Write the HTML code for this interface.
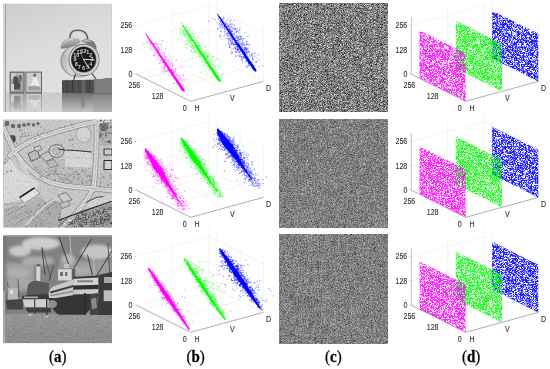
<!DOCTYPE html>
<html><head><meta charset="utf-8"><title>Figure</title>
<style>html,body{margin:0;padding:0;background:#fff;width:550px;height:369px;overflow:hidden}</style>
</head><body>
<svg width="550" height="369" viewBox="0 0 550 369" style="position:absolute;left:0;top:0"><defs><filter id="dn0" x="0" y="0" width="1" height="1" color-interpolation-filters="sRGB"><feTurbulence type="fractalNoise" baseFrequency="5.3" numOctaves="1" seed="30" result="n"/><feColorMatrix in="n" type="matrix" values="0 0 0 0 0  0 0 0 0 0  0 0 0 0 0  0 0 0 6 -2.3" result="m"/><feGaussianBlur in="m" stdDeviation=".35" result="mb"/><feComposite in="SourceGraphic" in2="mb" operator="in"/></filter><filter id="dn1" x="0" y="0" width="1" height="1" color-interpolation-filters="sRGB"><feTurbulence type="fractalNoise" baseFrequency="5.3" numOctaves="1" seed="31" result="n"/><feColorMatrix in="n" type="matrix" values="0 0 0 0 0  0 0 0 0 0  0 0 0 0 0  0 0 0 6 -2.3" result="m"/><feGaussianBlur in="m" stdDeviation=".35" result="mb"/><feComposite in="SourceGraphic" in2="mb" operator="in"/></filter><filter id="dn2" x="0" y="0" width="1" height="1" color-interpolation-filters="sRGB"><feTurbulence type="fractalNoise" baseFrequency="5.3" numOctaves="1" seed="32" result="n"/><feColorMatrix in="n" type="matrix" values="0 0 0 0 0  0 0 0 0 0  0 0 0 0 0  0 0 0 6 -2.3" result="m"/><feGaussianBlur in="m" stdDeviation=".35" result="mb"/><feComposite in="SourceGraphic" in2="mb" operator="in"/></filter><filter id="dn3" x="0" y="0" width="1" height="1" color-interpolation-filters="sRGB"><feTurbulence type="fractalNoise" baseFrequency="5.3" numOctaves="1" seed="33" result="n"/><feColorMatrix in="n" type="matrix" values="0 0 0 0 0  0 0 0 0 0  0 0 0 0 0  0 0 0 6 -2.3" result="m"/><feGaussianBlur in="m" stdDeviation=".35" result="mb"/><feComposite in="SourceGraphic" in2="mb" operator="in"/></filter><filter id="dn4" x="0" y="0" width="1" height="1" color-interpolation-filters="sRGB"><feTurbulence type="fractalNoise" baseFrequency="5.3" numOctaves="1" seed="34" result="n"/><feColorMatrix in="n" type="matrix" values="0 0 0 0 0  0 0 0 0 0  0 0 0 0 0  0 0 0 6 -2.3" result="m"/><feGaussianBlur in="m" stdDeviation=".35" result="mb"/><feComposite in="SourceGraphic" in2="mb" operator="in"/></filter><filter id="dn5" x="0" y="0" width="1" height="1" color-interpolation-filters="sRGB"><feTurbulence type="fractalNoise" baseFrequency="5.3" numOctaves="1" seed="35" result="n"/><feColorMatrix in="n" type="matrix" values="0 0 0 0 0  0 0 0 0 0  0 0 0 0 0  0 0 0 6 -2.3" result="m"/><feGaussianBlur in="m" stdDeviation=".35" result="mb"/><feComposite in="SourceGraphic" in2="mb" operator="in"/></filter><filter id="dn6" x="0" y="0" width="1" height="1" color-interpolation-filters="sRGB"><feTurbulence type="fractalNoise" baseFrequency="5.3" numOctaves="1" seed="36" result="n"/><feColorMatrix in="n" type="matrix" values="0 0 0 0 0  0 0 0 0 0  0 0 0 0 0  0 0 0 6 -2.3" result="m"/><feGaussianBlur in="m" stdDeviation=".35" result="mb"/><feComposite in="SourceGraphic" in2="mb" operator="in"/></filter><filter id="dn7" x="0" y="0" width="1" height="1" color-interpolation-filters="sRGB"><feTurbulence type="fractalNoise" baseFrequency="5.3" numOctaves="1" seed="37" result="n"/><feColorMatrix in="n" type="matrix" values="0 0 0 0 0  0 0 0 0 0  0 0 0 0 0  0 0 0 6 -2.3" result="m"/><feGaussianBlur in="m" stdDeviation=".35" result="mb"/><feComposite in="SourceGraphic" in2="mb" operator="in"/></filter><filter id="dn8" x="0" y="0" width="1" height="1" color-interpolation-filters="sRGB"><feTurbulence type="fractalNoise" baseFrequency="5.3" numOctaves="1" seed="38" result="n"/><feColorMatrix in="n" type="matrix" values="0 0 0 0 0  0 0 0 0 0  0 0 0 0 0  0 0 0 6 -2.3" result="m"/><feGaussianBlur in="m" stdDeviation=".35" result="mb"/><feComposite in="SourceGraphic" in2="mb" operator="in"/></filter><filter id="cn0" x="0" y="0" width="1" height="1" color-interpolation-filters="sRGB"><feTurbulence type="fractalNoise" baseFrequency="5.3" numOctaves="1" seed="11"/><feColorMatrix type="matrix" values="1.4 0 0 0 -.2  1.4 0 0 0 -.2  1.4 0 0 0 -.2  0 0 0 0 1"/><feGaussianBlur stdDeviation=".55"/></filter>
<filter id="cn1" x="0" y="0" width="1" height="1" color-interpolation-filters="sRGB"><feTurbulence type="fractalNoise" baseFrequency="5.3" numOctaves="1" seed="13"/><feColorMatrix type="matrix" values=".85 0 0 0 .075  .85 0 0 0 .075  .85 0 0 0 .075  0 0 0 0 1"/><feGaussianBlur stdDeviation=".4"/></filter>
<filter id="cn2" x="0" y="0" width="1" height="1" color-interpolation-filters="sRGB"><feTurbulence type="fractalNoise" baseFrequency="5.3" numOctaves="1" seed="17"/><feColorMatrix type="matrix" values=".85 0 0 0 .075  .85 0 0 0 .075  .85 0 0 0 .075  0 0 0 0 1"/><feGaussianBlur stdDeviation=".4"/></filter>
</defs><style>line{stroke-width:.6;fill:none}.g{stroke:#ededed}.a{stroke:#8a8a8a;stroke-width:.7}.a2{stroke:#9a9a9a;stroke-width:.6}.t{stroke:#b0b0b0}.pt{fill:none;stroke-width:.6;stroke-linecap:square}text{font:8.4px "Liberation Sans",Arial,sans-serif;fill:#2e2e2e;stroke:#2e2e2e;stroke-width:.1}.nm{font:bold 5.4px "Liberation Sans",sans-serif;fill:#d0d0d0;stroke:none;text-anchor:middle}.cap{font:15px "Liberation Serif",serif;fill:#000;stroke:#000;stroke-width:.25}</style><rect x="279" y="3.6" width="109" height="108.4" filter="url(#cn0)"/><rect x="279" y="119" width="109" height="108.8" filter="url(#cn1)"/><rect x="279" y="234.8" width="109" height="108.4" filter="url(#cn2)"/><line class="g" x1="227" y1="91.3" x2="172.6" y2="64.2"/><line class="g" x1="167.5" y1="89.7" x2="240.1" y2="69.8"/><line class="g" x1="144.3" y1="78.2" x2="216.9" y2="58.3"/><line class="g" x1="136.3" y1="74.2" x2="208.9" y2="54.3"/><line class="g" x1="208.9" y1="54.3" x2="263.3" y2="81.4"/><line class="g" x1="136.3" y1="49.8" x2="208.9" y2="29.9"/><line class="g" x1="136.3" y1="25.4" x2="208.9" y2="5.5"/><line class="g" x1="172.6" y1="64.2" x2="172.6" y2="7.1"/><line class="g" x1="208.9" y1="54.3" x2="208.9" y2="-2.9"/><line class="g" x1="263.3" y1="57" x2="208.9" y2="29.9"/><line class="g" x1="263.3" y1="32.6" x2="208.9" y2="5.5"/><line class="g" x1="263.3" y1="81.4" x2="263.3" y2="24.2"/><line class="g" x1="240.1" y1="69.8" x2="240.1" y2="12.6"/><line class="g" x1="216.9" y1="58.3" x2="216.9" y2="1.1"/><line class="a" x1="136.3" y1="74.2" x2="190.7" y2="101.3"/><line class="a" x1="190.7" y1="101.3" x2="263.3" y2="81.4"/><line class="t" x1="134.3" y1="74.2" x2="136" y2="74.2"/><line class="t" x1="134.3" y1="49.8" x2="136" y2="49.8"/><line class="t" x1="134.3" y1="25.4" x2="136" y2="25.4"/><path fill="#ff00ff" d="M145.1 33.1 145.9 34.6 146.7 36 147.5 37.5 148.5 38.9 149.4 40.4 150.4 41.8 151.3 43.3 152.2 44.8 153.2 46.2 154.1 47.7 155.1 49.1 156 50.6 157 52 157.9 53.5 158.8 55 159.8 56.4 160.7 57.9 161.7 59.3 162.6 60.8 163.5 62.2 164.5 63.7 165.4 65.2 166.4 66.6 167.3 68.1 168.3 69.5 169.2 71 170.1 72.5 171.1 73.9 172 75.4 173 76.8 173.9 78.3 174.9 79.7 175.8 81.2 176.7 82.7 177.7 84.1 178.6 85.6 179.6 87 180.5 88.5 181.6 89.9 183.2 91.4 184.9 91.4 184.7 89.9 183.8 88.5 182.8 87 181.8 85.6 180.8 84.1 179.8 82.7 178.8 81.2 177.8 79.7 176.8 78.3 175.8 76.8 174.8 75.4 173.8 73.9 172.8 72.5 171.8 71 170.8 69.5 169.8 68.1 168.8 66.6 167.8 65.2 166.8 63.7 165.8 62.2 164.9 60.8 163.9 59.3 162.9 57.9 161.9 56.4 160.9 55 159.9 53.5 158.9 52 157.9 50.6 156.9 49.1 155.9 47.7 154.9 46.2 153.9 44.8 152.9 43.3 151.9 41.8 150.9 40.4 149.9 38.9 148.9 37.5 147.8 36 146.6 34.6 145.5 33.1Z"/><path stroke="#ff00ff" class="pt" opacity=".75" d="M170.9 62.6h.1M175.6 68.8h.1M150.5 44.3h.1M168.5 70.6h.1M152 49.6h.1M175.4 71.9h.1M154.4 55.9h.1M156 59.8h.1M163.3 40.3h.1M164.4 59.6h.1M153.6 44.3h.1M156.8 52.1h.1M167.6 67.7h.1M172.7 72.2h.1M154 55.5h.1M172.6 72.1h.1M173.5 78.4h.1M173.4 69.2h.1M164 69.1h.1M175.8 79.9h.1M160.7 60.9h.1M177 74.9h.1M156.7 43.2h.1M154.9 50.2h.1M159.4 49h.1M173.1 72.7h.1M163.9 64h.1M169.2 66.7h.1M165.6 57.3h.1M164.1 68.3h.1M179 76h.1M184.4 81.7h.1M172.9 63.9h.1M151.9 40.8h.1M162.8 61.8h.1M168.2 61.2h.1M161.9 69h.1M154.1 48.8h.1M164.7 70.4h.1M163.6 62.5h.1M172.5 75.2h.1M152.6 46.6h.1M161.4 47.2h.1M173.5 72.4h.1M159.6 63.7h.1M153.9 48.6h.1M167.6 69.9h.1M181.6 75.4h.1M166.3 58.1h.1M163.5 62.5h.1M162.6 71.4h.1M179.4 79.1h.1M154 43.9h.1M158 48.8h.1M171.8 65h.1M164.8 64.9h.1M169 54.4h.1M163.6 67.3h.1M175.8 68.5h.1M172.6 65.5h.1M183.3 74.7h.1M170.2 63h.1M159.2 63.2h.1M148.9 41h.1M160.9 57.6h.1M162.5 65.3h.1M164.7 58.9h.1M175.2 71h.1M182.6 82h.1M164.3 56.8h.1M178.2 83.8h.1M158.9 61.3h.1M161.5 40.6h.1M161.5 45.8h.1M151.3 49.6h.1M165.4 65.8h.1M176.2 85.9h.1M180.7 78h.1M172.1 69.7h.1M166.6 62.8h.1M169.9 65.1h.1M172.3 60.1h.1M182.7 80.1h.1M160.6 60.5h.1M165.5 71.6h.1M166.3 56.8h.1M183.2 88.4h.1M161.5 60.1h.1M182.5 66.9h.1M165.6 71.4h.1M149.8 48h.1M167 61.1h.1M170.4 72.3h.1M146.6 41.2h.1M176.6 59.7h.1M186.5 87h.1M180.4 66.2h.1M162.6 62.7h.1M165.7 62.4h.1M175.9 60.9h.1M168.8 76.2h.1M168.2 70.7h.1M171.5 69.6h.1M177.9 84h.1M173 71h.1M176.6 73.9h.1M158.6 50.4h.1M167.5 71.1h.1M181.4 80.2h.1M172.7 67.4h.1M160.2 44h.1M158 55.3h.1M154.6 43.9h.1M156.9 47.3h.1M183.5 75h.1M162.3 62.1h.1M155.3 52.6h.1M165.1 58.9h.1M174 83.7h.1M164.9 72.2h.1M155 44.2h.1M173.6 71.3h.1M158.4 50.7h.1M174.1 73h.1M172.2 66.2h.1M159.4 49.2h.1M147.7 42.6h.1M165.3 48.7h.1M150 42.1h.1M171.9 75.9h.1M164.5 55.6h.1M165.2 57.1h.1M180.8 79.8h.1M164.2 52.3h.1M171.2 75.7h.1M168.3 66h.1M157.7 44.4h.1M168.6 63.1h.1M183.9 79.5h.1M162.3 50.9h.1M158.3 55.8h.1M177.9 75.7h.1M166.3 62.9h.1M158.2 58.7h.1M178.1 80h.1M163.1 67.1h.1M164.4 53.4h.1M167.2 67.9h.1M156.1 46.9h.1M166.7 60.1h.1M165.1 48.2h.1M165.6 60.7h.1M168 59.3h.1M166.6 70.6h.1M156.2 44.8h.1M175.6 70.2h.1M158.6 56.7h.1M171.3 66.4h.1M169.9 71.6h.1M176.9 74.9h.1M169.5 67.7h.1M172.8 70.5h.1M160.9 52.4h.1M143.6 43.8h.1M172.7 72.4h.1M167.7 69.7h.1M157.9 47.5h.1M157.4 53.1h.1M177 73.1h.1M164.6 60h.1M168.8 60.2h.1M168.6 66.2h.1M176.9 76.7h.1M157.6 43.5h.1M164.7 66.3h.1M186.3 79.7h.1M158.2 46.2h.1M154.1 54.6h.1M164.9 59.8h.1M170.2 64.8h.1M183.4 84.8h.1M173.6 71.5h.1M179.6 75.7h.1M151.4 43.8h.1M157.7 48.8h.1M164.2 69.1h.1M154.7 53.8h.1M164.5 66.1h.1M156.3 53h.1M162.6 52.9h.1M183.2 88.7h.1M160.9 49.4h.1M180.4 78.5h.1M166.1 65.7h.1M171.9 69.7h.1M177.8 79.7h.1M168.4 64.4h.1M174.1 83.4h.1M163.3 61.5h.1M165.4 67.2h.1M155.6 42.2h.1M171.7 69.5h.1M149.4 43.9h.1M158.7 47.3h.1M177.6 84.5h.1M153.8 43.4h.1M158.5 51.8h.1M171.7 70.3h.1M170.1 56.8h.1M171.8 63.4h.1M154 46h.1M151.8 43h.1M158.4 51.1h.1M178.5 83.5h.1M172.1 73.5h.1M151.1 44.1h.1M172.7 74.9h.1M181.8 87.2h.1M180 86.2h.1M164.9 63.5h.1M146.8 35.4h.1M157 51.3h.1M172.5 73.9h.1M150.8 42.1h.1M161.4 56.6h.1M156.7 50.2h.1M182 89.4h.1M178.7 83.6h.1M162.7 58.1h.1M157.9 52.4h.1M161.5 56.9h.1M154.2 47.3h.1M150.9 41.5h.1M171.7 74.1h.1M148.4 36.9h.1M167.7 67.5h.1M146.7 34.2h.1M151.2 43.4h.1M160.7 54.1h.1M168.8 69.8h.1M179.7 84.3h.1M150.3 41.3h.1M183.5 90.3h.1M172.9 72.8h.1M159.4 56.1h.1M165 64.8h.1M181.5 90.1h.1M174.1 73.5h.1M163.9 61.9h.1M174.4 77h.1M157.5 52h.1M148.5 37.1h.1M149.8 39.3h.1M179 84.2h.1M176 79.3h.1M172.2 75.3h.1M177 82.1h.1M173.6 73.8h.1M149.9 40.2h.1M151 43.5h.1M182.5 89.4h.1M172.4 69.5h.1M149.7 40.5h.1M183.8 91.1h.1M165.8 64.9h.1M176.1 80.1h.1M170.2 69.1h.1M172.4 73.4h.1M152.6 43.2h.1M164.2 61.6h.1"/><path fill="#00ff00" d="M181.2 23.1 182 24.6 182.8 26 183.6 27.5 184.6 29 185.5 30.4 186.4 31.9 187.4 33.4 188.3 34.8 189.3 36.3 190.2 37.8 191.1 39.2 192.1 40.7 193 42.1 194 43.6 194.9 45.1 195.8 46.5 196.8 48 197.7 49.5 198.7 50.9 199.6 52.4 200.5 53.9 201.5 55.3 202.4 56.8 203.4 58.3 204.3 59.7 205.2 61.2 206.2 62.7 207.1 64.1 208.1 65.6 209 67.1 209.9 68.5 210.9 70 211.8 71.4 212.8 72.9 213.7 74.4 214.6 75.8 215.6 77.3 216.5 78.8 217.6 80.2 219.2 81.7 220.8 81.7 220.5 80.2 219.6 78.8 218.6 77.3 217.6 75.8 216.7 74.4 215.7 72.9 214.7 71.4 213.7 70 212.7 68.5 211.7 67.1 210.7 65.6 209.7 64.1 208.7 62.7 207.7 61.2 206.8 59.7 205.8 58.3 204.8 56.8 203.8 55.3 202.8 53.9 201.8 52.4 200.8 50.9 199.8 49.5 198.8 48 197.8 46.5 196.8 45.1 195.9 43.6 194.9 42.1 193.9 40.7 192.9 39.2 191.9 37.8 190.9 36.3 189.9 34.8 188.9 33.4 187.9 31.9 186.9 30.4 186 29 185 27.5 183.9 26 182.7 24.6 181.6 23.1Z"/><path stroke="#00ff00" class="pt" opacity=".75" d="M201.5 55.6h.1M188 38.5h.1M187.2 29.1h.1M170.2 30.8h.1M200.5 51.3h.1M205.3 61.2h.1M197.1 49.3h.1M184.7 28.1h.1M192.8 45.5h.1M183.5 27.1h.1M204.5 53.3h.1M199.6 46.8h.1M222.5 77.4h.1M209.5 62.9h.1M201.1 56.5h.1M202.9 60.8h.1M197.8 44.7h.1M185.6 31.3h.1M208.8 64.8h.1M183.4 32.3h.1M185.7 47.2h.1M203.5 43.7h.1M198 49.1h.1M207.7 63.5h.1M218.6 75.7h.1M215.5 77.4h.1M199.7 59.4h.1M208.2 53h.1M205.8 61.9h.1M191 46.2h.1M198.9 53h.1M207.2 57.1h.1M198.1 50.5h.1M205.5 48h.1M202.6 51.6h.1M213.4 67.7h.1M199.9 49.9h.1M197 41.2h.1M211.9 67.7h.1M204.1 54.8h.1M198.9 45.5h.1M180 33h.1M217.4 58.8h.1M194.6 36.9h.1M188.5 36.8h.1M191.6 44h.1M206.2 57.9h.1M209.8 62.5h.1M201.4 45h.1M208.1 64.9h.1M192.9 48.7h.1M198 53.1h.1M188.6 39.3h.1M211.7 61.4h.1M208.4 65h.1M186.6 48.5h.1M190.9 41.5h.1M199.1 47.7h.1M200.5 47.8h.1M212.4 57.5h.1M180.5 31.5h.1M216.1 60.7h.1M194.7 50.9h.1M219.3 61.1h.1M198.8 48.2h.1M192.4 37.7h.1M213.1 65.2h.1M205.7 59.3h.1M213.2 64.5h.1M208.9 54.6h.1M196.8 42.4h.1M183.3 33.3h.1M209.9 66.8h.1M185.4 37.7h.1M215.1 70.3h.1M203.8 47h.1M201.2 48.4h.1M212.7 64.8h.1M179.9 28.8h.1M210.9 59.9h.1M192.7 31.1h.1M188.5 43.1h.1M198.8 52.6h.1M206.7 65h.1M194.3 51.3h.1M203.7 55h.1M192 45.8h.1M214.7 65.3h.1M208.2 76h.1M192.4 45.7h.1M203.4 58.4h.1M204.1 53.3h.1M192.4 39.3h.1M212.5 71.4h.1M209.6 70h.1M218.5 67.4h.1M202.9 55h.1M204 56.2h.1M216.8 73.6h.1M205.8 65.5h.1M186.4 32.6h.1M209 61.1h.1M204.8 55.8h.1M209.3 54.7h.1M194.7 51.1h.1M193.5 52.4h.1M189.4 35.5h.1M183.6 34.9h.1M198 46.4h.1M208.4 56.7h.1M207.9 63.1h.1M211.8 56.5h.1M189.8 46.3h.1M207.8 55.3h.1M199.1 51.6h.1M199.6 42.5h.1M202.8 56.1h.1M212.7 68h.1M187.6 36.8h.1M218.8 65.7h.1M214.8 62h.1M209.4 64.2h.1M202.1 54.5h.1M186.5 33.6h.1M193.8 40.8h.1M204.9 57.7h.1M220.8 66.8h.1M195.3 45.6h.1M200 45.6h.1M205.1 56.5h.1M208.7 60.4h.1M207.7 55.8h.1M213.5 71.5h.1M199.6 53.5h.1M199.7 53.8h.1M206.9 63h.1M204.6 51.7h.1M183.6 34h.1M200.2 56.8h.1M205.4 74.7h.1M191.1 27.7h.1M186.6 27.5h.1M202.7 52.9h.1M185.8 25.9h.1M210.9 69.8h.1M187.5 40.1h.1M208.5 62h.1M188.4 36h.1M211.8 67.5h.1M191.1 40.7h.1M187.5 36.4h.1M210.8 63.7h.1M179.4 39.7h.1M206.5 45.2h.1M197.6 46.1h.1M191.4 44.2h.1M196.8 57.3h.1M197.5 46.1h.1M221.2 75.7h.1M193.7 46.5h.1M184.1 30.4h.1M196.8 42.7h.1M203.5 54.1h.1M217.2 75.6h.1M197.7 42.4h.1M184.6 34.8h.1M200.9 50h.1M218.3 76.7h.1M187.6 29.7h.1M191.2 38.1h.1M196.7 52.4h.1M180.8 28.6h.1M196.9 51.3h.1M192.8 48.2h.1M223.7 73.5h.1M202 72.1h.1M191.8 41.3h.1M207.9 56.6h.1M184.4 44.5h.1M207.3 53.1h.1M188.3 40.2h.1M202.4 51.4h.1M198.5 49.2h.1M191.8 52.4h.1M197 52.4h.1M202.8 52.8h.1M206.1 61.4h.1M213.4 67.7h.1M186.7 43.9h.1M217 72h.1M205.7 58.6h.1M200.8 55.7h.1M198.2 46.5h.1M207.4 67.2h.1M206.9 62.6h.1M184.8 35.6h.1M221.5 73.5h.1M188.8 43.8h.1M202.8 54h.1M189.5 37.2h.1M181.6 30.5h.1M197 48.3h.1M211.2 76.3h.1M204.1 65.4h.1M200.7 72.9h.1M202.8 53.7h.1M186.6 34.8h.1M210.1 63.7h.1M206.8 63.1h.1M199.8 51h.1M183.3 30h.1M180.3 33h.1M193.7 47h.1M186.1 33.3h.1M206.7 50.6h.1M194 52.5h.1M188.2 33.4h.1M194.6 53.2h.1M205.6 63.4h.1M194.7 49.8h.1M188 42.4h.1M207.9 72.4h.1M195.9 47.1h.1M201.1 60.6h.1M199.2 54.8h.1M208.4 66h.1M194 46.3h.1M210 65.6h.1M206.2 55.5h.1M209.7 66.1h.1M186.8 40.7h.1M190.2 41.6h.1M192 57.7h.1M199.6 56.4h.1M182.7 30.1h.1M212.2 69.6h.1M198.4 54.6h.1M194.7 33.8h.1M192.4 39.6h.1M191.1 40.2h.1M210.7 62.5h.1M191.1 51.3h.1M207.2 56h.1M196.7 38.7h.1M186.6 44.4h.1M187.5 35.3h.1M191.1 38.8h.1M204.3 54.7h.1M207 57.6h.1M185.1 35.3h.1M192.1 43.6h.1M194.6 45.2h.1M189.2 40.4h.1M194.5 40.2h.1M207.7 52.7h.1M204 58.4h.1M191.6 47.9h.1M204.9 53.3h.1M189.8 38.2h.1M211.1 67.9h.1M207.8 61.5h.1M205.9 46.5h.1M190.5 30.4h.1M205.6 52.9h.1M219.1 77.7h.1M186.2 34.1h.1M197 55.8h.1M207.1 57.4h.1M186 37.7h.1M207.4 56.4h.1M213.7 60.7h.1M201.5 55.3h.1M218.2 65.8h.1M189.9 33.9h.1M197.1 51.2h.1M208.8 69h.1M212.5 74.7h.1M212.1 68.9h.1M199.6 52.4h.1M185 30.3h.1M205 58.7h.1M196.6 46.4h.1M185.6 43.3h.1M181.1 35.9h.1M206.5 56.2h.1M175.3 28.5h.1M206.3 58.1h.1M188.6 34.3h.1M215.7 71.9h.1M218.6 74h.1M190.9 36.9h.1M184.1 35.2h.1M200.7 52.8h.1M205.3 58.4h.1M198 46.8h.1M190.8 46.7h.1M214.8 73.7h.1M193.3 35.8h.1M203.9 45.1h.1M212.7 56.4h.1M185.2 34h.1M208.8 66.7h.1M195.2 43.6h.1M190.4 40h.1M209.8 70.3h.1M186.5 26.7h.1M205.7 59.3h.1M205.3 50.9h.1M193.8 48.5h.1M208.9 64.7h.1M190 37.2h.1M195.9 47.6h.1M189.3 29.7h.1M201.8 55h.1M206.6 59.8h.1M185.7 34.9h.1M204 57.9h.1M211.7 61h.1M199.2 55.9h.1M188.9 41.2h.1M186.2 40.2h.1M179.3 29.4h.1M184.4 41.6h.1M191.5 47h.1M200.2 51.4h.1M195 47.1h.1M181.6 34h.1M191.4 50h.1M193.6 37.4h.1M192.7 33.1h.1M188.7 37.6h.1M221.2 75.3h.1M183.4 32h.1M185.6 37.1h.1M198.5 37.7h.1M199.8 42.8h.1M189.9 39.6h.1M207.6 65.2h.1M206.2 62.6h.1M188.1 31.2h.1M204.7 60h.1M205.8 57h.1M193.1 47.8h.1M192.5 45.7h.1M202.9 61.8h.1M197.4 39.9h.1M214.4 74.2h.1M214.8 73.1h.1M195.6 45h.1M196.8 48.4h.1M205.1 59.7h.1M188.2 32.4h.1M209.5 57.6h.1M198.6 44.9h.1M183.6 31.7h.1M202.9 65.8h.1M203 61.1h.1M200.1 52.8h.1M188.1 31.4h.1M194.2 49.2h.1M215.7 66.3h.1M185.6 29.8h.1M204.4 61h.1M197.3 50.3h.1M181.5 33.6h.1M217.6 70.2h.1M218.2 76.4h.1M218.5 75.1h.1M187.2 33.6h.1M204.7 63.9h.1M192 50.9h.1M206.6 63.2h.1M198.8 45.3h.1M198.9 45.9h.1M214.1 70h.1M190.8 38.4h.1M189.8 35.9h.1M189.8 42.5h.1M215.3 66.9h.1M207.6 57.5h.1M219.8 81.1h.1M193.7 40.5h.1M215.6 73.9h.1M193.6 40.1h.1M213.1 71.6h.1M194.8 43.1h.1M196.5 47.5h.1M192.3 39.9h.1M200.3 52h.1M193 40.5h.1M200.5 51.1h.1M198.9 49.1h.1M210.8 69.1h.1M210.9 66.6h.1M215.4 75.2h.1M200.4 54.3h.1M214.5 73h.1M182.3 26.5h.1M188.5 33.1h.1M199.7 52.3h.1M181.6 22.9h.1M212.8 68.9h.1M210.7 65.8h.1M195.8 42.5h.1M186 30.8h.1M185 29.7h.1M200 48.3h.1M216.5 76.5h.1M198.5 49.9h.1M220 81.2h.1M213.9 72.6h.1M211.7 69.3h.1M218.5 79.4h.1M209.5 66.8h.1M201.1 54.3h.1M191.2 35.3h.1M218.3 76.9h.1M203.1 55.7h.1M215.3 72.4h.1M219.1 80.8h.1M207.9 63.7h.1M216.5 75.5h.1M188.9 34.8h.1M185.2 29.6h.1M189.2 36.6h.1M218.7 76.7h.1M204.3 58.6h.1M194.4 42.9h.1M208 61.5h.1M198.2 49.8h.1M214.6 73.7h.1M214.8 71.7h.1M215.5 73.1h.1M217 75.7h.1M196.5 46.1h.1M193.9 41.3h.1M189 34.6h.1M192.1 40.1h.1M201.6 54.6h.1M212.5 70.5h.1"/><path fill="#0000ff" d="M217 13.8 217.7 15.2 218.5 16.7 219.3 18.1 220.3 19.6 221.2 21 222.1 22.4 223.1 23.9 224 25.3 225 26.7 225.9 28.2 226.8 29.6 227.8 31.1 228.7 32.5 229.7 33.9 230.6 35.4 231.5 36.8 232.5 38.2 233.4 39.7 234.4 41.1 235.3 42.5 236.2 44 237.2 45.4 238.1 46.9 239.1 48.3 240 49.7 240.9 51.2 241.9 52.6 242.8 54 243.8 55.5 244.7 56.9 245.6 58.4 246.6 59.8 247.5 61.2 248.5 62.7 249.4 64.1 250.3 65.5 251.3 67 252.2 68.4 253.3 69.9 255 71.3 256.7 71.3 256.4 69.9 255.5 68.4 254.5 67 253.5 65.5 252.6 64.1 251.6 62.7 250.6 61.2 249.6 59.8 248.6 58.4 247.6 56.9 246.6 55.5 245.6 54 244.6 52.6 243.6 51.2 242.6 49.7 241.7 48.3 240.7 46.9 239.7 45.4 238.7 44 237.7 42.5 236.7 41.1 235.7 39.7 234.7 38.2 233.7 36.8 232.8 35.4 231.8 33.9 230.8 32.5 229.8 31.1 228.8 29.6 227.8 28.2 226.8 26.7 225.8 25.3 224.8 23.9 223.8 22.4 222.8 21 221.9 19.6 220.9 18.1 219.8 16.7 218.6 15.2 217.4 13.8Z"/><path stroke="#0000ff" class="pt" opacity=".75" d="M223.1 19h.1M221.5 24.6h.1M242.6 43.1h.1M227.4 30.5h.1M244.8 32.7h.1M226.5 20.5h.1M253.2 53.8h.1M246 59.1h.1M231.8 52.8h.1M241.3 51.3h.1M227.1 33.6h.1M235.5 44.5h.1M230.2 34.9h.1M240.8 47.2h.1M244.9 48.3h.1M229.6 28.8h.1M228.4 42.8h.1M229 32.9h.1M247.8 61.7h.1M242.5 52h.1M230.7 45.2h.1M234 20.3h.1M230.4 35.1h.1M233.8 39h.1M229.5 44.5h.1M229.3 29.3h.1M236.1 44.6h.1M245.2 52.9h.1M237.1 31.5h.1M243.4 38.7h.1M253.7 65.4h.1M246.1 48.3h.1M219.6 23.5h.1M229.6 24h.1M231.5 52h.1M245.8 58.5h.1M249.8 56.2h.1M243.6 38.9h.1M237.2 30.9h.1M246.6 60.9h.1M243.8 57.6h.1M237.4 40.5h.1M238.2 38.3h.1M230.2 24.6h.1M245.1 50.2h.1M241.6 38.9h.1M224.7 30h.1M251 64.9h.1M255.6 61.8h.1M236.6 29.2h.1M228.1 31.7h.1M237.1 46.6h.1M222.1 22.4h.1M239 30.6h.1M235.5 47.6h.1M228.1 33.3h.1M241 49.7h.1M229.1 39h.1M237.6 47.7h.1M242.8 45.5h.1M225 31.8h.1M223.6 21.3h.1M224.4 26.7h.1M237.4 49.7h.1M233 48.5h.1M241.3 48.3h.1M232.4 35.5h.1M240.5 36.6h.1M245.2 53.5h.1M240.4 54.8h.1M249 51.4h.1M249.4 53h.1M224.8 25.4h.1M248.6 62.5h.1M246.5 43.7h.1M244 49.9h.1M240.2 39.7h.1M238.2 40.7h.1M230.3 47.5h.1M238.8 42.1h.1M231.9 39.2h.1M243.6 48.2h.1M238.4 45.4h.1M234.8 39.9h.1M229.7 39.2h.1M246.9 44.9h.1M223.8 17.3h.1M212.4 18.2h.1M223.9 17.7h.1M238.8 32.9h.1M226.6 29.1h.1M229.2 26.8h.1M240.1 47.3h.1M238.5 43.3h.1M244.6 47h.1M243.9 43.3h.1M230.4 22.2h.1M228.3 26.5h.1M232.6 39.2h.1M246.6 57.2h.1M224.7 26.9h.1M240.5 39h.1M243.5 56.5h.1M238.3 52.2h.1M239.8 36.9h.1M237.1 42.9h.1M229.7 37.4h.1M244.3 51.7h.1M235.1 29.7h.1M242.9 54.8h.1M239.7 28.2h.1M242.5 50.9h.1M236.2 56.4h.1M241.2 48h.1M222.7 26.2h.1M238.2 49.3h.1M259 59.7h.1M243.2 52.5h.1M237.2 50.6h.1M240.9 48.4h.1M226.3 33.3h.1M242.4 48.9h.1M233 39.7h.1M241.6 59.5h.1M231.9 35.9h.1M262.8 65.4h.1M257 57.7h.1M230.9 20h.1M231.3 26.1h.1M235.2 42.8h.1M232.4 24.1h.1M229.2 47.4h.1M246.5 53.9h.1M220.2 31.4h.1M248.3 51.7h.1M237.4 49.1h.1M232.2 41.3h.1M227.1 24.4h.1M228.8 44.2h.1M238.1 48.8h.1M232.9 35.4h.1M242.6 51.8h.1M231.1 36.9h.1M234.3 25.3h.1M220 35.3h.1M237.1 47.6h.1M241.1 48.8h.1M238.8 38.2h.1M217.8 29.2h.1M230.8 40.6h.1M224.9 34.6h.1M247 65.8h.1M236 42.2h.1M222 19.5h.1M236.8 31.6h.1M252.2 56.2h.1M219.7 20.8h.1M241.1 57.3h.1M238.1 37h.1M249.3 44.9h.1M233.8 44.6h.1M239.6 39.7h.1M237.8 41.1h.1M232.5 31.7h.1M236.3 52.1h.1M230.2 38.2h.1M222.3 27.6h.1M222.6 19.3h.1M229.9 41h.1M233.7 36.7h.1M228.3 40.8h.1M247.8 61.1h.1M235.5 48.5h.1M228.9 25.6h.1M224.2 26.1h.1M230.6 30.6h.1M241.6 50.8h.1M241.6 38.4h.1M235.9 40.5h.1M251.3 55.7h.1M245.4 49h.1M249.7 54.7h.1M233.9 28.1h.1M243.5 52.9h.1M228.3 25.6h.1M254.5 56.4h.1M238.8 45.5h.1M231.8 42.8h.1M231 49.3h.1M256 62.2h.1M239.2 45.4h.1M243.3 51.4h.1M228.6 35.4h.1M245 57.7h.1M231.1 32.1h.1M242.7 40.1h.1M246.5 48.1h.1M238.4 43.9h.1M230 41.4h.1M229.7 31.5h.1M227.1 26.7h.1M247.4 44.1h.1M230.9 35.1h.1M224.1 25.6h.1M237.5 44.3h.1M235.9 32.1h.1M247.9 56.7h.1M247.8 41.3h.1M234 34.2h.1M239.2 43.8h.1M243.1 57.1h.1M222.1 24.2h.1M251.6 65.9h.1M223.9 27.9h.1M230.8 34.5h.1M245.2 47.9h.1M240.1 48.8h.1M241.7 43.6h.1M234.5 44.4h.1M246.6 52.8h.1M225.3 25.5h.1M248.4 63.9h.1M237.1 40.5h.1M240.9 45.1h.1M248.3 48h.1M245.7 61.3h.1M237.2 48.5h.1M235.4 29.2h.1M258.7 66.2h.1M236.4 35.5h.1M246.3 41.3h.1M231.9 42.9h.1M245.6 56.6h.1M233.2 25.9h.1M232 29.3h.1M239 51.9h.1M234 47.3h.1M253.3 65.7h.1M231.1 32.8h.1M221.8 27.8h.1M231.1 40.2h.1M234.6 48.4h.1M230.5 38.7h.1M253.7 68.5h.1M235 28.1h.1M241.9 47h.1M239.6 48.7h.1M246.1 66.9h.1M232.2 31.4h.1M240.7 46.3h.1M247.5 52.4h.1M248.7 44.4h.1M234 34.4h.1M253.5 66.3h.1M245.3 57.4h.1M227.4 26.9h.1M220.4 21.5h.1M219 24.9h.1M246.4 49.8h.1M227.1 35.3h.1M231.6 24h.1M228.2 28.3h.1M248.6 63h.1M242 53.6h.1M237 44.4h.1M242.8 44.7h.1M232.1 34.5h.1M219.5 27.9h.1M228.5 39.4h.1M229.2 29.8h.1M234.6 40.4h.1M231.5 27h.1M233.8 29.9h.1M251.1 62.9h.1M242.7 42.5h.1M219.2 17.8h.1M232.7 28.1h.1M225.8 22.7h.1M257.9 54.7h.1M247.7 49.7h.1M246.4 41.8h.1M244.2 49.1h.1M246.3 50.8h.1M239.4 56.6h.1M236.1 37.3h.1M231.3 33.3h.1M235.8 42h.1M224.6 32h.1M217.4 23h.1M239.7 30.2h.1M242.9 44.3h.1M235.6 46.5h.1M254.6 53.3h.1M232.8 33.8h.1M231.7 54.2h.1M243.1 49.6h.1M231.1 30.9h.1M239.6 55h.1M238.8 36.1h.1M242.3 49.6h.1M236.9 52.3h.1M237.9 38h.1M243.7 58h.1M236.3 32.2h.1M243.3 53.4h.1M238.3 49.3h.1M247 48.4h.1M250.5 61.9h.1M235.3 28.9h.1M242.4 47h.1M245.2 49.4h.1M224.7 28.3h.1M250.7 64h.1M224 35.9h.1M228.6 25.9h.1M243.7 54.4h.1M240.2 36.1h.1M239.7 52.5h.1M231.3 31.4h.1M208.5 21.2h.1M245.8 56.9h.1M236.2 43.1h.1M221.8 22.9h.1M237.6 28.5h.1M226.5 23.7h.1M246.7 59.7h.1M232.8 52.7h.1M229.5 46.5h.1M251.7 53.2h.1M229 28.3h.1M246.2 60.8h.1M230.5 27.5h.1M248.8 64.1h.1M240.8 43.8h.1M244.3 51.7h.1M252.3 58.5h.1M222.7 24.8h.1M249.2 65.3h.1M237.1 37.8h.1M250.9 63.8h.1M230 33.4h.1M248.3 60h.1M227.1 25.1h.1M236.1 36.5h.1M245.6 54.6h.1M227.3 38.4h.1M237.8 37.1h.1M225.9 27.4h.1M241.5 36.6h.1M220.3 35.8h.1M234.3 42.2h.1M220 26.1h.1M243.1 56.9h.1M237.7 39.4h.1M235.8 42.8h.1M219.8 37.5h.1M241.6 44.6h.1M232.4 43.4h.1M248.6 51.9h.1M220.8 29.7h.1M247.3 49h.1M224.2 26.7h.1M247.5 67.1h.1M229.2 46h.1M235.3 39.1h.1M217.5 28.2h.1M239.9 48.5h.1M221.6 39.3h.1M242 57.9h.1M242.6 51.4h.1M235.3 52.1h.1M232.5 36.6h.1M235.6 42.9h.1M229.6 32.5h.1M237.5 50.3h.1M242.2 49.7h.1M252.3 62.1h.1M227.4 34.4h.1M231.7 44.1h.1M246.9 53.7h.1M246.5 49.9h.1M247 51.8h.1M239.9 42.1h.1M226.3 29.9h.1M235.8 40.3h.1M239 39.4h.1M218.6 18.9h.1M227.7 36.5h.1M221.3 26h.1M247.6 55.7h.1M220.6 22.9h.1M228.9 32.2h.1M226.9 38.9h.1M222.6 22.3h.1M242.6 62h.1M253.3 59.6h.1M232 38h.1M249.7 62.8h.1M232.1 42.5h.1M239.2 44.7h.1M230.6 31.3h.1M236.2 37.8h.1M229.1 30.2h.1M235.7 49.3h.1M234.3 33h.1M238.1 55.4h.1M220.9 25h.1M252.3 57.3h.1M244.7 52.7h.1M248.9 65.7h.1M238.8 49.6h.1M215 19.7h.1M233.2 45.4h.1M251.5 54.9h.1M233 43.8h.1M236.1 49.7h.1M245.2 47.5h.1M252.5 59.3h.1M244.9 44.8h.1M234.3 44.4h.1M239.9 39.8h.1M227.4 33h.1M245.5 54.1h.1M240 52.1h.1M230.2 42.9h.1M242 60.3h.1M256.7 61.4h.1M241 37.7h.1M233.2 43.9h.1M241.7 50.8h.1M240.1 56.4h.1M248.6 58.4h.1M238.7 50.4h.1M230.4 30h.1M224.8 22.5h.1M230.8 36.2h.1M243.1 50h.1M224.6 25.9h.1M248.7 63.8h.1M239.9 51.8h.1M242.2 41.6h.1M240.1 47.6h.1M235.7 44.9h.1M244.5 57.3h.1M228.2 18.7h.1M248 36.5h.1M229 35h.1M218.5 17.1h.1M241.5 56.5h.1M234.4 38.3h.1M242.1 59.1h.1M244.3 50.5h.1M243.8 53.3h.1M235.4 51.6h.1M244.1 52.3h.1M235.5 55.8h.1M230.4 34.5h.1M221 31.9h.1M246 52.6h.1M231.5 37.4h.1M237.2 45.2h.1M232 35.5h.1M246.4 61.9h.1M245.8 51.8h.1M252.1 55h.1M234.3 39.5h.1M252.1 65.4h.1M231.6 33.2h.1M236.7 44.7h.1M235.6 40.3h.1M231.1 43.5h.1M225.9 44.8h.1M232.8 40h.1M244.7 45.2h.1M246.5 44.3h.1M237.4 46.5h.1M220.7 21.4h.1M230 20.1h.1M224.9 29h.1M236.6 44.2h.1M220.6 17.8h.1M219.2 16.7h.1M225.7 26.5h.1M237.1 42.9h.1M222 21.3h.1M248.2 62.8h.1M225 24.3h.1M252.5 67.6h.1M235.6 42.3h.1M253.5 68.6h.1M225.1 24.7h.1M222.8 21.4h.1M249.4 61.1h.1M238.8 45.9h.1M243.2 52.9h.1M223.8 22.8h.1M224.8 23.8h.1M236.5 42.7h.1M241.4 49.6h.1M245.6 56.6h.1M227.5 29.6h.1M222.9 23.1h.1M225.3 24.2h.1M237.1 45h.1M240.6 46.8h.1M249.8 61.8h.1M248.9 62.2h.1M248.7 60.5h.1M230 32.8h.1M238.9 45.6h.1M235 39.3h.1M235.6 40.7h.1M244.5 50.1h.1M241.9 51.4h.1M249 63.1h.1M227.2 28.5h.1M241.7 50.6h.1M233.3 38.3h.1M244.2 53.5h.1M236.7 43.4h.1M254 69.1h.1M237.3 43.9h.1M243.8 53.8h.1M255.3 70.7h.1M253 68h.1M234.4 39.4h.1M220.5 20.9h.1M223.3 23.2h.1M238.6 46.4h.1M255.5 71.4h.1M228.3 31.5h.1M232.2 34.2h.1M229.9 30.3h.1M239.3 45h.1M218.1 14.5h.1M224.6 25.2h.1M245.2 54.5h.1M244 52.5h.1M239.4 45.2h.1M245.3 57.7h.1"/><text transform="translate(132.3 77.2) scale(.84 1)" text-anchor="end">0</text><text transform="translate(132.3 52.8) scale(.84 1)" text-anchor="end">128</text><text transform="translate(132.3 28.4) scale(.84 1)" text-anchor="end">256</text><text transform="translate(186.7 110.7) scale(.84 1)" text-anchor="end">0</text><text transform="translate(163.5 99.1) scale(.84 1)" text-anchor="end">128</text><text transform="translate(140.3 87.6) scale(.84 1)" text-anchor="end">256</text><text transform="translate(194.4 110.8) scale(.84 1)">H</text><text transform="translate(229.9 100.8) scale(.84 1)">V</text><text transform="translate(266 90.9) scale(.84 1)">D</text><line class="g" x1="502" y1="91.3" x2="447.6" y2="64.2"/><line class="g" x1="442.5" y1="89.7" x2="515.1" y2="69.8"/><line class="g" x1="419.3" y1="78.2" x2="491.9" y2="58.3"/><line class="g" x1="411.3" y1="74.2" x2="483.9" y2="54.3"/><line class="g" x1="483.9" y1="54.3" x2="538.3" y2="81.4"/><line class="g" x1="411.3" y1="49.8" x2="483.9" y2="29.9"/><line class="g" x1="411.3" y1="25.4" x2="483.9" y2="5.5"/><line class="g" x1="447.6" y1="64.2" x2="447.6" y2="7.1"/><line class="g" x1="483.9" y1="54.3" x2="483.9" y2="-2.9"/><line class="g" x1="538.3" y1="57" x2="483.9" y2="29.9"/><line class="g" x1="538.3" y1="32.6" x2="483.9" y2="5.5"/><line class="g" x1="538.3" y1="81.4" x2="538.3" y2="24.2"/><line class="g" x1="515.1" y1="69.8" x2="515.1" y2="12.6"/><line class="g" x1="491.9" y1="58.3" x2="491.9" y2="1.1"/><line class="a" x1="411.3" y1="74.2" x2="465.7" y2="101.3"/><line class="a" x1="465.7" y1="101.3" x2="538.3" y2="81.4"/><line class="a2" x1="411.3" y1="74.2" x2="411.3" y2="17"/><line class="t" x1="409.3" y1="74.2" x2="411" y2="74.2"/><line class="t" x1="409.3" y1="49.8" x2="411" y2="49.8"/><line class="t" x1="409.3" y1="25.4" x2="411" y2="25.4"/><polygon points="538.3,81.4 492.1,58.4 492.1,10.7 538.3,33.7" fill="#0000ff" opacity=".88" filter="url(#dn2)"/><polygon points="502,91.3 455.8,68.3 455.8,20.7 502,43.7" fill="#00ff00" opacity=".88" filter="url(#dn1)"/><polygon points="465.7,101.3 419.5,78.3 419.5,30.6 465.7,53.6" fill="#ff00ff" opacity=".88" filter="url(#dn0)"/><text transform="translate(407.3 77.2) scale(.84 1)" text-anchor="end">0</text><text transform="translate(407.3 52.8) scale(.84 1)" text-anchor="end">128</text><text transform="translate(407.3 28.4) scale(.84 1)" text-anchor="end">256</text><text transform="translate(461.7 110.7) scale(.84 1)" text-anchor="end">0</text><text transform="translate(438.5 99.1) scale(.84 1)" text-anchor="end">128</text><text transform="translate(415.3 87.6) scale(.84 1)" text-anchor="end">256</text><text transform="translate(469.4 110.8) scale(.84 1)">H</text><text transform="translate(504.9 100.8) scale(.84 1)">V</text><text transform="translate(541 90.9) scale(.84 1)">D</text><line class="g" x1="227" y1="207.3" x2="172.6" y2="180.2"/><line class="g" x1="167.5" y1="205.7" x2="240.1" y2="185.8"/><line class="g" x1="144.3" y1="194.2" x2="216.9" y2="174.3"/><line class="g" x1="136.3" y1="190.2" x2="208.9" y2="170.3"/><line class="g" x1="208.9" y1="170.3" x2="263.3" y2="197.4"/><line class="g" x1="136.3" y1="165.8" x2="208.9" y2="145.9"/><line class="g" x1="136.3" y1="141.4" x2="208.9" y2="121.5"/><line class="g" x1="172.6" y1="180.2" x2="172.6" y2="123.1"/><line class="g" x1="208.9" y1="170.3" x2="208.9" y2="113.1"/><line class="g" x1="263.3" y1="173" x2="208.9" y2="145.9"/><line class="g" x1="263.3" y1="148.6" x2="208.9" y2="121.5"/><line class="g" x1="263.3" y1="197.4" x2="263.3" y2="140.2"/><line class="g" x1="240.1" y1="185.8" x2="240.1" y2="128.6"/><line class="g" x1="216.9" y1="174.3" x2="216.9" y2="117.1"/><line class="a" x1="136.3" y1="190.2" x2="190.7" y2="217.3"/><line class="a" x1="190.7" y1="217.3" x2="263.3" y2="197.4"/><line class="t" x1="134.3" y1="190.2" x2="136" y2="190.2"/><line class="t" x1="134.3" y1="165.8" x2="136" y2="165.8"/><line class="t" x1="134.3" y1="141.4" x2="136" y2="141.4"/><path fill="#ff00ff" d="M145.4 149.1 145.5 150.6 146 152.2 146.7 153.7 147.3 155.2 148 156.7 148.7 158.2 149.5 159.8 150.2 161.3 151 162.8 151.8 164.3 152.5 165.9 153.3 167.4 154.2 168.9 155.4 170.4 156.6 172 157.8 173.5 159 175 160.2 176.5 161.4 178.1 162.6 179.6 163.7 181.1 164.9 182.7 166.1 184.2 167.2 185.7 168.4 187.2 169.5 188.8 170.6 190.3 171.8 191.8 172.9 193.3 174 194.8 175.1 196.4 176.2 197.9 177.3 199.4 178.4 200.9 179.4 202.5 180.5 204 181.5 205.5 182.6 207 183.6 208.6 184.6 210.1 184.6 210.1 183.6 208.6 182.7 207 181.8 205.5 180.9 204 180 202.5 179.1 200.9 178.2 199.4 177.3 197.9 176.5 196.4 175.6 194.8 174.8 193.3 173.9 191.8 173.1 190.3 172.3 188.8 171.4 187.2 170.6 185.7 169.8 184.2 169 182.7 168.2 181.1 167.4 179.6 166.7 178.1 165.9 176.5 165.1 175 164.4 173.5 163.6 172 162.8 170.4 162.1 168.9 161 167.4 159.8 165.9 158.6 164.3 157.5 162.8 156.3 161.3 155 159.8 153.8 158.2 152.6 156.7 151.3 155.2 150 153.7 148.7 152.2 147.2 150.6 145.4 149.1Z"/><path stroke="#ff00ff" class="pt" opacity=".85" d="M161.1 171.1h.1M147.9 151.7h.1M155.4 162.1h.1M171.6 169.6h.1M183.3 208.6h.1M160.8 177.8h.1M154.5 162.1h.1M149.7 153h.1M155.2 163.1h.1M154.8 157.6h.1M162.7 171.3h.1M147.3 165.3h.1M155 160.8h.1M176 191.1h.1M147.9 161.8h.1M166.9 179.2h.1M177.2 205.1h.1M170.6 194.5h.1M157.3 173.1h.1M163.4 173.3h.1M165.9 169.4h.1M153 158.6h.1M150.8 156h.1M180.4 198.3h.1M167.3 176.3h.1M147.6 157.4h.1M152.3 158.5h.1M166.5 182.4h.1M146.8 153.4h.1M155.4 157.1h.1M146.3 151.8h.1M172.7 192h.1M152.3 167h.1M150.4 155.7h.1M165.7 185.1h.1M156.2 166.6h.1M148 151.7h.1M173.7 193.9h.1M164.5 180.2h.1M155.4 172.8h.1M160.2 167.3h.1M147.7 152.2h.1M151.3 160.1h.1M153.3 176.3h.1M179.1 205.5h.1M158.5 173.9h.1M167 189.6h.1M145.5 149h.1M183.6 198.5h.1M154 161.5h.1M184.8 203.4h.1M148.1 151.8h.1M164.4 167.1h.1M171 173.5h.1M173.9 191.4h.1M168.1 182.2h.1M160.7 167.6h.1M157 162.9h.1M159 167.4h.1M167.7 183.3h.1M160.8 178.1h.1M151 156h.1M157.2 164.9h.1M165 179.3h.1M148.9 154.1h.1M182.2 209.1h.1M168.4 189.5h.1M184.3 205.6h.1M181 204.9h.1M151.9 163h.1M171.5 190.8h.1M156.3 172.4h.1M161.2 162h.1M161.2 180.8h.1M151.3 173h.1M157.5 159h.1M148.3 151.8h.1M170.9 189.2h.1M173 197.9h.1M148.6 153.2h.1M167.1 188h.1M170.2 185.4h.1M160.5 175.1h.1M156.2 164.1h.1M159.2 180.1h.1M159.7 176.2h.1M153.9 165.2h.1M150.1 157.3h.1M158.7 162.3h.1M177.6 189.3h.1M145.5 149.1h.1M164.6 177.7h.1M148.2 154.5h.1M170.3 191.6h.1M149.8 156.4h.1M154.8 160h.1M163.8 181.7h.1M150.6 156.5h.1M153.5 161.5h.1M146.7 150.8h.1M149.9 155.7h.1M146 151.7h.1M153.8 160.8h.1M164.1 179.2h.1M168 179.5h.1M159.1 171.8h.1M167.4 185.6h.1M166.1 183.3h.1M145.2 151.5h.1M169.3 174.1h.1M171.6 196.3h.1M171 191.9h.1M157.4 166.3h.1M156.2 162.1h.1M153.9 167.5h.1M169.9 188.2h.1M160.7 159.2h.1M152.5 158.5h.1M149.4 154.6h.1M161.3 170.1h.1M167.4 174.3h.1M161.4 170.6h.1M173.5 192.6h.1M167.3 184.1h.1M173.7 181.4h.1M172.8 188.4h.1M151.5 154.7h.1M162.4 179.5h.1M149 154.7h.1M155.6 156h.1M145.5 149.4h.1M177.5 200.1h.1M170.3 195.2h.1M173.9 196.5h.1M161.4 179.4h.1M173.7 197.9h.1M159.7 160.5h.1M155.3 169.9h.1M172.8 187.8h.1M169.3 179.2h.1M147 151.1h.1M165.8 187.3h.1M157 170.4h.1M152.1 164.4h.1M172.7 195.2h.1M148.9 153.2h.1M179.3 201h.1M147.8 157.8h.1M156.3 160.5h.1M163.2 171.3h.1M146.8 151.3h.1M173.3 192.9h.1M159.6 168.8h.1M164.3 173.8h.1M160.9 171.3h.1M151.2 153.4h.1M171.2 177.8h.1M175.8 195h.1M161.7 178.5h.1M168.4 182.3h.1M172.4 197.2h.1M149.7 164.9h.1M172.4 193.6h.1M173.2 197.9h.1M165.4 182.1h.1M160.8 168.7h.1M181.4 203.5h.1M169.3 188.8h.1M166.5 185.8h.1M145.8 149.4h.1M147.8 151.3h.1M152 166.6h.1M160.5 178.2h.1M148.8 157.2h.1M168.4 186.2h.1M183 201.7h.1M157.9 160.7h.1M175.2 197.2h.1M175.4 190h.1M181.6 202.6h.1M146.1 149.9h.1M183.2 201.8h.1M162.2 169.1h.1M162.1 177.2h.1M145.3 149.5h.1M175.2 194.6h.1M153.6 163.5h.1M152.8 166.5h.1M151.6 154.7h.1M158.4 163.8h.1M159.4 169.8h.1M147.3 151h.1M166.1 184h.1M165.9 179h.1M151.1 165.1h.1M149.9 153.8h.1M178.3 208.3h.1M163.1 168.5h.1M161.5 183.1h.1M162.6 180.7h.1M164.1 179.2h.1M161.8 178h.1M156.3 162.9h.1M175.3 192.8h.1M151.2 162.2h.1M145.6 149h.1M164.4 175.7h.1M156.6 168.9h.1M157.2 166.4h.1M161.6 180.4h.1M172.2 196.8h.1M178.6 203.7h.1M158.8 165.4h.1M168.1 179.2h.1M178.4 201.2h.1M152 158.3h.1M153.5 167.4h.1M175.2 196.7h.1M163.8 176h.1M174 182.1h.1M148.2 152.6h.1M147.4 162.6h.1M163.3 174.8h.1M172.2 183.6h.1M153.3 165h.1M160.4 170.7h.1M173.9 189.8h.1M181.3 195.3h.1M149.1 161h.1M171.4 185.5h.1M177.4 199.6h.1M169.9 186.4h.1M166 182.3h.1M178 200.4h.1M157 172.7h.1M150.6 156.7h.1M152.5 159.3h.1M168.3 190.1h.1M146.1 150.1h.1M157.2 166.4h.1M184.4 209.4h.1M154.3 156.2h.1M150.6 160.1h.1M147.6 152.7h.1M157 177.7h.1M164.7 174.1h.1M150.5 167.7h.1M148.4 154.8h.1M165.6 184.1h.1M153.4 168.3h.1M164 177.8h.1M151.2 162h.1M177.8 206h.1M157.3 166.8h.1M161.2 170.6h.1M164.3 179.4h.1M158 180.6h.1M168.1 187.2h.1M145.7 154.8h.1M149.7 153.7h.1M157.1 165.9h.1M161.6 179.6h.1M160.6 161.6h.1M155.3 168.3h.1M164.5 172.5h.1M164.1 183h.1M164.5 175.1h.1M152.6 159.2h.1M174.3 204.9h.1M161.8 181.4h.1M163.9 178.3h.1M172.4 195h.1M174.2 194.6h.1M153.1 164.4h.1M167 182h.1M176.7 199.6h.1M158.7 168.8h.1M169.9 192.1h.1M151.2 161.6h.1M156.2 165.3h.1M163.2 174.4h.1M160.8 173.8h.1M172.9 194.2h.1M173.6 192.2h.1M180.4 202.6h.1M176 200.1h.1M170.1 188.6h.1M157.1 166.3h.1M146.2 152.1h.1M150.6 155.6h.1M159.3 168.2h.1M163.9 182.4h.1M154.8 159.1h.1M157.2 162.1h.1M172.4 195.7h.1M160.4 175.4h.1M150.4 156.5h.1M164.2 181.6h.1M170.4 175.2h.1M146.5 150.2h.1M154.3 161.5h.1M166.8 182h.1M147.9 157.4h.1M180.5 204.6h.1M149.8 158h.1M164.7 178.7h.1M155.6 159.2h.1M152.9 166.6h.1M178.2 194.3h.1M157.8 166.2h.1M158.8 172.9h.1M167.5 185.2h.1M163.8 186.4h.1M168.3 183.7h.1M159.2 171.5h.1M145.8 155.6h.1M177.9 204.1h.1M149.7 154.2h.1M155.6 158.2h.1M155 169h.1M147.5 152.5h.1M172.2 187.4h.1M164.4 185.3h.1M170.4 189h.1M150 153.5h.1M155.7 173.2h.1M174.8 190.6h.1M162.7 166.2h.1M146.3 150.9h.1M156.4 161.2h.1M168.5 191.9h.1M169.7 176.6h.1M165.5 179.5h.1M147.8 152.2h.1M151.8 161.5h.1M148.5 164.5h.1M173.9 192.6h.1M172.9 190.1h.1M178.2 200.5h.1M170.6 188.3h.1M160.9 182.7h.1M160.6 178.9h.1M172.1 190.8h.1M175 194.6h.1M164.6 176.5h.1M160.2 166.1h.1M152 155.1h.1M163.1 168.6h.1M147.1 153.5h.1M177.1 189h.1M183.5 205.7h.1M150.6 155.4h.1M155.5 174.7h.1M179.9 201.2h.1M163.9 170.3h.1M153.1 162.2h.1M148.8 159.8h.1M154.4 156.7h.1M171.3 188.5h.1M158.3 176.3h.1M148.6 154.2h.1M162.5 171.2h.1M149.9 156.4h.1M149 152.5h.1M158.7 167.6h.1M162.1 175.1h.1M166.3 185.6h.1M147.1 154.9h.1M153.6 158.2h.1M155.1 171.3h.1M153.1 156.1h.1M147.9 151.3h.1M163.3 176.8h.1M161.6 171.1h.1M155.1 170.3h.1M150.9 157.1h.1M157.6 168.5h.1M154.5 170h.1M173.7 195h.1M159.3 166.5h.1M166 187.7h.1M150.3 170.8h.1M162.8 179.6h.1M151.1 158.9h.1M158.6 167.9h.1M151.9 163.8h.1M156.8 166h.1M147.1 162.3h.1M172.6 198.7h.1M166.7 184.3h.1M169.8 187.9h.1M155.2 161.4h.1M178.2 205.1h.1M172.9 196h.1M146.3 158.5h.1M164.1 178.5h.1M167.7 193.5h.1M160.3 171.6h.1M151.2 164.4h.1M175.7 199.8h.1M182.5 206.1h.1M176.2 199.6h.1M147.2 153.1h.1M152.4 162h.1M182.1 206.9h.1M168.6 179.2h.1M172 180.1h.1M159.9 175.6h.1M164.3 177h.1M184.2 209.1h.1M148.3 155.7h.1M156.2 161.7h.1M145.9 150.7h.1M168.9 179.5h.1M163.2 181.8h.1M150.8 156.7h.1M156.7 165.4h.1M160 173.5h.1M179.2 197.2h.1M163.9 173.6h.1M152 163.6h.1M163.2 171.9h.1M145.7 149.8h.1M165.6 181h.1M150.8 158.2h.1M174.8 192.9h.1M168.6 182.8h.1M152.3 156.4h.1M161.9 170h.1M160.5 171.5h.1M169.7 193.2h.1M146.3 150.2h.1M147.9 152.6h.1M167.3 185.9h.1M163.2 176.5h.1M150.9 165.7h.1M162.9 173.7h.1M146.3 150.3h.1M165.3 175.3h.1M174.6 196.2h.1M175.3 198.4h.1M173.3 185.9h.1M145.1 160h.1M155.7 168.7h.1M171 184.5h.1M156.6 161.7h.1M168.7 177h.1M176.2 201.9h.1M147.5 154.5h.1M171.8 190.3h.1M170.4 189.8h.1M172.7 190.6h.1M180.2 197.8h.1M183.8 206.8h.1M172.3 192.1h.1M173.6 192.4h.1M170.3 175.6h.1M152.2 160.6h.1M164.1 175.9h.1M158.5 172.2h.1M145.9 151.5h.1M167.1 186.6h.1M182.9 203.1h.1M153.2 159.5h.1M170.5 184h.1M149.2 156.4h.1M167.3 179.8h.1M163.5 186.9h.1M148.3 153.7h.1M146.6 159h.1M152.7 169.1h.1M147.8 153.2h.1M155.7 168.8h.1M179.3 196.9h.1M168.1 184.7h.1M174.2 194.9h.1M178.6 203h.1M169.4 193.8h.1M156.7 171.2h.1M154.2 163.5h.1M166 185.1h.1M168.3 181.9h.1M153.6 158.2h.1M156.2 179.8h.1M181.7 203.3h.1M176.1 193.8h.1M180.4 198.5h.1M153.9 163.9h.1M147.7 154.8h.1M162.5 172.2h.1M151.6 159.3h.1M187.6 208h.1M172.2 199.2h.1M165.9 173h.1M152.4 160.4h.1M161.5 166.3h.1M157.5 180.5h.1M159.6 167.6h.1M164 175.7h.1M154.8 163.8h.1M177.3 195h.1M159.2 166.3h.1M162.7 168.7h.1M171.2 169.9h.1M176.2 193.6h.1M178.4 205.7h.1M184.5 203h.1M158.9 164.1h.1M174 195.8h.1M169.3 187.4h.1M159.8 169.4h.1M165.1 183.9h.1M181.4 200.5h.1M157.2 162.6h.1M161.8 175.1h.1M157.3 167.8h.1M164 169.6h.1M161.9 163.3h.1M161.1 167.9h.1M148.7 153.7h.1M167.4 184.8h.1M168.5 177.6h.1M148.2 152.9h.1M170.3 176.8h.1M149.4 155.9h.1M176.5 195.4h.1M161.8 164.4h.1M151 154.9h.1M161.3 166h.1M173.7 197.5h.1M145.7 149.6h.1M175.3 186.8h.1M167.4 177.5h.1M162.2 168.1h.1M169.1 186.4h.1M175.9 193.3h.1M167.1 185.5h.1M144.8 158h.1M169.6 193.3h.1M145.4 148.9h.1M145.7 150.3h.1M148.3 153.7h.1M167 185.6h.1M163.9 169.7h.1M153.5 155.8h.1M177.3 203.8h.1M163.6 181.7h.1M147 154h.1M156.8 161.1h.1M157.1 167.3h.1M156.5 160.1h.1M162.8 180.9h.1M147.3 156.1h.1M151.5 156.2h.1M149.2 153.7h.1M161.7 179.4h.1M173.8 195.6h.1M153.1 159.8h.1M146.1 152.1h.1M176.7 195.1h.1M147.4 164.2h.1M166.1 181.3h.1M167.9 192.1h.1M151.3 155.6h.1M170.1 186.3h.1M149.1 157.9h.1M159 183h.1M148.2 154.3h.1M155.4 162.3h.1M163.3 175.2h.1M180 205.6h.1M160.7 172.4h.1M182.9 209.5h.1M148.2 157.1h.1M160.8 166.5h.1M144.1 156.2h.1M155.5 163.6h.1M173.7 196.1h.1M175.8 195.8h.1M154.9 166.8h.1M173.3 186.2h.1M154.9 175.8h.1M158 166.8h.1M167 175.5h.1M160.8 178h.1M149.7 160.8h.1M148.4 153.5h.1M171.2 177h.1M180.4 208.9h.1M156.7 166.4h.1M164.8 178.2h.1M169 189.8h.1M153.8 172.3h.1M144.9 158h.1M155.8 168.3h.1M165 179.3h.1M162 175.4h.1M161.2 169.4h.1M183.3 201.4h.1M157.6 175.9h.1M155.4 163.8h.1M145.9 150.1h.1M189.4 208.5h.1M161.9 180.7h.1M149.1 157.4h.1M153.9 155.7h.1M166.5 168.4h.1M172.5 185.8h.1M163.2 171.9h.1M167.4 180.6h.1M163.4 173h.1M153.1 161h.1M162.7 179.7h.1M148.8 153.7h.1M166.7 186.5h.1M181.2 205.2h.1M173.2 192.2h.1M172.1 187.3h.1M175.5 193.1h.1M184.1 209.3h.1M174.4 193.6h.1M163.6 172.3h.1M153.1 161.2h.1M166.7 182.3h.1M175.4 185.1h.1M158.8 176.3h.1M155.3 164.9h.1M162.9 176.2h.1M150.7 157.2h.1M156.8 162.5h.1M165.6 170.3h.1M159.8 162.1h.1M186.6 205.4h.1M160.4 167.9h.1M147.6 152.7h.1M148.5 153h.1M182.7 200.5h.1M158.1 159.7h.1M155.2 176.4h.1M167.7 182.1h.1M161.4 181.3h.1M161.5 166.9h.1M167.7 184.4h.1M173.5 193.2h.1M185.3 205.2h.1M147.7 158.3h.1M155.9 165.9h.1M164.4 181.4h.1M179.2 201.2h.1M146.4 150.1h.1M176.9 188.7h.1M156.5 169.9h.1M161.4 171.8h.1M171.9 188.9h.1M147.8 155.2h.1M159.2 176.2h.1M156.9 175.2h.1M145.9 157.4h.1M155.5 166.1h.1M163.3 179.9h.1M177.1 178.3h.1M145.2 150.1h.1M152.4 170h.1M149 153.7h.1M159 167.3h.1M174.2 189.3h.1M146.8 155.9h.1M169.5 191.1h.1M172.8 198.6h.1M146.3 155.9h.1M175.2 190.3h.1M159.7 170.9h.1M158.2 166.9h.1M150.9 155.5h.1M147.7 155.5h.1M170.8 190.6h.1M174.4 175.8h.1M154.5 164.8h.1M150 155.6h.1M159.3 169.3h.1M178.3 203.4h.1M182.5 209.5h.1M170.1 182.8h.1M149.4 156.5h.1M166.1 183.9h.1M178.7 203.2h.1M160.8 167.5h.1M168.1 182.5h.1M146 151.4h.1M154.2 157.9h.1M166.9 182.1h.1M154.3 160.6h.1M185.2 208.2h.1M166.2 180.8h.1M161.1 174.3h.1M176.2 197.3h.1M175.6 194.1h.1M155.4 163.4h.1M152.9 167.9h.1M147.9 158h.1M146.5 158.3h.1M146.7 170.4h.1M149.1 163.8h.1M153.7 160.3h.1M159.1 165.9h.1M167.4 182.1h.1M172.3 188.3h.1M167.1 166.2h.1M154.1 187.2h.1M164.7 183.3h.1M167.5 190.7h.1M159.3 168.3h.1M157.2 168.6h.1M166 178.3h.1M167.4 196.8h.1M172.2 191.4h.1M166.8 183.3h.1M162.9 169.7h.1M168.5 183.7h.1M162.3 169.2h.1M172.9 170.2h.1M158.7 171h.1M169.5 181.5h.1M159.9 178.3h.1M167.6 185.7h.1M160 170.3h.1M174.7 198.9h.1M165.6 173.9h.1M148.5 162.5h.1M178.6 192.1h.1M153 158.5h.1M160.1 175.9h.1M155 166.2h.1M168.8 185.9h.1M157.1 163.3h.1M162.1 175.8h.1M177.6 198.1h.1M182.4 205.6h.1M157.5 172.4h.1M160.2 175.2h.1M182.6 195.8h.1M166.2 186.8h.1M161.1 171.6h.1M172.1 175.3h.1M171 198.4h.1M155.7 171.2h.1M152.8 176.5h.1M176.5 196.6h.1M159.5 163.7h.1M146.3 152.5h.1M167.6 171.8h.1M177.6 201.6h.1M161.2 174.2h.1M156.3 183.6h.1M159.2 169.4h.1M152.9 157.9h.1M153 174.2h.1M158.7 176.8h.1M166.9 176.9h.1M155.3 166.6h.1M169 190.8h.1M161.6 176.1h.1M159 171.2h.1M146.3 156.4h.1M157.1 174.7h.1M157.5 167.2h.1M167.4 183.7h.1M178.7 200.9h.1M176 177.8h.1M155.9 166.1h.1M169.5 164.5h.1M165.2 172.5h.1M166 171.8h.1M169.1 180.9h.1M186.2 201.4h.1M162.3 202.1h.1M160.9 169.3h.1M143.9 152.4h.1M156.2 166.7h.1M175.2 177.3h.1M153.7 175.2h.1M166.2 184.3h.1M163.2 162.3h.1M173.2 192.7h.1M158.2 163.2h.1M165.7 182.1h.1M184.5 191.3h.1M165.3 174.2h.1M187.4 205.7h.1M161.9 171.9h.1"/><path fill="#00ff00" d="M181.1 138.2 181.4 139.7 182 141.1 182.7 142.6 183.4 144.1 184.2 145.6 185 147 185.8 148.5 186.6 150 187.4 151.5 188.2 152.9 189 154.4 189.8 155.9 190.7 157.4 191.9 158.8 193.1 160.3 194.3 161.8 195.4 163.3 196.6 164.8 197.8 166.2 198.9 167.7 200.1 169.2 201.2 170.6 202.4 172.1 203.5 173.6 204.6 175.1 205.8 176.5 206.9 178 208 179.5 209.1 181 210.2 182.4 211.3 183.9 212.4 185.4 213.5 186.9 214.6 188.3 215.6 189.8 216.7 191.3 217.7 192.8 218.8 194.2 219.8 195.7 220.8 197.2 220.8 197.2 219.8 195.7 218.9 194.2 217.9 192.8 217 191.3 216.1 189.8 215.1 188.3 214.2 186.9 213.3 185.4 212.4 183.9 211.5 182.4 210.7 181 209.8 179.5 208.9 178 208 176.5 207.2 175.1 206.3 173.6 205.5 172.1 204.6 170.6 203.8 169.2 203 167.7 202.1 166.2 201.3 164.8 200.5 163.3 199.7 161.8 198.9 160.3 198.1 158.8 197.3 157.4 196.2 155.9 195 154.4 193.9 152.9 192.7 151.5 191.5 150 190.3 148.5 189.1 147 187.9 145.6 186.7 144.1 185.5 142.6 184.2 141.1 182.8 139.7 181.1 138.2Z"/><path stroke="#00ff00" class="pt" opacity=".85" d="M200.2 164.2h.1M183.1 140.7h.1M193.2 153.9h.1M181.7 139.6h.1M216.2 188.9h.1M193.2 161h.1M196.6 161.7h.1M184.9 142.7h.1M191.2 156.3h.1M191.2 166.3h.1M183.5 141.5h.1M200.8 166.2h.1M189.2 148.5h.1M213.6 190.8h.1M210.5 183.1h.1M204.7 162.7h.1M202.9 181h.1M198.3 168.1h.1M201.6 177.1h.1M199.1 160.6h.1M187.6 146.1h.1M203.8 166.7h.1M200.9 155.6h.1M212.9 184.9h.1M186.7 145h.1M222.7 196.3h.1M186.5 148.6h.1M214.6 186.6h.1M184.2 141.7h.1M195.1 152.4h.1M200 162.5h.1M194 159.5h.1M188.6 148.4h.1M187.6 146.5h.1M193.1 160.7h.1M218.4 191h.1M194.7 157.3h.1M200.5 166.4h.1M202.8 173.8h.1M203 166.2h.1M194 161h.1M209.7 182.4h.1M220.3 195.1h.1M181.8 140.3h.1M199.6 164.8h.1M203 174.2h.1M216.1 189.8h.1M201.5 166.9h.1M194.5 158.6h.1M202.8 159.5h.1M218.4 189.7h.1M217.7 195.7h.1M182 139h.1M182.6 140.3h.1M202.5 170.9h.1M189.8 149.9h.1M212.9 178.5h.1M214.8 186.6h.1M181.5 138.7h.1M220.9 194.6h.1M187.6 153.6h.1M182.7 140h.1M196.2 161.6h.1M213.7 187.2h.1M200.4 162.8h.1M190.5 149.5h.1M190.7 154.6h.1M216.8 186.8h.1M205.4 173h.1M198.2 161.2h.1M201.5 166.5h.1M189.9 160h.1M185 151.2h.1M188.6 148.7h.1M205.4 169.6h.1M203.9 167.7h.1M182.7 140.3h.1M209.7 177.8h.1M183.9 145.2h.1M181.9 139.7h.1M194.1 160.2h.1M208.4 183.9h.1M194.3 160.3h.1M205.3 171h.1M205.4 172.5h.1M191.5 153.3h.1M182.7 140.2h.1M194.6 162.4h.1M201.3 166.7h.1M185.4 146.6h.1M187.6 151.2h.1M205.2 175.5h.1M213.6 187.2h.1M202.3 171.2h.1M206.8 173.5h.1M211.8 188.4h.1M181.8 139.5h.1M209.6 182.6h.1M210 179.6h.1M196.7 163h.1M213 190.5h.1M200.7 173.2h.1M198.5 164.6h.1M182.7 141.2h.1M214.6 184.1h.1M201.1 171.5h.1M199.3 163.7h.1M193.2 149.7h.1M196.9 158.4h.1M190.9 145.4h.1M204.4 172h.1M198.1 159.2h.1M208 172.2h.1M216.4 189.3h.1M216.4 184h.1M192.1 159.5h.1M194.3 149.1h.1M185.9 150.5h.1M194.1 160.5h.1M195.7 161.6h.1M209.3 183.2h.1M199 161.8h.1M207.8 168.2h.1M196.1 155.6h.1M219.4 196.8h.1M216 189.9h.1M188.5 149.1h.1M212.8 177.9h.1M192 154.1h.1M194.3 158.8h.1M183.6 142.9h.1M182.1 139.5h.1M196.9 158.9h.1M184.3 142.1h.1M184.3 146.8h.1M191.1 158.8h.1M218.2 192h.1M191.3 150.3h.1M199.1 164.9h.1M203.8 168.8h.1M180.8 145h.1M220.2 196.4h.1M184.7 149.6h.1M199.5 163.8h.1M200.2 161.2h.1M193.5 151.8h.1M182.7 141.8h.1M203.7 171.7h.1M210.2 182.1h.1M192.9 154.6h.1M208.1 181.7h.1M205.2 169.7h.1M184.7 144.3h.1M215 188.8h.1M201.2 167.6h.1M199.1 161.7h.1M186.5 146.6h.1M199.1 162h.1M186.7 152.5h.1M192 151.7h.1M188.2 153.8h.1M199.2 158.7h.1M183.4 145.4h.1M189.1 153.6h.1M196.9 159.1h.1M199 171.3h.1M221.7 196h.1M185.4 152h.1M196 160.6h.1M196.5 159.9h.1M210.1 176.6h.1M202.1 170h.1M186.5 143.9h.1M183.2 146.4h.1M192.9 151.1h.1M194.1 163.3h.1M205.1 163.8h.1M214.7 191.9h.1M204.2 171.6h.1M192.4 151.3h.1M202.1 169.6h.1M207.3 172.9h.1M186.8 145h.1M209.4 177h.1M213.1 184.1h.1M190.9 148.4h.1M197.4 162h.1M201.5 172.8h.1M182 144.3h.1M180 151.3h.1M194.8 157h.1M205.6 175.3h.1M192.6 159.1h.1M198.2 158.6h.1M200.6 170.7h.1M194 159.6h.1M210.7 185.9h.1M209.8 182.9h.1M212.6 186.8h.1M193.6 163h.1M184.8 145.9h.1M182.5 140.2h.1M216.2 192.1h.1M209.7 177.1h.1M194.2 165h.1M186.8 157.1h.1M188.1 152.4h.1M182.4 139.3h.1M187.3 157.7h.1M187.7 150.8h.1M204.9 177.6h.1M203.9 166.5h.1M201.5 166.1h.1M184.7 141.7h.1M184.3 146.2h.1M213.2 182.4h.1M181.5 139.3h.1M196.2 164.9h.1M185.9 145h.1M181.7 140.5h.1M204.5 172.9h.1M191 154.5h.1M216.3 191.4h.1M206 173.5h.1M200.6 163.8h.1M181.9 139.1h.1M202.8 168.6h.1M204.4 175.2h.1M194 157.6h.1M221.3 192.3h.1M213.8 181.6h.1M185.2 141.7h.1M207 182.8h.1M199.6 159h.1M182.5 139.6h.1M223.3 196.3h.1M202.4 163.7h.1M194.5 153.6h.1M202.9 172.6h.1M212.7 183.5h.1M208.5 175.8h.1M193.6 162.2h.1M182.1 141.3h.1M184.1 144.3h.1M185.3 144.2h.1M203.3 173.7h.1M213.6 189.7h.1M210.4 186.5h.1M192.7 153.8h.1M209.5 178.4h.1M215.5 189.4h.1M203.4 173.3h.1M189.5 156.3h.1M204.5 180h.1M215.9 188.7h.1M220 194.2h.1M195.1 151.2h.1M203.1 175.8h.1M198.7 170.4h.1M216.3 188.7h.1M189.2 152.5h.1M214.7 193.5h.1M195.3 159.6h.1M213.9 182.8h.1M190.1 152.8h.1M196.4 159.8h.1M202.1 170.1h.1M195.4 157.7h.1M194 160.1h.1M217.6 190.1h.1M216.8 182.7h.1M185.2 145h.1M195.2 156.2h.1M182.8 142.3h.1M208.5 177.5h.1M199.1 165.1h.1M200.1 169.3h.1M206.6 174.4h.1M219 190.4h.1M206.6 177.6h.1M184.6 148.4h.1M188.9 147.7h.1M219.5 193.2h.1M196.6 162.3h.1M206.3 170.8h.1M216.7 190.8h.1M205 172.5h.1M207.7 180h.1M185.4 147.5h.1M213.1 181.6h.1M182.1 144.2h.1M200 172.6h.1M186.7 142.9h.1M181.3 139.3h.1M183.5 145.4h.1M215.7 196h.1M210.3 180.3h.1M200.4 162.2h.1M221.3 193.8h.1M203.4 170.3h.1M204.7 170.5h.1M183.2 142.3h.1M202.2 164.7h.1M205.4 176h.1M222.2 196.4h.1M190.4 154.1h.1M195 162.3h.1M209 169.4h.1M217.7 193.9h.1M185.3 141.8h.1M192.7 152.6h.1M194.9 162.4h.1M185.1 141.6h.1M213.1 181.2h.1M203.2 172.9h.1M210.2 176.7h.1M189.1 149h.1M195.7 154.7h.1M220.6 191.8h.1M195.9 166.4h.1M214.2 184.4h.1M207.4 176.8h.1M212.4 178.7h.1M184.7 144.5h.1M192.4 158.2h.1M202.7 167.6h.1M181.4 138h.1M217.8 196.9h.1M187.7 150.7h.1M189.4 157.8h.1M212.8 181.4h.1M181.7 138.6h.1M207.6 179.2h.1M211.1 183.8h.1M185.1 143.1h.1M204.9 174.9h.1M209.1 187.9h.1M196.3 161.9h.1M217 190.8h.1M209.4 182.6h.1M220 196.8h.1M205.2 168.1h.1M191.5 152.9h.1M185.3 144.8h.1M185.6 148.5h.1M204.5 173.2h.1M191.6 160.2h.1M197.3 169.1h.1M200.6 166.2h.1M201.8 173.2h.1M217.3 189.7h.1M205.6 177.4h.1M202.4 174.4h.1M193.4 162.6h.1M182.8 143.6h.1M215.1 181.5h.1M215.3 191h.1M185.9 142.1h.1M202.7 166.1h.1M191.1 147.2h.1M195.1 157.3h.1M204.7 164.2h.1M198.5 166.1h.1M215.3 188h.1M193.7 158.7h.1M186.7 143.7h.1M191.2 156.8h.1M200.5 172.9h.1M190.5 158.2h.1M204.7 177.6h.1M217.4 197.1h.1M209 184.5h.1M181.9 140.1h.1M205.6 175.1h.1M216.9 187.8h.1M193.6 162.2h.1M183 140.3h.1M214.2 182.7h.1M184.1 144.6h.1M208.7 177.3h.1M205.4 174.5h.1M198.2 164.3h.1M184.4 146.4h.1M181.8 139.5h.1M184.2 145.1h.1M210 182.5h.1M198.5 165.7h.1M199.5 166.9h.1M207.2 176h.1M198.3 162.1h.1M190.4 148.8h.1M205.9 172.7h.1M208.5 179.3h.1M192.6 149.5h.1M181.4 138.3h.1M205.9 161h.1M183.8 140.5h.1M197.8 151.8h.1M216.3 184h.1M196.9 161.9h.1M186.2 158.2h.1M181.9 146.6h.1M198.7 165.3h.1M188.5 146.7h.1M189.7 152.3h.1M220.1 195.6h.1M201 169.6h.1M182.9 140.4h.1M199.5 165.3h.1M198.2 160.4h.1M190.3 153.7h.1M191.2 158.4h.1M185.4 142.5h.1M212.1 190.6h.1M187.7 150.8h.1M196.5 162.5h.1M217.5 191.1h.1M205.7 175.1h.1M182.7 141.4h.1M207 172.9h.1M197.4 156.8h.1M199.1 156.2h.1M186.7 145.1h.1M214.5 176.4h.1M197.5 158.2h.1M187.6 147.4h.1M204 164.5h.1M215.7 189.7h.1M208.9 179h.1M219.4 195.4h.1M209.8 182.3h.1M206.9 174h.1M187.2 146.7h.1M181.5 142.3h.1M215.5 194.4h.1M202.6 168.8h.1M211.7 175.2h.1M214 188.4h.1M197.9 168.8h.1M188 149.2h.1M191 164.2h.1M208.8 173.9h.1M215.3 190.7h.1M207 174.2h.1M206.8 168.7h.1M196 162.7h.1M181.3 139h.1M193.4 154.2h.1M200.2 170h.1M191.2 153.5h.1M181.6 139.6h.1M205.2 174.9h.1M204.5 172.3h.1M203.2 176.2h.1M187.9 149.8h.1M199.2 161.8h.1M181.4 138.5h.1M209.4 183.9h.1M199 164.6h.1M214.5 185.4h.1M196.7 167.5h.1M202.2 159.9h.1M188 147.8h.1M205.8 179.5h.1M202.2 171.4h.1M190.6 154.9h.1M193.9 158.4h.1M205 173.3h.1M180.3 142.7h.1M189.4 151h.1M183.2 140h.1M194.9 155.8h.1M218 194h.1M184.7 146.3h.1M208 178.1h.1M213.1 179.6h.1M203.6 171.9h.1M205.6 172.7h.1M192.6 157.5h.1M204.4 177.6h.1M197 156.8h.1M196 164.5h.1M183 147.9h.1M190.6 152.9h.1M199.7 152.2h.1M210.5 180.1h.1M204.1 171.5h.1M214.4 184.3h.1M209.4 180.7h.1M211.4 180.9h.1M182.5 143.1h.1M185.2 143.9h.1M184.6 148.6h.1M204 176.1h.1M186.9 145.9h.1M190.1 154.1h.1M204.3 172.3h.1M190.8 149.7h.1M203.2 159h.1M185.1 143.9h.1M220.4 194.4h.1M186.8 147.8h.1M189.6 149.9h.1M191.2 161.7h.1M190.4 156.5h.1M206.6 170.6h.1M219.7 190.5h.1M182.8 141h.1M211.6 177.7h.1M213.3 186.8h.1M185.1 149.7h.1M193.8 154.9h.1M198.8 157.2h.1M212.5 183.8h.1M206.1 175.6h.1M204.8 174.6h.1M214.7 186.3h.1M196.8 165.5h.1M188.6 145.7h.1M200.3 171.8h.1M204.8 161.5h.1M185.2 143.2h.1M185.6 158h.1M216.6 186.7h.1M189.3 147.4h.1M186.6 148.1h.1M194.9 152.3h.1M213.2 181.1h.1M207.6 183.2h.1M182.1 140.8h.1M209.8 177.3h.1M201.7 171.3h.1M201.4 167.2h.1M202.7 174h.1M198.3 162.5h.1M187.7 145.6h.1M198.5 162.5h.1M202.4 159.8h.1M201 163h.1M193.3 158.3h.1M194.9 157.1h.1M184.8 144.2h.1M200.1 172.4h.1M180.9 138.7h.1M206.5 168.9h.1M201.4 168.9h.1M183.5 141.9h.1M212.1 183.7h.1M200.8 167.3h.1M186.3 157.5h.1M213.1 180.2h.1M181.6 139.2h.1M193.6 151.2h.1M212.7 186.7h.1M202.8 170.3h.1M200.6 163.9h.1M196.3 160.9h.1M192.8 156.5h.1M184.6 147h.1M192.7 155.9h.1M181.3 138.6h.1M214.9 183.4h.1M215.5 188.6h.1M181.6 150.8h.1M196.1 166.6h.1M195.9 149.3h.1M191.7 157.4h.1M195.3 165.3h.1M193.3 160.1h.1M190.8 162.3h.1M198.4 159.9h.1M212 184.1h.1M199.6 161.9h.1M202 169.6h.1M209 178h.1M204.6 163.4h.1M203.9 164.1h.1M195.7 161.7h.1M183.9 143.5h.1M214 185.5h.1M181.7 139.3h.1M206.8 173.6h.1M188.7 153.7h.1M195.7 155.3h.1M196.2 161.4h.1M207.1 171.9h.1M188.7 151.3h.1M204.5 170.2h.1M198.5 162.3h.1M199.1 157.8h.1M206.8 164.8h.1M195.7 160.6h.1M191 151.9h.1M213.2 182.3h.1M186.1 144.5h.1M206.1 176.9h.1M210.3 178.5h.1M184.3 142.2h.1M183.6 142.5h.1M185.4 145.5h.1M189 145.5h.1M197 161.1h.1M192.4 160h.1M190.5 148.6h.1M189.5 145.5h.1M185.9 145.3h.1M184.1 146.4h.1M190.6 153.5h.1M192.4 160.9h.1M213.9 192.9h.1M193.3 153.1h.1M214.2 186.4h.1M196.3 153.7h.1M189.3 150.4h.1M189.7 151.9h.1M202.7 174.5h.1M183.8 140.9h.1M191.4 158.6h.1M196.7 161.7h.1M185.5 150.7h.1M187.1 154.4h.1M213.4 182.2h.1M184.9 152.9h.1M210.5 174.4h.1M186.1 150h.1M208 175.7h.1M182 142.3h.1M194.9 167.1h.1M211.6 183.5h.1M202 164.2h.1M185.5 143.2h.1M209.1 181.4h.1M212.9 179.6h.1M201.5 162h.1M219.5 196h.1M183.1 141h.1M183.9 145.6h.1M219.7 196h.1M211.4 184.6h.1M197.5 161.1h.1M206.4 172.9h.1M212.6 178.8h.1M217.7 189.9h.1M186.3 146.9h.1M194 150.5h.1M189.1 151.6h.1M189.9 154.8h.1M197.7 162.8h.1M186.7 144.6h.1M182.2 139.4h.1M183.5 154.8h.1M201.8 164.4h.1M207.2 183.2h.1M206.4 174.4h.1M194.8 158.9h.1M207.3 182.2h.1M191.6 167.4h.1M194.5 169.2h.1M191.5 154.1h.1M212.1 184.2h.1M205 178.8h.1M209.9 178.1h.1M187.9 148.3h.1M214.3 192.9h.1M204.3 155.1h.1M219.8 192.3h.1M193.7 142h.1M200.8 169.9h.1M210.8 185.7h.1M215.3 182h.1M187.3 143.5h.1M197.7 167.5h.1M214.2 163h.1M210.3 180.5h.1M198.1 163.8h.1M189.1 156.2h.1M197.7 174.3h.1M199.4 166.8h.1M195.7 158.2h.1M206.7 175.2h.1M213.8 184.1h.1M200.3 169.5h.1M195.4 170.1h.1M188.7 149.5h.1M184.2 155.5h.1M207.6 180.4h.1M185 153h.1M196.8 162.4h.1M200.9 162.1h.1M187.9 151.3h.1M209 175.8h.1M207.5 176.2h.1M206.1 179.8h.1M204.8 170.1h.1M197 159.1h.1M204.5 165.3h.1M200 150.2h.1M219.9 186.3h.1M211.6 176.7h.1M190.5 155.3h.1M208.7 179.9h.1M196.7 163.2h.1M192.9 160.5h.1M206.3 193.6h.1M193.4 168.4h.1M186.8 150.7h.1M202.3 168.7h.1M201.3 161.6h.1M202.1 169.2h.1M208.3 180.5h.1M205.6 176.7h.1M197.5 171.8h.1M178.9 149.4h.1M198.2 168.9h.1M196.6 173.8h.1M180.1 143.7h.1M202 167.3h.1M196.3 164.2h.1M180.6 146.7h.1M204 167.7h.1M201.3 156.8h.1M196.6 168.4h.1M189.1 155.9h.1M187.6 147.6h.1M189 162.3h.1M220.2 192.9h.1M200.9 178.7h.1M203.2 174.6h.1M193.8 151.6h.1M199.3 170.8h.1"/><path fill="#0000ff" d="M217.1 129.2 217 130.6 217.4 132.1 217.9 133.5 218.5 135 219.1 136.4 219.8 137.9 220.4 139.3 221.1 140.8 221.8 142.2 222.5 143.7 223.3 145.1 224.4 146.6 225.7 148 227 149.5 228.3 150.9 229.5 152.4 230.8 153.8 232 155.3 233.2 156.8 234.5 158.2 235.7 159.6 236.9 161.1 238.1 162.5 239.3 164 240.4 165.4 241.6 166.9 242.8 168.3 243.9 169.8 245 171.2 246.2 172.7 247.3 174.1 248.4 175.6 249.5 177 250.6 178.5 251.6 179.9 252.7 181.4 253.7 182.8 254.8 184.3 255.8 185.8 256.8 187.2 256.8 187.2 255.8 185.8 254.9 184.3 253.9 182.8 253 181.4 252 179.9 251.1 178.5 250.2 177 249.3 175.6 248.5 174.1 247.6 172.7 246.7 171.2 245.9 169.8 245 168.3 244.2 166.9 243.4 165.4 242.6 164 241.8 162.5 241 161.1 240.2 159.6 239.4 158.2 238.7 156.8 237.9 155.3 237.2 153.8 236.4 152.4 235.7 150.9 235 149.5 234.3 148 233.6 146.6 232.8 145.1 231.5 143.7 230.2 142.2 229 140.8 227.7 139.3 226.4 137.9 225 136.4 223.7 135 222.3 133.5 220.8 132.1 219.2 130.6 217.1 129.2Z"/><path stroke="#0000ff" class="pt" opacity=".85" d="M258.8 184h.1M219.2 132.1h.1M227.3 136.2h.1M240 160.3h.1M242.9 169h.1M243.2 146.3h.1M250.6 175.9h.1M246 171.2h.1M217.7 129.9h.1M226.9 144h.1M258.5 181h.1M231.9 157.5h.1M227.7 142.2h.1M221.7 139.3h.1M226.8 139.5h.1M232.2 161.3h.1M219.1 130.6h.1M254.4 186.5h.1M230 148h.1M230 153.3h.1M232.5 160.2h.1M229.6 138h.1M219 132.7h.1M219.9 137.8h.1M221.4 140.3h.1M241.7 160.2h.1M218.3 130.7h.1M239.9 158.1h.1M228.8 145.7h.1M219.3 135.9h.1M237.1 153.7h.1M246.8 171.1h.1M243 162.3h.1M231.1 162.7h.1M238.8 164.3h.1M247 172.4h.1M231.7 144.9h.1M233.3 151.7h.1M230.1 150.4h.1M218.1 131.6h.1M241.7 171.1h.1M219.4 143h.1M226.9 146.8h.1M248.2 171.6h.1M217.8 134.8h.1M244.8 172.4h.1M248 167.3h.1M223.7 137h.1M241.9 166h.1M255.6 181.9h.1M228.3 152.3h.1M255.1 180h.1M229.8 145.8h.1M247.1 157.6h.1M243.6 165.1h.1M237.9 166.5h.1M218.1 130.1h.1M217.8 143.2h.1M233.5 142.7h.1M230.7 148.2h.1M231.6 150.4h.1M231.3 154.6h.1M229.8 152.9h.1M231.4 150h.1M240.4 163h.1M237 150.4h.1M218.9 134h.1M245 161.6h.1M237.6 156.7h.1M223.3 142.7h.1M240.4 154.2h.1M232.7 146h.1M241.4 157.2h.1M231.7 153.2h.1M227.2 149.2h.1M225.5 154.8h.1M219.7 130.9h.1M248.2 172.9h.1M226.4 137.9h.1M239.5 165.8h.1M246.8 166h.1M235.6 157.9h.1M233.7 154.8h.1M227.8 140.4h.1M229 147.9h.1M249.2 173.8h.1M240.9 159.5h.1M234.9 167.3h.1M222.6 132.9h.1M222.5 132.9h.1M218.9 131.8h.1M224.1 133.7h.1M234.3 163.8h.1M234 158.3h.1M239.4 150h.1M220.4 139.9h.1M220.5 135.2h.1M253.2 179h.1M219.2 134h.1M230.9 150.9h.1M244.1 165h.1M237.9 144.9h.1M242 162.4h.1M226.5 147.4h.1M236 145.5h.1M240.4 166h.1M237.9 150.4h.1M230.8 141.5h.1M242.5 168h.1M233.4 147.7h.1M219.4 130.7h.1M219.4 139.3h.1M252.9 174.4h.1M224.7 143.6h.1M221.2 137.6h.1M231.3 141.8h.1M222 137.4h.1M244 160h.1M255.1 186.2h.1M220.4 134.7h.1M225.8 148h.1M239.8 163.9h.1M231.6 155.8h.1M224 147.7h.1M222.3 149.6h.1M249.8 176.9h.1M242.6 152.8h.1M249.2 179.4h.1M229.9 147.6h.1M220.4 145.6h.1M235.3 156h.1M240.4 153h.1M259.7 183.4h.1M217.9 133.4h.1M221.9 141.1h.1M231.5 148.8h.1M221.9 131.7h.1M244.4 182.6h.1M231.3 147.9h.1M233.5 144.7h.1M246.4 168.9h.1M222.2 133.7h.1M219.2 133.3h.1M230.1 152.3h.1M224.6 136.1h.1M220.1 140.6h.1M223.9 142h.1M243.9 168.8h.1M224.7 133.3h.1M262.8 183.6h.1M223.6 143.9h.1M226.3 140h.1M241.4 164.9h.1M220.2 133.2h.1M219.9 132.4h.1M240.9 155.7h.1M217.8 130.7h.1M230 149.8h.1M220 144.2h.1M220.8 134.3h.1M248.1 167h.1M251.4 180.1h.1M225.7 146.5h.1M237.7 157.4h.1M249.7 174.6h.1M238.3 159.4h.1M237.5 164.5h.1M232.1 156.9h.1M229.3 141.1h.1M239.6 154.6h.1M230.5 145.3h.1M246.4 170.1h.1M219.5 133.2h.1M221.8 133.3h.1M222.7 136.5h.1M221.7 146.9h.1M247.1 165.8h.1M234.1 157h.1M235.9 159h.1M236.9 150.6h.1M225.8 147.9h.1M231 151.5h.1M226.2 142.8h.1M221.1 145.5h.1M241.9 171.3h.1M232.4 138.9h.1M220.6 134.2h.1M231.7 153h.1M218.2 129.6h.1M240.9 155.8h.1M240.2 150.5h.1M226.8 139.6h.1M224.6 138.6h.1M235.9 150.9h.1M219.3 131.8h.1M227 150h.1M221.3 137.6h.1M221.1 137h.1M227.1 139.8h.1M244.9 165.6h.1M242.3 160.4h.1M232.6 144.3h.1M243.7 163h.1M239.2 160h.1M222.8 139.5h.1M234 138.8h.1M247.1 171.2h.1M253.3 185.2h.1M226.4 158.5h.1M256.1 182.7h.1M234 146.1h.1M236.5 160.1h.1M227.2 140.2h.1M244.5 163.1h.1M219.4 131.6h.1M246.3 175.5h.1M239.4 173h.1M227.8 143.1h.1M218.4 135.4h.1M242.1 158.8h.1M221.4 141.4h.1M228.3 152.3h.1M243.8 165.8h.1M242.7 161.7h.1M236.3 149.3h.1M219.4 138.3h.1M241.8 164.2h.1M255 178.2h.1M225.8 141.9h.1M217.1 147h.1M237.6 154.4h.1M226.7 146.3h.1M242.5 165.1h.1M229.3 146.1h.1M223.1 136.3h.1M240.7 159.3h.1M221.1 135.3h.1M246.8 162.7h.1M218.9 143.9h.1M242.3 159.5h.1M238.4 155.7h.1M245.1 178.5h.1M229.7 140.2h.1M218.2 130h.1M248.2 174.5h.1M226.2 143.9h.1M250.1 179.3h.1M217.7 133.9h.1M233.4 153.2h.1M229.3 139.5h.1M221.6 137.9h.1M225.2 135.7h.1M221.7 137.1h.1M228.6 143.1h.1M225.3 135h.1M245.8 165.4h.1M249.6 179.8h.1M251 171.8h.1M219.4 131.4h.1M249.8 172.6h.1M216.4 133.1h.1M246.3 153.8h.1M220 133.8h.1M234.3 154.7h.1M218 130.1h.1M234.3 158.3h.1M223.2 137.7h.1M228.8 150h.1M221.2 140.6h.1M235 152.4h.1M227.7 149.5h.1M234.5 156.9h.1M218.4 131.8h.1M252 174.3h.1M233.6 141.5h.1M233.5 149.2h.1M238.6 165.4h.1M222.1 139.8h.1M238.1 161.6h.1M234 155.5h.1M250.9 172h.1M228.3 137.9h.1M217.6 129h.1M219.4 131h.1M224.1 140.4h.1M218.9 140.6h.1M226.3 140.2h.1M224.9 140.2h.1M226.6 146.3h.1M235.8 161.5h.1M222.7 141.6h.1M220.4 131.9h.1M228.9 141.9h.1M236 160.3h.1M217.9 139.3h.1M230 139.8h.1M227.1 137.2h.1M245.4 170.6h.1M220.6 132.8h.1M231 156h.1M234.5 157.1h.1M259.6 187.4h.1M231.3 150.3h.1M237.9 145.9h.1M221 140.4h.1M223.6 147.5h.1M258.1 185.3h.1M217.5 132.3h.1M224.5 149.7h.1M218.6 131.2h.1M226.4 144.5h.1M217.6 135.3h.1M226.9 144.5h.1M217.9 144.6h.1M241.3 153.5h.1M257.1 181.4h.1M236 150.8h.1M237.5 160.2h.1M244.1 173.9h.1M232.4 149.5h.1M240.2 157.1h.1M260.8 185.2h.1M218.4 134.2h.1M218.9 138.8h.1M228.9 151.8h.1M234.7 147.8h.1M218.9 132.8h.1M216.5 139.2h.1M244.3 157.2h.1M244.3 169.4h.1M233.8 153h.1M224.8 134.7h.1M250.8 180.9h.1M237.5 163.2h.1M218.1 129.8h.1M220.3 134.9h.1M218.2 138.8h.1M230.3 138.2h.1M226.8 136h.1M219.7 131.3h.1M232 154.6h.1M220.5 132.6h.1M219.4 134.4h.1M246.6 172.7h.1M244.6 167.9h.1M239.3 165.7h.1M219.1 133.6h.1M231.8 145.5h.1M234.5 155.6h.1M220.4 135.1h.1M247 167.3h.1M223.2 136h.1M219.3 132.8h.1M228.9 138h.1M259.2 185.3h.1M244.1 171.6h.1M249.2 171.3h.1M252.3 185.8h.1M221.3 144.5h.1M248.7 173.4h.1M227.5 134.8h.1M222.6 141.1h.1M249.2 179.8h.1M228.8 141.1h.1M253.7 175.1h.1M227.5 157.8h.1M234.4 144.5h.1M256.2 185.7h.1M226.8 144.8h.1M238.7 170.4h.1M255.3 174.1h.1M246.4 176.6h.1M239.3 157.7h.1M223 137.8h.1M221 131.5h.1M228.1 139.5h.1M218 143.7h.1M232.4 150.3h.1M243.2 170.9h.1M239.5 164.6h.1M222.8 146.3h.1M220.4 133.6h.1M220.2 137.8h.1M236 147.5h.1M238.6 162.9h.1M229.7 143.9h.1M244 170.5h.1M225.1 143h.1M249.3 177.1h.1M229.1 157.3h.1M236.5 156.1h.1M239.2 160.5h.1M230.1 150.2h.1M250.2 168.1h.1M225.5 137.7h.1M231 155.7h.1M218 136h.1M230.2 151.6h.1M239.8 152.9h.1M239 161.2h.1M222.1 132.6h.1M238.4 156.5h.1M240.3 154.6h.1M220.9 134.4h.1M221.9 135.8h.1M246.3 178h.1M224.7 143.7h.1M236.4 157.3h.1M250.6 177.1h.1M235.9 157.8h.1M220.8 138.3h.1M243.2 163.7h.1M217.9 131.3h.1M238.5 167.6h.1M241.9 170.7h.1M250.7 172.9h.1M228.4 141.5h.1M230.4 146.6h.1M227.3 149.5h.1M231.1 149.4h.1M223.6 136.9h.1M244.6 163.5h.1M237.5 148.4h.1M225.9 143.3h.1M251.3 176.4h.1M233.8 137.2h.1M234.2 148.1h.1M231.1 140.7h.1M239.8 164.6h.1M232.4 140.6h.1M245.9 170.8h.1M248.5 164.1h.1M237.1 150.4h.1M215.1 145h.1M227.3 147.6h.1M237.6 154.4h.1M240.9 172.7h.1M237.8 157.4h.1M231.6 145.6h.1M240.6 161.7h.1M242.3 162.7h.1M239.2 158.6h.1M220.6 133.9h.1M218.2 130.2h.1M246.9 169.4h.1M224.3 135.2h.1M218.8 131h.1M230.1 136.8h.1M239.7 162.7h.1M231.9 149.3h.1M243.5 157.1h.1M249.9 177.1h.1M254.3 180.4h.1M223.3 137.1h.1M231.2 141.9h.1M219.4 131.7h.1M219.5 132.2h.1M241.3 159.3h.1M226.3 145.1h.1M232.4 141.9h.1M229.4 151.2h.1M224.8 150h.1M232 144.9h.1M243.3 161.7h.1M228.3 142.8h.1M246.9 170.8h.1M241 163.8h.1M242.4 166.7h.1M249.7 178.1h.1M239 160.9h.1M218.4 135.8h.1M240.6 163.1h.1M237.9 158.7h.1M239.1 164.4h.1M228 138.9h.1M230.4 155.3h.1M223.4 143.9h.1M217.7 135.3h.1M229.7 151h.1M236 149.3h.1M227.4 153.7h.1M232.2 143.6h.1M218.1 129.7h.1M217.2 131h.1M224.2 140.2h.1M247.4 167.9h.1M234.4 148.4h.1M248.3 176h.1M220.8 132.2h.1M232.4 152h.1M222.9 139.7h.1M218.9 131.1h.1M248 175.3h.1M242.9 163h.1M251 172.5h.1M251.6 178.3h.1M223.7 139.3h.1M218.5 149.8h.1M239.5 156.8h.1M234.8 151.6h.1M251 178.4h.1M224.3 142.6h.1M230.2 148.4h.1M235.1 161.9h.1M221.2 136.5h.1M248.5 171.1h.1M233.7 152.1h.1M237.8 162.6h.1M223 137.4h.1M250.2 168.7h.1M219.4 140.4h.1M257.1 184h.1M233.2 143.1h.1M221.7 135.7h.1M220.3 139.9h.1M224.4 138.7h.1M246.9 163.3h.1M236 151.4h.1M233.7 150.9h.1M251.5 162.1h.1M221.2 139.1h.1M246.9 167.9h.1M219.8 135.2h.1M234.2 151.8h.1M224.8 136.9h.1M219.3 130.9h.1M233.6 160.5h.1M238.5 147.2h.1M224.8 139.9h.1M250.8 175.5h.1M255.4 183.7h.1M228.4 144.7h.1M219.7 131.2h.1M233 156.5h.1M244.7 178.2h.1M248.8 175.6h.1M257.7 183.5h.1M236.1 157.4h.1M228 146.3h.1M222.1 136.3h.1M221.3 135.1h.1M235.7 149.8h.1M235.5 155.8h.1M235.2 159.6h.1M225.7 138.1h.1M237.9 162.2h.1M238.3 155.5h.1M231.6 143.6h.1M233.2 156.5h.1M232.7 154.4h.1M246.6 176.2h.1M227.4 143.2h.1M222.9 141.8h.1M225.3 139h.1M233.9 149.8h.1M250.1 179.3h.1M220.8 133.1h.1M235.3 155.5h.1M228.3 142.3h.1M236.1 151.8h.1M219 132.3h.1M249.3 174.8h.1M237.2 151.1h.1M217.8 133.8h.1M218.5 131.6h.1M220.7 148.9h.1M224.4 149.4h.1M242.5 175.1h.1M228.9 143.1h.1M226.5 140.9h.1M249.1 179.7h.1M224.7 138.6h.1M241.5 164.1h.1M233.6 140.1h.1M243.6 171.6h.1M225.8 149h.1M232.1 151.6h.1M251.7 173h.1M228.6 136.9h.1M239.8 153.7h.1M238.5 162.7h.1M236.7 153.5h.1M249 170.5h.1M218.5 130.8h.1M252.5 170.3h.1M217.8 131.2h.1M221.8 134.8h.1M217.6 129.3h.1M236.2 152.6h.1M235.8 158.9h.1M249.9 180.3h.1M213.6 139h.1M222.1 149.3h.1M222.4 139.5h.1M227.2 146.5h.1M217.8 131.3h.1M255 178.4h.1M221.1 133.9h.1M225.7 137.9h.1M224.8 141.3h.1M252.1 178.2h.1M239.5 161.3h.1M222.5 138.9h.1M219.8 131.5h.1M217.7 131h.1M232.1 155.8h.1M240.7 158.9h.1M222.6 136.4h.1M242.9 168.9h.1M213 147.1h.1M234.3 155.9h.1M251.4 181.7h.1M240.3 159.6h.1M222.8 140.5h.1M226.9 138.6h.1M252 183h.1M229.1 157h.1M233.2 159.1h.1M239.3 156.2h.1M221 131.4h.1M254.4 179.9h.1M251.6 178h.1M237.8 156.9h.1M223.2 147.1h.1M224.3 145.7h.1M245.9 168.3h.1M258.8 179.5h.1M249.2 176.8h.1M220.3 140h.1M236.2 155.9h.1M229.6 143.2h.1M226.3 154.7h.1M220.2 131.9h.1M229.2 156.4h.1M235.7 161.8h.1M225.8 143.9h.1M241.5 167.5h.1M245 158h.1M222.9 139.2h.1M222.3 133.6h.1M220.3 131.5h.1M240.5 159.1h.1M227 146.2h.1M244.4 160.7h.1M238 164.9h.1M236.8 147h.1M247 173.6h.1M234 157.3h.1M234.1 151.6h.1M227.3 146.8h.1M218.2 129.7h.1M258.5 188h.1M252.4 183.6h.1M243.6 161.2h.1M242.8 161.2h.1M254.6 177.6h.1M219.3 133.3h.1M229.5 147.3h.1M233 152.7h.1M242.6 162.6h.1M249.8 175.4h.1M220.9 142.6h.1M232.4 156.4h.1M235.2 152.7h.1M237.7 152.3h.1M243.6 154.6h.1M252.8 182.2h.1M237.2 150.6h.1M223.5 138.6h.1M252 164.8h.1M232.1 151.1h.1M239.7 152h.1M241.1 167.1h.1M220.8 134.1h.1M249.3 185.4h.1M232.6 153.4h.1M244.4 165.8h.1M237.8 146h.1M248.2 174.9h.1M217.6 129.1h.1M222.8 144.4h.1M237.9 155.3h.1M243.4 163.6h.1M230.2 143.4h.1M219 131h.1M227.3 135.8h.1M234.6 164.8h.1M241.7 165.4h.1M226.6 140.2h.1M218.8 137.3h.1M257.2 179.6h.1M228.6 148.9h.1M245 172.2h.1M225.2 137.4h.1M235.5 152.2h.1M221.5 141.3h.1M222.8 143.3h.1M258 185.8h.1M223.7 143.9h.1M249.5 175.5h.1M243.5 165.4h.1M227.4 146.7h.1M223.6 143.8h.1M225.6 141.3h.1M232.6 157.8h.1M236.3 161.5h.1M226.8 143.1h.1M221 138.5h.1M237.4 161.1h.1M246.3 171.4h.1M233.4 164.4h.1M224.7 147.9h.1M233.2 153.3h.1M251.6 177.1h.1M218.3 133.6h.1M250.1 176h.1M233.4 155h.1M250.5 170.7h.1M244.4 174.8h.1M247.7 159.9h.1M230.5 155.9h.1M226.9 134.2h.1M242 162.4h.1M218.2 131.7h.1M218.4 130.9h.1M240 153.4h.1M234.9 142.9h.1M236.5 156.8h.1M219.5 132.2h.1M237.4 159.3h.1M221 133.3h.1M238.2 159.9h.1M241.7 167.7h.1M226.6 141.9h.1M232.6 140.9h.1M234.8 150.6h.1M239.8 156.1h.1M220.6 142.4h.1M234.5 161.3h.1M229.1 140.3h.1M232 159.6h.1M226.8 148h.1M253.2 184.1h.1M220.6 140.4h.1M252.6 178.3h.1M234.5 153.3h.1M241.2 159.8h.1M219.1 132.7h.1M225.1 137.3h.1M220 131.5h.1M224.4 134.6h.1M247.1 173.6h.1M244.5 173h.1M229.8 150.1h.1M229.9 145.3h.1M238.2 168.6h.1M218.7 130.8h.1M257 186h.1M247.6 177.3h.1M224.7 133.6h.1M236.9 161.2h.1M244.2 163.7h.1M242 161h.1M245.7 170.8h.1M229.7 143.9h.1M238.2 167.1h.1M231 147.2h.1M226.4 143.9h.1M246 169.6h.1M251.5 177.5h.1M240.2 163.2h.1M229.5 148.5h.1M232.1 152h.1M239.3 163.9h.1M227.1 151.6h.1M235.4 145.3h.1M229.7 142.7h.1M235.1 147.4h.1M225.7 138.7h.1M243.2 168.6h.1M238 156.1h.1M223 133.8h.1M248.5 169.2h.1M214.6 141.3h.1M225.6 143.7h.1M251.8 164.4h.1M245 165.8h.1M243.4 168.7h.1M242.3 164.8h.1M237.6 158.7h.1M241.1 157.5h.1M248.4 164.1h.1M238.7 153.2h.1M219.1 136.4h.1M227.8 155.1h.1M233.2 158.3h.1M219.6 132.5h.1M251.7 184.8h.1M230.1 139.9h.1M228.8 148h.1M231.1 155.7h.1M248.8 172.7h.1M232.3 144.7h.1M243.4 168.1h.1M240 167.4h.1M244.8 166.6h.1M239 163.8h.1M253.2 178.7h.1M251.7 173.6h.1M262.9 179.6h.1M247.1 171h.1M235.8 171.1h.1M228.9 155.1h.1M214.3 134.6h.1M236.8 180.7h.1M249.9 173.3h.1M227 145.3h.1M244.2 158.3h.1M245.5 179.7h.1M232.7 144.4h.1M225.5 161.2h.1M227.8 145.2h.1M223.1 134.5h.1M226.8 139.3h.1M237.8 147.1h.1M219.1 141.7h.1M224.2 161.3h.1M226 143.3h.1M244.3 162.6h.1M244.1 152.1h.1M227.3 149h.1M232.8 156h.1M220.7 133.2h.1M243.4 158.3h.1M233.5 156.5h.1M230 149.9h.1M238.6 164.6h.1M237.9 154.7h.1M248.6 181.8h.1M235.9 157.8h.1M266.4 176.8h.1M257.9 174h.1M248.4 155.2h.1M240.7 164.8h.1M221.3 140.8h.1M224.8 147.4h.1M237 161.5h.1M248.3 176.1h.1M226 146.4h.1M236.5 166h.1M237.9 168h.1M226.1 153.6h.1M250.7 178.4h.1M233.9 169.4h.1M245.8 169.8h.1M241.9 165.2h.1M233.9 162.4h.1M228.2 136.7h.1M246.7 170.6h.1M243.8 166h.1M242.2 167.7h.1M231.5 147h.1M241.8 171.9h.1M244.6 163.7h.1M223.2 139.1h.1M237 159.2h.1M254.4 169.2h.1M240 173.1h.1M234.3 153.5h.1M235.6 154.3h.1M223.7 150.7h.1M234.1 159.9h.1M226 153.9h.1M236.6 154.8h.1M238.2 159.9h.1M246.4 155.7h.1M250.5 172.3h.1M242.1 163.9h.1M237.4 162.2h.1M241.5 167.2h.1M239.8 169.3h.1M243.3 167.6h.1M236.4 163.9h.1M234.4 156.7h.1M246.5 170.7h.1M224.9 136.4h.1M244.3 163.3h.1M224.4 171h.1M240.9 154.6h.1M241.2 152.6h.1M249.7 176.1h.1M244.2 171.3h.1M256 175.6h.1M252.6 162h.1M224.9 141.6h.1M241.6 155.4h.1M235.2 156.4h.1M222.6 143h.1M236.5 169.6h.1M228.3 157.2h.1M219.6 140.1h.1M254.5 180.5h.1M240.2 163.1h.1M243.1 168.7h.1M237.5 157.7h.1M219.4 148.7h.1M240.8 159h.1M237.9 158.3h.1M236.7 167.6h.1M229.4 148.3h.1M237.2 152.8h.1M234.2 165.7h.1M248.3 165.9h.1M249 180.4h.1M249.2 175.4h.1M244.9 175.4h.1M236.7 157.3h.1M222.4 142.3h.1M224.8 143.1h.1M226.4 143.6h.1"/><text transform="translate(132.3 193.2) scale(.84 1)" text-anchor="end">0</text><text transform="translate(132.3 168.8) scale(.84 1)" text-anchor="end">128</text><text transform="translate(132.3 144.4) scale(.84 1)" text-anchor="end">256</text><text transform="translate(186.7 226.7) scale(.84 1)" text-anchor="end">0</text><text transform="translate(163.5 215.1) scale(.84 1)" text-anchor="end">128</text><text transform="translate(140.3 203.6) scale(.84 1)" text-anchor="end">256</text><text transform="translate(194.4 226.8) scale(.84 1)">H</text><text transform="translate(229.9 216.8) scale(.84 1)">V</text><text transform="translate(266 206.9) scale(.84 1)">D</text><line class="g" x1="502" y1="207.3" x2="447.6" y2="180.2"/><line class="g" x1="442.5" y1="205.7" x2="515.1" y2="185.8"/><line class="g" x1="419.3" y1="194.2" x2="491.9" y2="174.3"/><line class="g" x1="411.3" y1="190.2" x2="483.9" y2="170.3"/><line class="g" x1="483.9" y1="170.3" x2="538.3" y2="197.4"/><line class="g" x1="411.3" y1="165.8" x2="483.9" y2="145.9"/><line class="g" x1="411.3" y1="141.4" x2="483.9" y2="121.5"/><line class="g" x1="447.6" y1="180.2" x2="447.6" y2="123.1"/><line class="g" x1="483.9" y1="170.3" x2="483.9" y2="113.1"/><line class="g" x1="538.3" y1="173" x2="483.9" y2="145.9"/><line class="g" x1="538.3" y1="148.6" x2="483.9" y2="121.5"/><line class="g" x1="538.3" y1="197.4" x2="538.3" y2="140.2"/><line class="g" x1="515.1" y1="185.8" x2="515.1" y2="128.6"/><line class="g" x1="491.9" y1="174.3" x2="491.9" y2="117.1"/><line class="a" x1="411.3" y1="190.2" x2="465.7" y2="217.3"/><line class="a" x1="465.7" y1="217.3" x2="538.3" y2="197.4"/><line class="a2" x1="411.3" y1="190.2" x2="411.3" y2="133"/><line class="t" x1="409.3" y1="190.2" x2="411" y2="190.2"/><line class="t" x1="409.3" y1="165.8" x2="411" y2="165.8"/><line class="t" x1="409.3" y1="141.4" x2="411" y2="141.4"/><polygon points="538.3,197.4 492.1,174.4 492.1,126.7 538.3,149.7" fill="#0000ff" opacity=".88" filter="url(#dn5)"/><polygon points="502,207.3 455.8,184.3 455.8,136.7 502,159.7" fill="#00ff00" opacity=".88" filter="url(#dn4)"/><polygon points="465.7,217.3 419.5,194.3 419.5,146.6 465.7,169.6" fill="#ff00ff" opacity=".88" filter="url(#dn3)"/><text transform="translate(407.3 193.2) scale(.84 1)" text-anchor="end">0</text><text transform="translate(407.3 168.8) scale(.84 1)" text-anchor="end">128</text><text transform="translate(407.3 144.4) scale(.84 1)" text-anchor="end">256</text><text transform="translate(461.7 226.7) scale(.84 1)" text-anchor="end">0</text><text transform="translate(438.5 215.1) scale(.84 1)" text-anchor="end">128</text><text transform="translate(415.3 203.6) scale(.84 1)" text-anchor="end">256</text><text transform="translate(469.4 226.8) scale(.84 1)">H</text><text transform="translate(504.9 216.8) scale(.84 1)">V</text><text transform="translate(541 206.9) scale(.84 1)">D</text><line class="g" x1="227" y1="322.4" x2="172.6" y2="295.2"/><line class="g" x1="167.5" y1="320.7" x2="240.1" y2="300.8"/><line class="g" x1="144.3" y1="309.2" x2="216.9" y2="289.3"/><line class="g" x1="136.3" y1="305.2" x2="208.9" y2="285.3"/><line class="g" x1="208.9" y1="285.3" x2="263.3" y2="312.4"/><line class="g" x1="136.3" y1="280.8" x2="208.9" y2="260.9"/><line class="g" x1="136.3" y1="256.4" x2="208.9" y2="236.5"/><line class="g" x1="172.6" y1="295.2" x2="172.6" y2="238.1"/><line class="g" x1="208.9" y1="285.3" x2="208.9" y2="228.1"/><line class="g" x1="263.3" y1="288" x2="208.9" y2="260.9"/><line class="g" x1="263.3" y1="263.6" x2="208.9" y2="236.5"/><line class="g" x1="263.3" y1="312.4" x2="263.3" y2="255.2"/><line class="g" x1="240.1" y1="300.8" x2="240.1" y2="243.6"/><line class="g" x1="216.9" y1="289.3" x2="216.9" y2="232.1"/><line class="a" x1="136.3" y1="305.2" x2="190.7" y2="332.3"/><line class="a" x1="190.7" y1="332.3" x2="263.3" y2="312.4"/><line class="t" x1="134.3" y1="305.2" x2="136" y2="305.2"/><line class="t" x1="134.3" y1="280.8" x2="136" y2="280.8"/><line class="t" x1="134.3" y1="256.4" x2="136" y2="256.4"/><path fill="#ff00ff" d="M147.9 268.2 148.6 269.7 149.4 271.3 150.3 272.8 151.2 274.3 152.1 275.9 153 277.4 153.9 278.9 154.9 280.5 155.8 282 156.7 283.5 157.7 285.1 158.6 286.6 159.6 288.1 160.6 289.7 161.5 291.2 162.5 292.7 163.4 294.3 164.4 295.8 165.5 297.3 166.6 298.9 167.7 300.4 168.7 301.9 169.8 303.4 170.9 305 172 306.5 173.1 308 174.2 309.6 175.3 311.1 176.4 312.6 177.5 314.2 178.6 315.7 179.7 317.2 180.8 318.8 182 320.3 183.1 321.8 184.2 323.4 185.4 324.9 186.5 326.4 187.7 328 188.8 329.5 189.3 329.5 188.4 328 187.6 326.4 186.7 324.9 185.8 323.4 184.9 321.8 184 320.3 183 318.8 182.1 317.2 181.2 315.7 180.2 314.2 179.3 312.6 178.4 311.1 177.4 309.6 176.5 308 175.5 306.5 174.6 305 173.6 303.4 172.6 301.9 171.7 300.4 170.7 298.9 169.8 297.3 168.8 295.8 167.7 294.3 166.6 292.7 165.6 291.2 164.5 289.7 163.4 288.1 162.3 286.6 161.2 285.1 160.1 283.5 159 282 157.9 280.5 156.8 278.9 155.7 277.4 154.5 275.9 153.4 274.3 152.2 272.8 151.1 271.3 149.8 269.7 148.4 268.2Z"/><path stroke="#ff00ff" class="pt" opacity=".85" d="M166.2 291.2h.1M165.8 291.8h.1M164.2 290.3h.1M152 276.3h.1M152.4 271.3h.1M160 286.7h.1M170.2 300.9h.1M170.5 301.2h.1M184.1 322.5h.1M152.7 275.3h.1M178.8 309.7h.1M154.6 276.8h.1M155.1 280.5h.1M173 302.9h.1M185.3 325h.1M162 291h.1M173.1 309.6h.1M162 291.7h.1M163.1 288.2h.1M166.1 292.2h.1M165.3 297.3h.1M182.1 316.6h.1M151.7 271.7h.1M180.1 317.7h.1M179.7 314h.1M162.3 290.3h.1M162.8 288.1h.1M172.2 306.2h.1M154.3 282.7h.1M187.8 327.2h.1M165.3 291.4h.1M165.1 290.2h.1M160.8 290.2h.1M176.8 308.9h.1M152.4 274.4h.1M156.7 279.3h.1M163.2 287.5h.1M163.5 292h.1M169.3 297.8h.1M167.5 290.7h.1M168.1 296h.1M161.4 284.2h.1M162.8 293.8h.1M166.6 297.2h.1M171.4 304.4h.1M166.6 290.4h.1M177.9 314.4h.1M177 312.3h.1M158.8 281.9h.1M162.1 293.1h.1M163.8 297.1h.1M150.2 270h.1M175.9 308.9h.1M166 293.4h.1M149.5 268.6h.1M168.1 295.9h.1M160.4 285.5h.1M188.8 329.1h.1M177.1 309.6h.1M169.9 301.9h.1M182.7 319.8h.1M152.5 277.8h.1M175 309.2h.1M173.8 311.3h.1M171.6 303.5h.1M150.5 270.7h.1M174.7 306.6h.1M183.5 319.4h.1M179.1 314.7h.1M177.6 302.7h.1M176.4 306.3h.1M156 276.1h.1M173.9 306.4h.1M173.9 307.3h.1M187.3 326.7h.1M161.1 290.5h.1M156.8 280.2h.1M187.7 326.9h.1M176.8 311.4h.1M156 279.2h.1M155.9 283.1h.1M182.8 317.2h.1M176.7 309.5h.1M150.5 270.3h.1M156.8 281.4h.1M159.3 280h.1M164.3 298.7h.1M163 294.4h.1M170.5 295.8h.1M147.6 271.9h.1M174.4 303.2h.1M174.9 305.2h.1M170.7 298.5h.1M169 302.3h.1M156.5 281.3h.1M172.5 297.9h.1M167.9 298.6h.1M185.3 322.7h.1M171.3 304.6h.1M189.2 327.8h.1M171 300.4h.1M161.7 285.6h.1M179.7 316.4h.1M172 305h.1M168.2 303.4h.1M162.7 283.1h.1M181 316.4h.1M159.9 285.8h.1M177.3 310.6h.1M154.5 278.9h.1M165.2 297.6h.1M156.7 281.6h.1M173.1 309h.1M184 317.9h.1M163.7 295.3h.1M186 326.3h.1M174.2 302.9h.1M188.2 328.2h.1M182.1 318.6h.1M169.4 295.8h.1M173.4 303.7h.1M156.6 285h.1M182.3 319.9h.1M167.8 298.4h.1M180.2 315h.1M155.9 280.2h.1M153.2 272.5h.1M160.2 285.3h.1M158.8 288.8h.1M159.3 286.8h.1M151.9 275.3h.1M151.7 276h.1M167.8 302.4h.1M152.8 274.3h.1M154.1 274.7h.1M184 317.7h.1M162.9 298.2h.1M161.2 281.3h.1M168.2 295.9h.1M162.1 293.9h.1M160 286.4h.1M178.5 314.3h.1M177.3 308.8h.1M164.1 288.5h.1M160.7 290.6h.1M172.5 307.9h.1M168.7 294.9h.1M154.2 280h.1M168 294.5h.1M175.3 312h.1M189.1 328.9h.1M167.6 292.4h.1M149.9 270.7h.1M174.4 310.7h.1M156.4 280.7h.1M154.9 282.8h.1M168.9 297.9h.1M183.3 315.1h.1M160 284.3h.1M150 269.7h.1M177.4 314.6h.1M162.3 290.2h.1M160.5 289.5h.1M187.1 325.6h.1M160.4 287.5h.1M158.3 285.2h.1M184 322.5h.1M157.5 281.8h.1M179.5 312.5h.1M179.4 316.4h.1M166.4 292.8h.1M165.9 294.3h.1M151.8 271.8h.1M178.2 310.4h.1M183 320.8h.1M166.8 294.5h.1M166.5 303.2h.1M184.7 321.7h.1M150.4 272.1h.1M184.2 319.8h.1M157.2 282.5h.1M177.5 311.6h.1M180.9 320.1h.1M158 284.9h.1M162.2 291.9h.1M148.5 269h.1M177 315.1h.1M184.8 318.3h.1M152.2 270.9h.1M148.3 269.9h.1M166.9 299h.1M152.8 273.7h.1M180.9 317.3h.1M152.6 272.4h.1M166.9 294.3h.1M161.7 285h.1M174.5 308.3h.1M168 296.4h.1M170.5 295.8h.1M167.3 291.9h.1M159.9 282.3h.1M182.6 320h.1M154.9 279.4h.1M160 288.2h.1M185.3 321.4h.1M158.5 282.4h.1M176 308.2h.1M157.1 280.1h.1M157.5 278.8h.1M180.3 313.9h.1M167 295h.1M157.5 275.9h.1M161.4 287.1h.1M155.1 279.7h.1M158.2 283h.1M160.1 289.1h.1M172.9 298.3h.1M182.6 320.6h.1M167.4 299.9h.1M166.5 298.1h.1M170 305.2h.1M178.3 311h.1M177 306.1h.1M170.3 303.9h.1M169.5 297.6h.1M156.7 281.1h.1M155.3 281.2h.1M149.8 274.8h.1M179.3 310h.1M168.2 294h.1M161.1 291.2h.1M182.9 315.5h.1M180.9 316h.1M187 324.3h.1M188.5 328.4h.1M180.7 314.1h.1M173.9 306.3h.1M185.4 325h.1M167.2 296h.1M154.1 280.5h.1M156.6 277.6h.1M174.1 301.6h.1M166.2 297.8h.1M157 279.7h.1M167.3 299.9h.1M184.2 321.3h.1M169.9 297.1h.1M171.6 300.5h.1M167.8 298.7h.1M173.9 302.5h.1M172.2 308.8h.1M150.3 270.5h.1M170 300.5h.1M166.4 288.7h.1M182.2 318.6h.1M155.9 276.3h.1M167.5 296.4h.1M180 316.4h.1M155 279.4h.1M160.8 285.9h.1M156.7 283.3h.1M184.6 324h.1M166.8 299.3h.1M182.6 321.3h.1M183.9 316.7h.1M181.2 319.1h.1M163.3 292.4h.1M169.4 300.9h.1M158.9 285.5h.1M157.1 283.6h.1M161.1 297.3h.1M156.4 278.8h.1M153.9 276.1h.1M177.2 311h.1M153.7 277.1h.1M173.5 299.3h.1M172.2 304.3h.1M176.7 309.8h.1M157.6 282.1h.1M171.4 299.6h.1M189.4 329.1h.1M165.7 287h.1M154.6 274h.1M177.2 304.1h.1M179.1 313.1h.1M172.8 302.1h.1M180.3 308.6h.1M168.3 299.8h.1M166.7 299.8h.1M159.2 290.5h.1M175.2 309.8h.1M161 284.1h.1M165.1 294.8h.1M173.5 305.1h.1M154.1 276.4h.1M168.4 299.8h.1M174.6 311.4h.1M151.6 273.4h.1M167.6 299.5h.1M172.2 304.6h.1M162.2 286.2h.1M173.1 306.6h.1M168.2 299.3h.1M163.1 299.5h.1M174.9 306h.1M166.6 294.6h.1M163 289h.1M157.1 281.2h.1M167 295.9h.1M179 309.7h.1M157.7 285.6h.1M165.6 295.4h.1M153.2 274.1h.1M160.6 284.6h.1M167.3 297.4h.1M163 288.3h.1M167.3 298h.1M156.5 285h.1M159.6 286h.1M185 322h.1M187.2 326.5h.1M158.8 281.1h.1M174.3 310.3h.1M183 318.7h.1M170.9 304h.1M170.3 298.7h.1M175.7 309.2h.1M158.5 292.1h.1M185.6 322.3h.1M179.3 309.7h.1M176.5 310.5h.1M188 327.8h.1M174.5 308.2h.1M186.6 326.2h.1M170.8 304.4h.1M170.7 306h.1M176 311h.1M160.9 289.1h.1M153.6 275.2h.1M154.9 278.9h.1M174.7 310.8h.1M171.9 302.3h.1M163.5 292.2h.1M166.1 294.2h.1M181.4 319.2h.1M170.3 296.6h.1M181.7 317.7h.1M150.6 269h.1M161.3 289.5h.1M177.1 309.2h.1M184.9 320.3h.1M162 286.3h.1M163.4 292.1h.1M169.1 297h.1M182.8 319.1h.1M182.8 321.5h.1M157.1 280h.1M162 297.8h.1M167 293.8h.1M170.8 292.9h.1M168.3 297h.1M188.5 328.6h.1M171.7 299.7h.1M160.8 283.3h.1M171.2 301.3h.1M162 299.1h.1M188.7 329h.1M165.8 296.8h.1M169.2 301.5h.1M182.4 316.6h.1M172 302.2h.1M182.5 320.3h.1M155 279.5h.1M158.1 281h.1M168.8 300.8h.1M175.9 308.6h.1M174.9 309.1h.1M183.5 324.1h.1M167.3 299.7h.1M166.6 291.2h.1M166.4 293.6h.1M164.9 291.7h.1M178.4 312.5h.1M155.9 279.6h.1M158.5 285.2h.1M157.9 281.9h.1M165 297.8h.1M158.6 284.5h.1M183.8 320.4h.1M156.5 280.1h.1M147.9 268.7h.1M166.4 295.2h.1M174.5 304.1h.1M170.8 299.3h.1M162.2 286.4h.1M182.4 319h.1M186.1 326h.1M186.8 323.6h.1M159.5 283.3h.1M186.6 324.6h.1M166 293.1h.1M171.5 303.5h.1M173.3 306.7h.1M158.6 282.5h.1M181.6 320.2h.1M169.4 300.8h.1M180.1 314.3h.1M172.6 304.2h.1M150.1 271.4h.1M167.3 302.1h.1M158.5 281.2h.1M182.5 319.8h.1M166.3 297.2h.1M158.7 286.2h.1M181.3 316.4h.1M163.5 286.5h.1M149.4 270.5h.1M165.2 291.5h.1M155.2 275.1h.1M185.9 323.7h.1M154.4 276h.1M175.9 309.3h.1M187.9 328.3h.1M180 316.9h.1M150.4 270.5h.1M148.4 268.2h.1M159.9 285.3h.1M188.4 325.5h.1M157.7 277.9h.1M167.1 295.8h.1M150.5 269.8h.1M155.2 276.5h.1M161.2 283.3h.1M163.7 292.3h.1M185.9 321.8h.1M154.2 275.1h.1M156.5 279h.1M155 277.2h.1M173.4 310.1h.1M183.6 322.5h.1M149.2 269.7h.1M175.2 310.2h.1M173.8 308.9h.1M154.3 276.2h.1M166 300.5h.1M181.7 318.2h.1M176.9 306.4h.1M151 276.7h.1M170.4 301.5h.1M154.6 285h.1M167.8 296.8h.1M168.9 291.9h.1M163.1 297.4h.1M180.6 316.9h.1M168.2 298.8h.1M160 284.8h.1M172.4 302.7h.1M162.2 289.5h.1M175 308.6h.1M161 291.3h.1M156.9 279.9h.1M187.9 328.1h.1M188.1 326.6h.1M177.8 314h.1M185.4 322.5h.1M175.3 305h.1M176.6 312.8h.1M162.2 291.3h.1M175.6 310.3h.1M161 289.4h.1M166 292.6h.1M162.9 288.8h.1M173.5 301.7h.1M169.7 298.3h.1M172.3 305.5h.1M188.5 328.2h.1M181.4 319.5h.1M173.8 301.4h.1M149.7 271.3h.1M165.8 294.9h.1M181.7 319.2h.1M177.7 311.8h.1M174 304.2h.1M160.5 287.3h.1M181 314.9h.1M175.9 312.3h.1M180.3 315.8h.1M177 312.6h.1M170.7 301.3h.1M177.9 313.8h.1M175.3 311h.1M163.6 290h.1M160.9 288.3h.1M176.5 308.5h.1M167.8 300.6h.1M175.7 308.3h.1M162.1 289.8h.1M178.3 312.5h.1M170.6 300.2h.1M156.1 278.4h.1M187.3 326.5h.1M155.7 281.4h.1M184 318.2h.1M173 301.5h.1M160.2 290.5h.1M178.7 309.3h.1M168.3 299.2h.1M164.2 298.6h.1M171.7 300h.1M155 280h.1M149.2 273.6h.1M151.7 273h.1M167.1 295.4h.1M151.9 273.2h.1M164.5 290.7h.1M157 278.6h.1M156 281.3h.1M168.3 295.7h.1M167.5 297.8h.1M163.6 293.7h.1M149.6 285.7h.1M151.6 273.7h.1M161.6 305.2h.1M152.2 278.5h.1M164.3 286.3h.1M170.8 297.8h.1M189.6 322.9h.1M166.1 304.8h.1M183 316.6h.1M166 300.4h.1M171.7 305.6h.1M161 287.9h.1M156.9 284.2h.1M181.6 309.3h.1M159.9 291.8h.1M180.4 315.1h.1M158.3 280.6h.1M156.3 282.1h.1M171.2 304.1h.1M157.8 285.1h.1M184.6 297.9h.1M168 294.7h.1M182.4 296.3h.1M181 311h.1M164.4 289.9h.1M182.3 318.2h.1M177.9 303.1h.1M187.6 311.7h.1M152.4 273h.1M177.5 310.6h.1M167.1 294.8h.1M171.3 294.1h.1M179.1 312.6h.1M183.9 323.5h.1M165 298.7h.1M177.2 303.9h.1M152.1 273.5h.1M192.7 321.6h.1M170.2 301h.1M155 285h.1M184.9 289.8h.1M170.5 299.4h.1M182.7 319h.1M163.6 289.3h.1M176.3 306.3h.1"/><path fill="#00ff00" d="M183.4 258.4 184.3 259.9 185.2 261.5 186.1 263 187.1 264.5 188 266.1 189 267.6 190 269.1 190.9 270.7 191.9 272.2 192.9 273.8 193.9 275.3 194.8 276.8 195.8 278.4 196.8 279.9 197.8 281.4 198.8 283 199.8 284.5 200.8 286 201.8 287.6 202.8 289.1 203.8 290.6 204.9 292.2 206 293.7 207 295.2 208.1 296.8 209.2 298.3 210.3 299.8 211.3 301.4 212.4 302.9 213.5 304.4 214.6 306 215.7 307.5 216.8 309.1 217.9 310.6 219 312.1 220.1 313.7 221.2 315.2 222.3 316.7 223.5 318.3 224.6 319.8 225.1 319.8 224.1 318.3 223.2 316.7 222.2 315.2 221.3 313.7 220.4 312.1 219.4 310.6 218.4 309.1 217.5 307.5 216.5 306 215.5 304.4 214.6 302.9 213.6 301.4 212.6 299.8 211.6 298.3 210.7 296.8 209.7 295.2 208.7 293.7 207.7 292.2 206.7 290.6 205.8 289.1 204.7 287.6 203.6 286 202.6 284.5 201.5 283 200.4 281.4 199.4 279.9 198.3 278.4 197.2 276.8 196.1 275.3 195.1 273.8 194 272.2 192.9 270.7 191.8 269.1 190.7 267.6 189.6 266.1 188.5 264.5 187.4 263 186.3 261.5 185.1 259.9 183.9 258.4Z"/><path stroke="#00ff00" class="pt" opacity=".85" d="M218.1 309.3h.1M190.2 271.1h.1M203 284.6h.1M220.6 311.6h.1M224.4 318.9h.1M205.4 284.9h.1M223.6 315.9h.1M203.1 285.1h.1M222.7 316.5h.1M192 273.5h.1M201 290.6h.1M217.1 305.4h.1M215 305.3h.1M221.8 313.7h.1M183.9 261.6h.1M212.7 300.6h.1M208.3 295.3h.1M209.3 296.2h.1M194.7 273.1h.1M211.4 297.5h.1M203.7 289h.1M213.2 306.5h.1M221.7 311.3h.1M215.3 298.9h.1M202.9 283.2h.1M214.1 300.2h.1M217.8 308.7h.1M188 270.1h.1M223.6 317h.1M196.4 273.7h.1M210.3 295.9h.1M215.3 301.9h.1M189.2 271.8h.1M201.8 280.9h.1M199.7 279.5h.1M214.1 304.2h.1M190.8 269.8h.1M199.7 279h.1M222.7 316.6h.1M194 271.8h.1M218.3 310.4h.1M187.5 263.3h.1M192.6 270.6h.1M217.3 309.8h.1M188.8 266.8h.1M213.2 296.7h.1M195.3 279.3h.1M223.1 314.9h.1M225.4 317.7h.1M221.3 313.3h.1M214.3 304.5h.1M204 288.8h.1M210.6 299.1h.1M192.9 272.7h.1M221.6 312h.1M213.4 295.5h.1M197.4 278h.1M203.1 286.3h.1M205.3 284.3h.1M193.2 274.6h.1M207.7 291.9h.1M202.4 284.1h.1M223.8 315.5h.1M200.3 286.5h.1M188.9 265.1h.1M216.3 304.7h.1M218.3 311.7h.1M203.7 284.3h.1M199.4 279.3h.1M207.3 292.7h.1M186.6 261.4h.1M206.8 289h.1M216.9 304.5h.1M211.3 301.7h.1M219.9 313.5h.1M221.3 311h.1M205.4 283.9h.1M213.5 298.3h.1M207.7 299.1h.1M191 268.4h.1M212.1 304.8h.1M215.4 305.9h.1M201.7 291.9h.1M207.9 288.4h.1M213.5 301.1h.1M212 300h.1M212 304h.1M224.5 316.5h.1M199.8 282.3h.1M200.1 280.1h.1M202.5 283.9h.1M198.5 272.9h.1M213.6 305.6h.1M187.8 263.2h.1M223 311.5h.1M201.9 282h.1M202.3 288.8h.1M197.7 280.7h.1M199.6 286.9h.1M196.7 277.4h.1M196.7 275.6h.1M203.1 286.9h.1M210.2 300.5h.1M199.4 281.6h.1M215.4 299.6h.1M217.7 308.8h.1M197.9 280.9h.1M195.6 273.1h.1M186.8 263.7h.1M204.9 286.6h.1M220.7 314h.1M208.2 296.2h.1M210.3 298.7h.1M204.3 288.1h.1M198.8 278.5h.1M224.4 318.9h.1M198.3 281.1h.1M206.9 293.3h.1M220.2 310.6h.1M212.3 296.2h.1M188.4 264.7h.1M193.9 271.3h.1M209.4 294.2h.1M216.8 308.3h.1M212.8 300.9h.1M210.2 296.4h.1M205 280.2h.1M206.8 290.3h.1M192.7 270.3h.1M218.6 311.8h.1M212.3 296.5h.1M195 277h.1M200 281.8h.1M218.4 310.3h.1M201.4 280.6h.1M220.1 313.8h.1M220.8 313.8h.1M212.7 297.3h.1M207.8 288.2h.1M189.2 268.7h.1M222.2 316.6h.1M210.7 296.1h.1M191 267.5h.1M199.8 280.5h.1M218.4 311h.1M191.7 272.1h.1M205.1 292.3h.1M187.7 262.1h.1M212.3 303.5h.1M216.8 303.2h.1M218.8 308.5h.1M202.3 286.5h.1M209.3 292.7h.1M204.3 286.9h.1M223.5 317.1h.1M189.8 265.1h.1M184.4 260.9h.1M223.3 315.6h.1M210.7 302h.1M218.6 312.9h.1M200.7 283h.1M199.8 283.6h.1M189.6 267.7h.1M225.9 319.3h.1M203 292h.1M222.1 317.2h.1M217.7 309.8h.1M200 277.9h.1M224.6 318.1h.1M214.2 301.4h.1M185.9 264.1h.1M207.8 292.5h.1M209.5 298.4h.1M207.2 292.6h.1M201.3 284.2h.1M211.5 299.5h.1M193.1 268.5h.1M205.2 294.5h.1M222.4 314.3h.1M207 293.7h.1M202.2 284h.1M193.5 271.1h.1M189.3 268.6h.1M199.9 279.3h.1M196.1 281.2h.1M185.8 259.6h.1M202.4 282.6h.1M214.5 301.4h.1M189.4 264.3h.1M193.6 270.3h.1M217.5 303.4h.1M194.3 272.6h.1M214.7 296.4h.1M202.9 283.4h.1M203.3 284.4h.1M201.3 282.4h.1M211.6 304h.1M205.5 290.8h.1M192.6 271.3h.1M216.2 305.2h.1M209 288.9h.1M212.2 296.2h.1M193.6 268.2h.1M215.5 304.2h.1M194.5 269h.1M209.4 297h.1M185.1 259.1h.1M221 312.7h.1M190.1 269h.1M217.8 305.5h.1M188.3 263.3h.1M210.7 298.6h.1M214.4 305.1h.1M211.1 302.2h.1M202.9 290.2h.1M209.4 296.4h.1M189.1 263.2h.1M209.9 299.1h.1M201.4 288.2h.1M212.7 305h.1M205 281.8h.1M185.5 260h.1M201.2 282.3h.1M205.2 288.6h.1M195 269.3h.1M202.9 288.1h.1M210.5 301.6h.1M222.8 316h.1M193 275.2h.1M207 292.6h.1M209.8 295.2h.1M206.7 288.4h.1M210.2 299h.1M200.6 284.7h.1M190.5 271.2h.1M218.6 306.1h.1M195.1 282.7h.1M206.1 294.6h.1M196.5 279h.1M203.1 282.1h.1M187.8 261h.1M204.9 289.4h.1M218 304.1h.1M194.2 274.5h.1M210.7 287.7h.1M199.8 291.1h.1M212.1 301.3h.1M200.7 284.3h.1M185.5 259.9h.1M197.2 271.9h.1M217.1 310.6h.1M196.8 279.9h.1M190 267.2h.1M199.2 285.8h.1M203.9 290.6h.1M202.6 286.8h.1M203.4 286h.1M192.6 273.7h.1M215.5 306.5h.1M216.4 304.7h.1M216.1 308h.1M214.4 299h.1M188.9 268.3h.1M187.1 264.6h.1M192.1 276.3h.1M212.9 295.8h.1M215.2 299.7h.1M190.8 269.4h.1M208.7 295.4h.1M188.3 264.7h.1M184.8 258.8h.1M215.9 302.7h.1M199.9 283.2h.1M219.5 312.7h.1M219.8 313.1h.1M202.5 282.1h.1M207.8 288.5h.1M220.9 314.7h.1M197.1 276.8h.1M193.1 272.1h.1M206.7 290.5h.1M197.8 281.2h.1M213.2 301.7h.1M217.8 307.9h.1M189.3 266.2h.1M190.7 273.9h.1M188.8 270h.1M209.3 299.1h.1M216.7 301.4h.1M196 282h.1M212.1 301.1h.1M209.9 296.9h.1M191.4 270.4h.1M199.3 285.1h.1M207.3 292.5h.1M191.6 268.2h.1M198.8 279.7h.1M217.2 308.1h.1M221.5 313.6h.1M209.6 295.5h.1M206.5 289.3h.1M194.8 271.3h.1M195.7 279.7h.1M206.2 293.8h.1M197.2 282h.1M187.3 265.6h.1M189.5 267.1h.1M208.4 295.7h.1M203.8 283h.1M203 285.7h.1M205.1 280.9h.1M197.6 272.3h.1M201.2 289.8h.1M196.6 279.3h.1M201.8 290.7h.1M214.1 298.3h.1M212.4 304.8h.1M223 310.4h.1M198.2 285.7h.1M204.4 289.4h.1M198.1 283.2h.1M193.8 272.8h.1M204.7 287.1h.1M211.3 301.6h.1M198.7 278.9h.1M196.9 279.2h.1M209 296.6h.1M214 302.5h.1M208.4 291.3h.1M223.2 315.6h.1M213.1 302h.1M194.4 271.4h.1M210.4 298.5h.1M187.4 261.9h.1M204.2 290.2h.1M219.1 308.9h.1M208.5 296h.1M192.9 269.4h.1M207.1 292.7h.1M195.9 273.4h.1M198.9 280.5h.1M216.8 305h.1M206 290.8h.1M203.1 286.7h.1M199.2 278.4h.1M194.3 269.6h.1M198.1 280.7h.1M212.7 294h.1M189.4 269.8h.1M206.6 295.4h.1M218.2 309.8h.1M207.5 291.9h.1M214.9 303.9h.1M192.4 274.6h.1M215 296.9h.1M201.6 278.9h.1M218.1 307.9h.1M211.1 303.9h.1M191.7 269.4h.1M224.8 318.1h.1M188.3 263.4h.1M185.8 259.1h.1M207.2 290.3h.1M197 272.9h.1M210.3 302.3h.1M184.5 263.1h.1M223.3 314.9h.1M226 317.9h.1M204 288.7h.1M222.1 313.1h.1M192.7 273.2h.1M216.4 310h.1M191.5 269.1h.1M213.5 306.7h.1M199.5 285.8h.1M196.3 271.5h.1M196.1 279.6h.1M184.3 259.3h.1M214.1 304h.1M195.4 276.9h.1M199 278.5h.1M211.6 296.7h.1M191.5 269.2h.1M196.9 271.5h.1M207.5 293.4h.1M217.5 301.2h.1M204.9 286.6h.1M196.2 276.5h.1M213 304.3h.1M208.3 296.2h.1M217.3 308.5h.1M187.3 261h.1M221.3 310.1h.1M211.6 295.5h.1M199 281.7h.1M203.5 286.8h.1M207.5 298.6h.1M201.3 282.7h.1M215.2 304.4h.1M216.4 308.4h.1M222.7 318.1h.1M211.8 303h.1M219.6 310.1h.1M210.6 303.1h.1M220.7 314.1h.1M189.6 268.2h.1M201.7 287.4h.1M209.7 298.4h.1M210.6 293.5h.1M187.6 265.5h.1M224.7 319.3h.1M193.5 274.6h.1M208.2 296.3h.1M192 272.6h.1M203.8 285.2h.1M218 307h.1M188.1 263.2h.1M202.4 290.6h.1M185.2 267.2h.1M221.1 312.1h.1M194.8 277h.1M212.3 300.9h.1M205.4 289h.1M215.1 302.4h.1M203.1 288.5h.1M199.4 278.4h.1M210.5 304h.1M217.7 305.1h.1M201.1 283.9h.1M219.4 311.7h.1M219 310.5h.1M197.9 286.2h.1M215.3 302.8h.1M187.1 260.3h.1M197.5 279.7h.1M187.9 261.4h.1M196.7 276.6h.1M216.5 308.4h.1M210.8 303.2h.1M191.6 268.7h.1M201.9 285.9h.1M212.9 286.1h.1M189.1 264.7h.1M199.7 280.1h.1M200.8 281.9h.1M201.8 285.7h.1M193.7 274.6h.1M194.4 273.4h.1M193.1 272.4h.1M186.7 264.4h.1M208.9 282.5h.1M225.9 304.9h.1M205.7 289.7h.1M224.9 287.4h.1M189.2 265.1h.1M197.2 276.6h.1M218.9 306.9h.1M191.7 261.5h.1M214.8 293.2h.1M216.9 306.2h.1M190.1 264.5h.1M240.1 311.2h.1M201.6 273.5h.1M214.1 294.8h.1M210.7 294.3h.1M202.8 261.6h.1M208 294h.1M197 268.9h.1M191.9 264h.1M209.8 282.1h.1M212.4 297.2h.1M195.7 275.4h.1M199.2 280.6h.1M200.7 281.8h.1M223.3 313.9h.1M202.1 269.4h.1M222 283.4h.1M197.3 273.7h.1M225.3 309h.1M224.7 313.2h.1M194.7 269.1h.1M211.2 277.6h.1M204.2 284.8h.1M222.2 313h.1M211 282.8h.1M215.7 294.6h.1M198.3 267.8h.1M197.9 267.2h.1M206.9 288.3h.1M213 291.4h.1M220.3 284.3h.1M223.5 312.7h.1M219.7 309.5h.1M203.9 284.2h.1M200.9 269.8h.1M210 292h.1M203.4 268.8h.1M205.5 285.7h.1M218.8 286.5h.1M195.5 274.1h.1M212.6 282.6h.1M203.8 281.1h.1M224.1 309.5h.1M203 273.7h.1M225.2 290.5h.1M211.7 298.6h.1M196.3 272.8h.1M200.4 279.4h.1M188.3 263.7h.1M193.1 263.6h.1M208.3 292.4h.1M204.1 281.2h.1M213.6 284.5h.1M199.6 266.4h.1M196.6 266.4h.1M215.9 299.5h.1M192.7 268.1h.1M248.4 282.6h.1M219.7 307.7h.1M199.7 269.8h.1M200.9 278.7h.1M221.2 311.8h.1M192.7 270h.1M222.4 305.2h.1M238.4 299.1h.1M190.3 266.3h.1M221 291.6h.1M204 286.9h.1M207.7 292.2h.1M193.9 271.4h.1M187.1 261.4h.1M213.7 294.4h.1M194.6 264.4h.1M231.5 310.9h.1M222.4 313.4h.1M206.7 286.7h.1M197.6 276.4h.1M194.6 271.7h.1M206.6 280.5h.1M205.4 278.3h.1M190.5 265.9h.1M220.7 298h.1M217.2 289.6h.1M218.1 286.7h.1M221.2 303.2h.1M203.1 271.8h.1M203.6 280.3h.1M200 279.7h.1M204.4 278h.1M204.9 283.5h.1M190.7 267.3h.1M203.3 281h.1M188.3 263.5h.1M206.7 285.1h.1M201.1 283h.1M209.9 291.8h.1M207.2 292.8h.1M211.7 273.6h.1M196.2 268.7h.1M198.7 278.1h.1M207.1 281.8h.1M213.7 283.8h.1M199.5 274.9h.1M213.4 264.9h.1M198.2 270.8h.1M219.4 310.9h.1M201 280.8h.1M189.3 262.4h.1M213 300.9h.1M203 284.8h.1M227.5 305.6h.1M210.3 293.8h.1M224 292.3h.1M194.7 265.7h.1M200.4 278.5h.1M218.7 291.4h.1M192.6 270.4h.1M209.7 286.6h.1M204 284.8h.1M202.5 271.1h.1M194.3 272.2h.1M193.8 273h.1M207.8 293.6h.1M188.4 263h.1M202.2 270h.1M196.6 269.1h.1M216.6 296.2h.1M198.6 261.5h.1M198.9 277.6h.1M229.7 310.8h.1M200.2 281.4h.1M212.7 288.7h.1M207.4 285.5h.1M215.9 299.8h.1M213.5 288.9h.1M217.9 307.5h.1M197.4 278.1h.1M209.4 272.1h.1M204.5 282.1h.1M212.1 284.3h.1"/><path fill="#0000ff" d="M219.2 248.7 219.7 250.2 220.4 251.7 221.3 253.3 222.1 254.8 223 256.3 223.9 257.8 224.7 259.3 225.7 260.8 226.6 262.4 227.5 263.9 228.4 265.4 229.4 266.9 230.3 268.4 231.2 269.9 232.2 271.5 233.1 273 234.1 274.5 235 276 236.2 277.5 237.3 279 238.4 280.6 239.5 282.1 240.6 283.6 241.7 285.1 242.9 286.6 244 288.2 245.1 289.7 246.3 291.2 247.4 292.7 248.5 294.2 249.7 295.7 250.8 297.3 252 298.8 253.1 300.3 254.3 301.8 255.5 303.3 256.7 304.8 257.9 306.4 259.2 307.9 260.4 309.4 260.9 309.4 260.1 307.9 259.4 306.4 258.5 304.8 257.7 303.3 256.8 301.8 255.9 300.3 255 298.8 254.1 297.3 253.2 295.7 252.3 294.2 251.3 292.7 250.4 291.2 249.5 289.7 248.6 288.2 247.6 286.6 246.7 285.1 245.8 283.6 244.8 282.1 243.9 280.6 242.9 279 242 277.5 241 276 239.9 274.5 238.8 273 237.7 271.5 236.6 269.9 235.5 268.4 234.4 266.9 233.2 265.4 232.1 263.9 231 262.4 229.8 260.8 228.7 259.3 227.5 257.8 226.3 256.3 225.1 254.8 223.9 253.3 222.7 251.7 221.3 250.2 219.8 248.7Z"/><path stroke="#0000ff" class="pt" opacity=".85" d="M219.7 249.3h.1M243.1 279.5h.1M233 265.2h.1M259.7 308.1h.1M232.2 264.7h.1M234.9 273.8h.1M226 261.1h.1M222.9 265.3h.1M239.9 286.3h.1M231 261.3h.1M221.9 255.8h.1M224.5 258.9h.1M222.4 255.3h.1M237.5 277.8h.1M252.8 296.1h.1M244.6 277.8h.1M228.2 263.8h.1M231.4 280.2h.1M225.3 258.8h.1M253.1 290.9h.1M259.2 300.6h.1M236.6 275.9h.1M238.7 273.1h.1M228.1 259.6h.1M221.3 265.7h.1M252.8 294.2h.1M221.2 251.2h.1M232.8 260.3h.1M226 260.8h.1M239.8 280.4h.1M219.9 253.1h.1M228.7 256.7h.1M231.8 261.3h.1M251.3 292.9h.1M241.9 283.4h.1M257.7 305.7h.1M249.5 291h.1M255.2 301.2h.1M244.2 278.5h.1M220 251.1h.1M241 283.3h.1M249.1 292.5h.1M224.3 267.9h.1M235.8 275.6h.1M258.1 304.5h.1M239 277.1h.1M223.9 252.9h.1M231.6 272.8h.1M238 272.8h.1M257.2 293.8h.1M223.6 252.4h.1M244.5 284.9h.1M246 285.9h.1M248.3 282.5h.1M255.5 303.7h.1M230.8 261.2h.1M250.3 287.5h.1M222.9 255.7h.1M229.5 256.7h.1M229.5 264.7h.1M241.5 279.9h.1M258.2 287.4h.1M244.5 277.3h.1M252.8 289.3h.1M233.2 271.6h.1M228.5 266.2h.1M256.3 304.3h.1M236.6 272.2h.1M237.7 278.1h.1M242.9 282.3h.1M255.7 301.9h.1M241.3 279h.1M246.9 288.5h.1M234.3 260.6h.1M259.3 306.5h.1M257.1 299.6h.1M241.1 278.2h.1M246.9 278.2h.1M249.4 287.2h.1M237.5 273.3h.1M242.5 280.3h.1M238.9 274.4h.1M240.2 269.9h.1M258.1 306.6h.1M258.4 305h.1M240.2 284.4h.1M255.3 295.6h.1M246.6 288.8h.1M228.3 259.9h.1M232.8 266.8h.1M223 254.5h.1M256.2 298.2h.1M245.8 283.6h.1M236.8 279.9h.1M258.8 302h.1M240.8 267.1h.1M227.5 266.6h.1M239.4 279.6h.1M245.9 279.9h.1M259 305.1h.1M245.5 283h.1M240.2 272.3h.1M220.5 248.8h.1M254.6 298.2h.1M246.2 285.2h.1M247 291.8h.1M235.9 275.4h.1M243.1 287.8h.1M232.6 265.8h.1M231.4 272.4h.1M252.1 294.4h.1M249.4 291.4h.1M242.5 285.5h.1M247.9 292.6h.1M258.3 302.4h.1M239.3 281h.1M242.1 279.2h.1M234.5 268.9h.1M253.5 292.7h.1M234.6 275.9h.1M233.2 273.1h.1M240.8 283.5h.1M227.3 260.3h.1M223.7 252.9h.1M230.2 268.3h.1M241.9 274.8h.1M231.8 265.3h.1M237.7 283.4h.1M242.9 275.9h.1M227.8 262.3h.1M234.6 280.7h.1M231.4 257.1h.1M231.2 263.2h.1M226.7 260.5h.1M256.2 299.2h.1M233.2 272.9h.1M251.5 301.6h.1M224.6 255h.1M229.1 261.1h.1M222.6 252h.1M242.6 274.9h.1M227.4 265.3h.1M244.6 285.5h.1M258.3 304.2h.1M239.9 281.1h.1M240.3 276.3h.1M223.5 253.3h.1M229.7 267.5h.1M234.8 273.1h.1M246.2 280.3h.1M225.5 261h.1M234.2 274.9h.1M230.9 259.6h.1M233.4 273.3h.1M236.5 273.3h.1M220.7 250.6h.1M228.6 258.6h.1M240.8 270.8h.1M229.6 270.3h.1M248.9 296.3h.1M240.3 274h.1M255.7 300.4h.1M240.1 286.1h.1M224.2 257.4h.1M222.4 257.6h.1M254.3 300.1h.1M241.2 281.9h.1M237.4 265.4h.1M232.1 272h.1M262.1 309.8h.1M236 276.8h.1M224.4 255.5h.1M234.3 269.8h.1M230.3 266.3h.1M247.2 281.8h.1M251.9 294.3h.1M257.4 302.9h.1M235.1 278.7h.1M243.9 274.7h.1M253 298.3h.1M255.4 297.8h.1M234.2 269.2h.1M225.8 255.3h.1M234.1 268.2h.1M231 264.9h.1M223.8 255.5h.1M242.2 284.1h.1M242.9 280.4h.1M255.4 300.9h.1M241.4 272.4h.1M243.1 270.7h.1M247.3 284.2h.1M251.9 285.6h.1M256.2 301h.1M233.3 263.4h.1M239.2 278.1h.1M233.8 280.7h.1M239.6 276.9h.1M254.5 298.2h.1M238 266.5h.1M233.6 264.8h.1M240.6 284.8h.1M222.5 254.7h.1M242.9 287.7h.1M254.4 296.2h.1M223 257.2h.1M247.2 293.2h.1M253.2 301.9h.1M247.3 289.1h.1M238.4 270.6h.1M223.8 252.7h.1M247.4 295.8h.1M258.9 302.5h.1M236.3 275.6h.1M236.2 266.1h.1M249.8 294h.1M250.6 291.8h.1M219 249.2h.1M228.4 257.8h.1M239.9 272.1h.1M243.5 285.9h.1M230.8 269.6h.1M245.6 285.4h.1M247.6 286.6h.1M244 287h.1M246.1 287.5h.1M239.8 279.9h.1M239.1 281.2h.1M222.2 249.8h.1M257.9 300.1h.1M229.7 275.6h.1M245.9 287.4h.1M242.7 269.9h.1M251 292.6h.1M244.8 287.8h.1M224.6 251.5h.1M261.5 306.8h.1M227.3 251.7h.1M237.1 265.6h.1M237.6 277.9h.1M258.1 296h.1M250.6 292.1h.1M229 265h.1M250.2 288.6h.1M239.7 279.7h.1M238.4 266.8h.1M240.4 284.6h.1M237.3 271.3h.1M252.7 295.9h.1M237.8 265h.1M234.8 267.7h.1M235 276.6h.1M231.5 268.3h.1M249.4 291h.1M235.9 261.3h.1M255.3 299.8h.1M242.4 281.2h.1M243.9 279.8h.1M229.2 276.7h.1M235 271h.1M246.2 282.2h.1M234.7 279.2h.1M234.3 274.9h.1M239.9 284.6h.1M244.3 282.1h.1M253.8 298.5h.1M224.7 252.8h.1M233.7 266.7h.1M247.5 275.5h.1M241.9 281.6h.1M243.7 276.4h.1M229.1 268.6h.1M251.2 299.4h.1M252.5 293.6h.1M222.2 252.1h.1M237.2 273.7h.1M239.5 285.5h.1M258 301.3h.1M231.2 271.8h.1M222.1 250.2h.1M235.5 266.3h.1M247.5 279.8h.1M247.3 287.9h.1M222.7 254.4h.1M252.2 289.2h.1M227.2 268.8h.1M240.3 285.1h.1M252.3 290h.1M247.5 290.2h.1M226.8 265.2h.1M233 263.1h.1M241.7 281.9h.1M240.5 280.2h.1M241.2 274.4h.1M257.1 302.3h.1M242.2 281.3h.1M250.3 290.4h.1M234.1 271.8h.1M229.1 270.4h.1M244.2 282.2h.1M250.3 283h.1M249.5 292.7h.1M235.3 275.8h.1M255.9 300.7h.1M220 256.5h.1M231.9 262.8h.1M256.7 299h.1M254.7 292.2h.1M237.4 274.7h.1M237.1 283.4h.1M247.4 289.7h.1M240.8 280.9h.1M239.2 277.2h.1M236.5 275.6h.1M257.2 306.9h.1M249.8 291.9h.1M249.2 290.6h.1M236.5 265.6h.1M247.8 291h.1M238 280.4h.1M245.1 278.8h.1M243.5 287.2h.1M229.5 271.8h.1M228.2 254.2h.1M237.6 267h.1M261 309.3h.1M233.7 273.8h.1M259.6 307.7h.1M247.8 292.1h.1M232.1 280.5h.1M243.9 288.3h.1M251.1 291.7h.1M250.4 296.4h.1M238 268.7h.1M230.1 269.4h.1M235.6 270.1h.1M227.2 264.8h.1M239.2 269.9h.1M238.1 272.7h.1M226.4 259.3h.1M241.2 275h.1M256.6 304.1h.1M224.6 255.8h.1M222.3 256.4h.1M244.9 283.3h.1M240.4 291.4h.1M231.5 268.7h.1M262 304.7h.1M249.2 287.3h.1M232.2 268.1h.1M231.7 263.9h.1M228.2 264.8h.1M250.1 287.8h.1M230.1 262h.1M242 275.6h.1M227.2 256.7h.1M236.4 272.8h.1M220.3 249.2h.1M225.1 261.5h.1M226.1 255.3h.1M252.1 290h.1M220.8 253.3h.1M245.2 276.5h.1M255.3 302.2h.1M220.9 254.1h.1M255.5 298.1h.1M242.2 281h.1M261 307.7h.1M256.7 300.1h.1M237.2 267.7h.1M228.9 264.3h.1M247.2 283.8h.1M230.9 269.5h.1M257.6 305.8h.1M226.2 261.1h.1M230.8 257.5h.1M234.8 282.4h.1M226.7 256.6h.1M227.7 264.3h.1M237.5 270.1h.1M236.8 267.1h.1M247.1 285.4h.1M229.5 263.4h.1M236.7 265.2h.1M225 250.5h.1M235.1 266h.1M249.9 299.4h.1M257.6 301h.1M253.4 300.4h.1M232.7 264.1h.1M259.8 306.5h.1M238.9 272.7h.1M248.9 289.5h.1M256.7 298.2h.1M243.3 289.1h.1M228 260.6h.1M237.4 268.4h.1M258.8 303.5h.1M240 277.6h.1M240.6 278.7h.1M241.2 283.9h.1M235 276.6h.1M243.3 286.6h.1M220.4 250h.1M230.6 259.6h.1M224.7 257.9h.1M228.9 265.9h.1M242 276.2h.1M244.7 280h.1M259.1 307.5h.1M232.6 260.2h.1M238.5 281.5h.1M232.2 267.4h.1M253.1 293.9h.1M235.3 271.4h.1M233.8 269.6h.1M258.7 307.5h.1M222 250.6h.1M233.5 273.8h.1M237.2 270.7h.1M253.1 292h.1M233 259.8h.1M233.7 273.4h.1M232.5 270.1h.1M238.6 281h.1M245.1 292h.1M225.8 262.2h.1M235.4 269.5h.1M229.2 270.7h.1M238.6 271.7h.1M243.1 278h.1M243.1 281.3h.1M221.2 260.8h.1M237.7 263.7h.1M242.4 280.3h.1M251.9 299.1h.1M250.6 295.7h.1M230.6 261.6h.1M225.5 255.7h.1M236.1 283.8h.1M250.6 282.2h.1M248 281.4h.1M228.9 265h.1M235.6 275.2h.1M231.7 261.7h.1M249.7 293.2h.1M224.7 259.4h.1M243 279.6h.1M251 289.8h.1M225.4 262h.1M251 291.2h.1M222.3 261.8h.1M225.4 256.4h.1M238.4 277.3h.1M232.4 270.7h.1M225.7 261.5h.1M231 262.8h.1M224.1 256.9h.1M250.3 296.1h.1M224.5 257.8h.1M243.7 278.9h.1M252.7 297.2h.1M243.1 280.8h.1M230.8 263.7h.1M253.2 297.4h.1M223.7 254.6h.1M250.3 290.4h.1M220.4 253.8h.1M237.9 266.3h.1M259.5 306.6h.1M235.5 271.2h.1M230.5 266.4h.1M250.5 291.6h.1M229.5 259.7h.1M222.7 249.7h.1M234.8 269.5h.1M235.2 268.7h.1M233.9 273.6h.1M247.5 284.7h.1M241.2 274.1h.1M247.9 295.5h.1M242.7 284.9h.1M234 274.6h.1M230.3 267.5h.1M246.6 288h.1M233.4 273.3h.1M236 266.4h.1M227.1 256.4h.1M256.1 302.4h.1M253.6 290.5h.1M253.3 295.4h.1M259.4 306.5h.1M232.7 266.8h.1M243.7 283h.1M235.6 266.3h.1M250.1 293.5h.1M219.4 251.8h.1M228.3 258.4h.1M238.5 275.6h.1M253.9 301.1h.1M257.2 303.2h.1M252.8 300.2h.1M237.8 280.3h.1M232.6 268.6h.1M237 268.1h.1M234.7 280.4h.1M245.6 283.7h.1M254.4 299.7h.1M257.6 303.2h.1M250.5 286.7h.1M246.4 290h.1M229.7 268.3h.1M240.1 285.9h.1M228.8 275.7h.1M239.4 268.7h.1M234.2 262.9h.1M247.4 296h.1M247.5 283.8h.1M229.7 267.3h.1M222.6 251.1h.1M231.6 264.2h.1M236.4 270h.1M260.6 305.7h.1M248.8 294.5h.1M236.5 280.5h.1M250.1 292.4h.1M230 271.7h.1M249.1 289h.1M233.8 276h.1M241.7 276h.1M255.2 293h.1M232.3 266.9h.1M234.1 266.7h.1M256.6 299.4h.1M228.5 265.4h.1M225.4 260.6h.1M257 299.2h.1M252.5 297h.1M221.5 254.1h.1M244.5 286.3h.1M244.5 287.2h.1M245 290.2h.1M224.8 257.9h.1M220.5 252.8h.1M248.3 289.9h.1M237.9 273.4h.1M248.6 289.2h.1M259.8 307h.1M261.7 309.3h.1M245.8 290.7h.1M243.6 275.7h.1M230.3 271.9h.1M246.8 284.1h.1M241.3 281.1h.1M246.1 284.7h.1M232.2 264.4h.1M221.7 250.4h.1M249.3 293.2h.1M241.3 274.8h.1M239.2 285.4h.1M259.7 302.9h.1M256.1 303.1h.1M228.5 263.7h.1M249.9 301h.1M228.4 255.2h.1M222.2 252.5h.1M234.7 271.3h.1M230.2 263.1h.1M227 259.5h.1M244.2 284.3h.1M227.8 264.3h.1M237.6 269.1h.1M228.4 265.1h.1M234.2 263.6h.1M259.4 302.5h.1M249.3 296.2h.1M221.8 255.3h.1M224.6 261.8h.1M255.6 301.8h.1M220.7 251.1h.1M244 276.6h.1M228.4 263.4h.1M235.9 275.3h.1M227.7 260.1h.1M242.6 284.3h.1M236.1 268.4h.1M245.6 293.7h.1M226.5 261.4h.1M229.5 261.7h.1M226 257.1h.1M228.1 260.1h.1M244.8 287.6h.1M243.5 283.7h.1M258 305.8h.1M236.1 282.8h.1M227.3 268.1h.1M253.8 302.1h.1M237.9 277.4h.1M231.5 262.9h.1M234.6 271.8h.1M225.3 263.1h.1M242.3 287.7h.1M224.2 252.1h.1M229 268.7h.1M242 286.5h.1M237.6 279.4h.1M236.8 269.2h.1M219.8 253.4h.1M232.1 261.5h.1M238.1 268.9h.1M221 250.3h.1M228.7 265.9h.1M243.7 272.4h.1M251.3 292.2h.1M261.3 308.6h.1M249.6 291.1h.1M251.5 287.4h.1M234.6 272.2h.1M249.8 290.6h.1M223.1 254.2h.1M225.8 252.9h.1M249.4 291.7h.1M238.4 270h.1M239 284.7h.1M235.8 279.9h.1M226 260.3h.1M238.3 279.8h.1M252 297.1h.1M244.2 287.2h.1M258.9 304.6h.1M222.3 254h.1M257.2 302.8h.1M222.9 261.1h.1M257.2 304.3h.1M246 283.3h.1M228.4 263.1h.1M236.1 273.9h.1M237.6 277.5h.1M235.9 272.4h.1M245.8 283.7h.1M223.5 252.5h.1M220.8 256.9h.1M252.9 297.4h.1M261.2 306.8h.1M224.2 265h.1M238.8 277.4h.1M244.5 278.1h.1M251.1 292.2h.1M242.4 286.2h.1M236 271.8h.1M239 295.8h.1M266.7 299.8h.1M225.7 285.8h.1M249.9 278.2h.1M255.5 288.1h.1M262.8 300.6h.1M237.6 266h.1M232.4 280.6h.1M250.1 287.2h.1M228.1 279.3h.1M227.2 262h.1M252.4 290.3h.1M241 272.1h.1M257 300.2h.1M241 265.7h.1M225 262.6h.1M246.2 288.2h.1M245.5 286.8h.1M243.3 280.4h.1M246.6 292.7h.1M240.3 276.5h.1M229.7 261.3h.1M259.8 280.5h.1M226.6 268.5h.1M240.6 280.1h.1M230.9 268.6h.1M246.4 272.9h.1M258.5 302.4h.1M255.4 299.4h.1M249.7 295.7h.1M254.3 290.9h.1M254.4 283.2h.1M258.3 284.7h.1M213.5 275.6h.1M243 282.2h.1M229.5 262.1h.1M235.6 276.3h.1M268.9 288.4h.1M249.3 282h.1M229.8 261.1h.1M225 284.3h.1M235.2 279h.1M231.5 278.7h.1M229.6 259.4h.1M232.1 267.9h.1M232.4 261.4h.1M249.6 287.2h.1M238.1 274.1h.1M229.5 261.7h.1M233.6 278.3h.1M236.5 277.4h.1M245.8 260.4h.1M231.1 266.8h.1M248 279.6h.1M245.1 282.4h.1M235.8 272.6h.1M241.4 265.9h.1M251.3 300.1h.1M247.9 264.4h.1M239.3 282.3h.1M243.1 292.3h.1M241.9 265.5h.1M237.2 268.7h.1M252.4 295.4h.1M245.3 280h.1M223.4 255.1h.1M235.3 269.2h.1M241.7 278h.1M237 273.3h.1M245 281.4h.1M248.7 290.3h.1M236.1 270.6h.1M230.1 270.7h.1M270.5 290.9h.1M219.2 266.1h.1M261.1 297.9h.1M238.5 278.3h.1M252.1 293h.1M232.7 269.6h.1M242.6 281.3h.1M241.4 273.7h.1M245.9 285.2h.1M239.5 284.7h.1M222 266.3h.1M253.4 296.5h.1M247.9 287.2h.1M233.9 277.5h.1M248.9 290.7h.1M247.5 286.3h.1M236.6 279.1h.1M231.6 268.6h.1M252 291.9h.1M225.9 266h.1M229.1 261.2h.1M233.4 283h.1M254.3 282.2h.1M224.7 257.8h.1M248.7 294.7h.1M251.9 290.8h.1M245.6 288h.1M241.3 290.5h.1M242.3 280.2h.1M254.5 293.4h.1M252 298.8h.1M223.9 269.7h.1M218.9 270.7h.1M219.2 274.6h.1M246.8 284.8h.1M246.3 280.3h.1M225.4 265.5h.1M250.5 297.4h.1M236.7 285.3h.1M239.9 264.4h.1M241.4 284.8h.1M253.7 300.2h.1M231 268.9h.1M237.5 282.6h.1M225.4 258.2h.1M241.6 268h.1M230.6 263h.1M227.7 257h.1M235.9 266.4h.1M239.9 279.8h.1M237.9 270.1h.1M242.1 272.8h.1M244.1 265.4h.1M251.1 293.9h.1M248.7 290.1h.1M239 271.5h.1M239.6 275.7h.1M231.4 279.4h.1M252.1 288.8h.1M233.2 263.3h.1M223.5 276.3h.1M256.8 287h.1M245.1 287.2h.1M246.1 282.4h.1M245.4 286h.1M245 286.7h.1M234.5 276.8h.1M236.1 279.1h.1M243.5 295.8h.1M237.1 288.2h.1M237 268.7h.1M244.9 290.5h.1M223 263.7h.1M237.2 269.3h.1M273.3 295.9h.1M250.6 289.4h.1M234.8 290.2h.1M231.1 265h.1M258.1 290.5h.1M242.4 282.1h.1M237.9 269.3h.1M233.9 272.5h.1M242.4 289.9h.1M223.6 258.2h.1M248.2 287.7h.1M233.9 268.9h.1M257.3 281.2h.1M255.3 302.3h.1M259 289.4h.1M224 255.3h.1M251.2 293.3h.1M240.6 272.6h.1M233.1 289h.1M240.9 296.9h.1M247 281.4h.1M242.1 283.2h.1M265.4 301.2h.1M234.5 275.6h.1M251.4 296.9h.1M235.9 269.2h.1M236.2 260.9h.1M222.1 266.8h.1M247.1 287.2h.1M237.6 282.3h.1M228.4 261.8h.1M221.3 262.6h.1M234.4 272.1h.1"/><text transform="translate(132.3 308.2) scale(.84 1)" text-anchor="end">0</text><text transform="translate(132.3 283.8) scale(.84 1)" text-anchor="end">128</text><text transform="translate(132.3 259.4) scale(.84 1)" text-anchor="end">256</text><text transform="translate(186.7 341.7) scale(.84 1)" text-anchor="end">0</text><text transform="translate(163.5 330.1) scale(.84 1)" text-anchor="end">128</text><text transform="translate(140.3 318.6) scale(.84 1)" text-anchor="end">256</text><text transform="translate(194.4 341.8) scale(.84 1)">H</text><text transform="translate(229.9 331.9) scale(.84 1)">V</text><text transform="translate(266 321.9) scale(.84 1)">D</text><line class="g" x1="502" y1="322.4" x2="447.6" y2="295.2"/><line class="g" x1="442.5" y1="320.7" x2="515.1" y2="300.8"/><line class="g" x1="419.3" y1="309.2" x2="491.9" y2="289.3"/><line class="g" x1="411.3" y1="305.2" x2="483.9" y2="285.3"/><line class="g" x1="483.9" y1="285.3" x2="538.3" y2="312.4"/><line class="g" x1="411.3" y1="280.8" x2="483.9" y2="260.9"/><line class="g" x1="411.3" y1="256.4" x2="483.9" y2="236.5"/><line class="g" x1="447.6" y1="295.2" x2="447.6" y2="238.1"/><line class="g" x1="483.9" y1="285.3" x2="483.9" y2="228.1"/><line class="g" x1="538.3" y1="288" x2="483.9" y2="260.9"/><line class="g" x1="538.3" y1="263.6" x2="483.9" y2="236.5"/><line class="g" x1="538.3" y1="312.4" x2="538.3" y2="255.2"/><line class="g" x1="515.1" y1="300.8" x2="515.1" y2="243.6"/><line class="g" x1="491.9" y1="289.3" x2="491.9" y2="232.1"/><line class="a" x1="411.3" y1="305.2" x2="465.7" y2="332.3"/><line class="a" x1="465.7" y1="332.3" x2="538.3" y2="312.4"/><line class="a2" x1="411.3" y1="305.2" x2="411.3" y2="248"/><line class="t" x1="409.3" y1="305.2" x2="411" y2="305.2"/><line class="t" x1="409.3" y1="280.8" x2="411" y2="280.8"/><line class="t" x1="409.3" y1="256.4" x2="411" y2="256.4"/><polygon points="538.3,312.4 492.1,289.4 492.1,241.7 538.3,264.7" fill="#0000ff" opacity=".88" filter="url(#dn8)"/><polygon points="502,322.4 455.8,299.3 455.8,251.7 502,274.7" fill="#00ff00" opacity=".88" filter="url(#dn7)"/><polygon points="465.7,332.3 419.5,309.3 419.5,261.6 465.7,284.6" fill="#ff00ff" opacity=".88" filter="url(#dn6)"/><text transform="translate(407.3 308.2) scale(.84 1)" text-anchor="end">0</text><text transform="translate(407.3 283.8) scale(.84 1)" text-anchor="end">128</text><text transform="translate(407.3 259.4) scale(.84 1)" text-anchor="end">256</text><text transform="translate(461.7 341.7) scale(.84 1)" text-anchor="end">0</text><text transform="translate(438.5 330.1) scale(.84 1)" text-anchor="end">128</text><text transform="translate(415.3 318.6) scale(.84 1)" text-anchor="end">256</text><text transform="translate(469.4 341.8) scale(.84 1)">H</text><text transform="translate(504.9 331.9) scale(.84 1)">V</text><text transform="translate(541 321.9) scale(.84 1)">D</text><g transform="translate(4 4)" clip-path="url(#cp1)">
<defs>
<clipPath id="cp1"><rect x="-1" y="-.5" width="109" height="108.5"/></clipPath>
<linearGradient id="wall1" x1="0" y1="0" x2=".5" y2="1"><stop offset="0" stop-color="#cccccc"/><stop offset=".55" stop-color="#dcdcdc"/><stop offset="1" stop-color="#e0e0e0"/></linearGradient>
<linearGradient id="tab1" x1="0" y1="0" x2="0" y2="1"><stop offset="0" stop-color="#cacaca"/><stop offset="1" stop-color="#d6d6d6"/></linearGradient>
<linearGradient id="refb" x1="0" y1="0" x2="0" y2="1"><stop offset="0" stop-color="#6e6e6e"/><stop offset=".5" stop-color="#9c9c9c"/><stop offset="1" stop-color="#c4c4c4"/></linearGradient>
<linearGradient id="reff" x1="0" y1="0" x2="0" y2="1"><stop offset="0" stop-color="#8a8a8a"/><stop offset=".7" stop-color="#afafaf"/><stop offset="1" stop-color="#c4c4c4"/></linearGradient>
<linearGradient id="body1" x1="0" y1="0" x2="1" y2="0"><stop offset="0" stop-color="#b0b0b0"/><stop offset=".25" stop-color="#d8d8d8"/><stop offset=".6" stop-color="#bcbcbc"/><stop offset="1" stop-color="#8a8a8a"/></linearGradient>
<linearGradient id="bell1" x1="0" y1="0" x2="0" y2="1"><stop offset="0" stop-color="#c4c4c4"/><stop offset="1" stop-color="#7c7c7c"/></linearGradient>
<linearGradient id="fade1" x1="0" y1="0" x2="0" y2="1"><stop offset="0" stop-color="#d0d0d0" stop-opacity=".15"/><stop offset=".6" stop-color="#d0d0d0" stop-opacity=".55"/><stop offset="1" stop-color="#d4d4d4" stop-opacity=".85"/></linearGradient>
<filter id="bl1" x="-5%" y="-5%" width="110%" height="110%"><feGaussianBlur stdDeviation=".45"/></filter>
</defs>
<g filter="url(#bl1)">
<rect x="-1" y="-.5" width="109" height="89.5" fill="url(#wall1)"/>
<rect x="-1" y="88.5" width="109" height="20" fill="url(#tab1)"/>
<rect x="-1" y="-.5" width="2" height="109" fill="#d6d6d6"/>
<rect x="1" y="-.5" width=".9" height="109" fill="#9a9a9a"/>
<rect x="107" y="-.5" width="1" height="109" fill="#cfcfcf"/>
<!-- frames -->
<rect x="5.6" y="67.6" width="15" height="21.2" fill="#555"/>
<rect x="6.6" y="68.6" width="13" height="19.2" fill="#a4a4a4"/>
<rect x="7" y="69" width="5" height="6" fill="#c8c8c8"/>
<rect x="13" y="69" width="6" height="4" fill="#bcbcbc"/>
<path d="M9.5 73 l2.5 -1 2 1.5 .5 4 2 2 -.5 6 -6 0 -1 -5z" fill="#4e4e4e"/>
<path d="M14.5 71 l2.5 0 1 3 -1 4 -2 0z" fill="#6a6a6a"/>
<rect x="7" y="80" width="3" height="7" fill="#d0d0d0"/>
<rect x="21.4" y="67.6" width="16.6" height="21.2" fill="#626262"/>
<rect x="22.4" y="68.6" width="14.6" height="19.2" fill="#cecece"/>
<ellipse cx="30.8" cy="71.2" rx="1.4" ry="1.6" fill="#6a6a6a"/>
<path d="M29.2 73.2 l3.4 0 1.4 5 2.2 4 -5.5 1.5 -5 -1 2.5 -4z" fill="#ececec"/>
<path d="M24 82.5 l7 -1 5.5 1.5 0 3.5 -12.5 0z" fill="#a0a0a0"/>
<!-- reflections under frames -->
<g transform="translate(0 177.8) scale(1 -1)" opacity=".75">
<rect x="5.6" y="67.6" width="15" height="21.2" fill="#555"/>
<rect x="6.6" y="68.6" width="13" height="19.2" fill="#a4a4a4"/>
<rect x="7" y="69" width="5" height="6" fill="#c8c8c8"/>
<rect x="13" y="69" width="6" height="4" fill="#bcbcbc"/>
<path d="M9.5 73 l2.5 -1 2 1.5 .5 4 2 2 -.5 6 -6 0 -1 -5z" fill="#4e4e4e"/>
<path d="M14.5 71 l2.5 0 1 3 -1 4 -2 0z" fill="#6a6a6a"/>
<rect x="7" y="80" width="3" height="7" fill="#d0d0d0"/>
<rect x="21.4" y="67.6" width="16.6" height="21.2" fill="#626262"/>
<rect x="22.4" y="68.6" width="14.6" height="19.2" fill="#cecece"/>
<ellipse cx="30.8" cy="71.2" rx="1.4" ry="1.6" fill="#6a6a6a"/>
<path d="M29.2 73.2 l3.4 0 1.4 5 2.2 4 -5.5 1.5 -5 -1 2.5 -4z" fill="#ececec"/>
<path d="M24 82.5 l7 -1 5.5 1.5 0 3.5 -12.5 0z" fill="#a0a0a0"/>
</g>
<rect x="5" y="88.9" width="34" height="19.1" fill="url(#fade1)"/>
<!-- book -->
<path d="M58 76.2 L89 75.7 L108 74.1 L108 90.8 L89 90.6 L58 89.2Z" fill="#4c4c4c"/>
<path d="M89 75.7 L108 74.1 L108 90.8 L89 90.6Z" fill="#7e7e7e"/>
<rect x="89" y="75.7" width="1.4" height="15" fill="#5a5a5a"/>
<path d="M89 89 L108 89.2 L108 90.9 L89 90.6Z" fill="#4e4e4e"/>
<rect x="77.5" y="76" width="4" height="13.3" fill="#636363"/>
<rect x="62" y="76.2" width="1.2" height="13" fill="#3a3a3a"/>
<rect x="68" y="76.1" width="1" height="13.2" fill="#383838"/>
<rect x="72" y="76" width="1" height="13.3" fill="#5c5c5c"/>
<rect x="85" y="75.9" width="1" height="13.5" fill="#3a3a3a"/>
<rect x="58" y="89.2" width="50" height="18.8" fill="url(#refb)"/>
<rect x="89" y="90" width="19" height="18" fill="#9a9a9a" opacity=".45"/>
<rect x="77" y="89.5" width="4" height="14" fill="#777" opacity=".5"/>
<!-- handle -->
<path d="M66 36 C65.5 29 68 26.5 73 26.3 C78.5 26.2 82.5 27.5 83.8 35" fill="none" stroke="#555" stroke-width="1.6"/>
<path d="M66.8 35 C66.5 29.6 68.6 27.4 73 27.2 C78 27.1 81.6 28.3 82.8 34.5" fill="none" stroke="#bdbdbd" stroke-width=".5"/>
<!-- body -->
<ellipse cx="75" cy="57" rx="18.6" ry="16.3" fill="#8a8a8a"/>
<ellipse cx="75.3" cy="57" rx="17.9" ry="15.7" fill="url(#body1)"/>
<!-- bells -->
<path d="M56.5 44.5 C56.5 38 62 33.5 69 33.5 C74 33.5 77 36 76.5 38.5 C71 42 63 45 56.5 44.5Z" fill="url(#bell1)"/>
<path d="M58 42.5 C60 38 64 35.5 69 35.2" fill="none" stroke="#dadada" stroke-width=".8"/>
<path d="M77 37 C80 34.5 86 34.5 89.5 37.5 C92 40 93 43 92.5 46 C88 42 83 39.5 77 37Z" fill="#7a7a7a"/>
<path d="M78 37 C81 35.5 85 35.7 87.5 37.5 C84 38 81 38 78 37Z" fill="#bcbcbc"/>
<ellipse cx="80" cy="55.8" rx="15.4" ry="16" fill="#555"/>
<ellipse cx="80" cy="55.8" rx="14.8" ry="15.4" fill="#d2d2d2"/>
<ellipse cx="79.8" cy="55.6" rx="12.9" ry="13.4" fill="#9a9a9a"/>
<ellipse cx="79.6" cy="55.4" rx="12.3" ry="12.7" fill="#1e1e1e"/>
<!-- numerals -->
<g><text class="nm" x="83.7" y="49.7">1</text><text class="nm" x="86.8" y="52.9">2</text><text class="nm" x="87.9" y="57.4">3</text><text class="nm" x="86.8" y="61.8">4</text><text class="nm" x="83.7" y="65.1">5</text><text class="nm" x="79.5" y="66.3">6</text><text class="nm" x="75.3" y="65.1">7</text><text class="nm" x="72.2" y="61.9">8</text><text class="nm" x="71.1" y="57.4">9</text><text class="nm" x="72.2" y="52.9">10</text><text class="nm" x="75.3" y="49.7">11</text><text class="nm" x="79.5" y="48.5">12</text></g>
<!-- hands -->
<path d="M79.3 55.2 L90.5 56" stroke="#e4e4e4" stroke-width="1"/>
<path d="M79.3 55.2 L85.5 64.5" stroke="#dcdcdc" stroke-width="1"/>
<path d="M79.5 55.4 L76.5 48.5" stroke="#999" stroke-width=".6"/>
<!-- legs -->
<path d="M71.5 70 L69.7 75.8" stroke="#3e3e3e" stroke-width="1.2"/>
<path d="M88 69.5 L92 75" stroke="#3e3e3e" stroke-width="1.2"/>
</g>
</g>
<g transform="translate(4 119.5)" clip-path="url(#cp2)">
<defs>
<clipPath id="cp2"><rect x="-1" y="-.1" width="109" height="108.45"/></clipPath>
<filter id="bl2" x="-5%" y="-5%" width="110%" height="110%"><feGaussianBlur stdDeviation=".35"/></filter>
<filter id="tx2" x="0" y="0" width="1" height="1"><feTurbulence type="fractalNoise" baseFrequency="0.55" numOctaves="2" seed="21"/><feColorMatrix type="matrix" values="0 0 0 0 0  0 0 0 0 0  0 0 0 0 0  -2.4 0 0 0 1.25"/></filter>
<filter id="tx2w" x="0" y="0" width="1" height="1"><feTurbulence type="fractalNoise" baseFrequency="0.5" numOctaves="2" seed="25"/><feColorMatrix type="matrix" values="0 0 0 0 1  0 0 0 0 1  0 0 0 0 1  2.4 0 0 0 -1.15"/></filter>
<filter id="tx2b" x="0" y="0" width="1" height="1"><feTurbulence type="fractalNoise" baseFrequency="0.5" numOctaves="2" seed="22"/><feColorMatrix type="matrix" values="0 0 0 0 0  0 0 0 0 0  0 0 0 0 0  -3.2 0 0 0 1.85"/><feComposite in2="SourceAlpha" operator="in"/></filter>
</defs>
<g filter="url(#bl2)">
<rect x="-1" y="-1" width="110" height="110" fill="#c8c8c8"/>
<!-- areas -->
<path d="M0 44 L6 40 L14 50 L24 56 L36 64 L30 72 L18 80 L0 84Z" fill="#dadada"/>
<path d="M26 42 L46 38 L88 44 L88 64 L72 64 L50 60 L34 56Z" fill="#bfbfbf"/>
<path d="M54 54 L88 55 L88 66 L54 64Z" fill="#bababa"/>
<path d="M0 84 L20 82 L34 76 L44 84 L30 96 L20 108 L0 108Z" fill="#b2b2b2"/>
<path d="M30 90 L50 80 L58 84 L56 108 L22 108Z" fill="#acacac"/>
<path d="M56 101 L81 91.5 L108 82 L108 108 L54 108Z" fill="#a6a6a6"/>
<path d="M80 80 L108 75 L108 84 L82 90Z" fill="#d2d2d2"/>
<path d="M95 0 L108 0 L108 26 L96 26Z" fill="#b0b0b0"/>
<path d="M96 52 L108 52 L108 70 L95 70Z" fill="#c0c0c0"/>
<ellipse cx="79.6" cy="15" rx="7.5" ry="8" fill="#d6d6d6" stroke="#8a8a8a" stroke-width=".6"/>
<!-- trees -->
<g fill="#6a6a6a">
<ellipse cx="9" cy="6.5" rx="2.2" ry="2.2"/><ellipse cx="15" cy="6.5" rx="2" ry="2.2"/><ellipse cx="20" cy="5.5" rx="2" ry="2"/><ellipse cx="24.5" cy="4.8" rx="1.8" ry="1.8"/><ellipse cx="29.6" cy="5.5" rx="1.8" ry="1.8"/>
<ellipse cx="34" cy="4" rx="1.6" ry="1.6"/><ellipse cx="3" cy="4" rx="2.4" ry="2.6"/>
</g>
<ellipse cx="8.4" cy="19.4" rx="3.3" ry="4" fill="#454545"/>
<ellipse cx="100" cy="7" rx="4.5" ry="5" fill="#6e6e6e"/>
<ellipse cx="96" cy="16" rx="2" ry="3" fill="#7a7a7a"/>
<!-- roads -->
<g fill="none" stroke-linecap="round" stroke-linejoin="round">
<g stroke="#8e8e8e" stroke-width="5.6">
<path d="M6 36 C14 28 24 22 38 17 C56 11 74 6 90 2.5 L108 0"/>
<path d="M0 9 C4 18 8 28 12 34 C20 46 30 56 44 62 C58 67 74 68 90 69 L108 71"/>
<path d="M93 0 C93 20 92 45 90 68 C84 80 72 95 58 108"/>
</g>
<g stroke="#dcdcdc" stroke-width="4">
<path d="M6 36 C14 28 24 22 38 17 C56 11 74 6 90 2.5 L108 0"/>
<path d="M0 9 C4 18 8 28 12 34 C20 46 30 56 44 62 C58 67 74 68 90 69 L108 71"/>
<path d="M93 0 C93 20 92 45 90 68 C84 80 72 95 58 108"/>
</g>
<g stroke="#a8a8a8" stroke-width=".6">
<path d="M6 36 C14 28 24 22 38 17 C56 11 74 6 90 2.5 L108 0"/>
<path d="M0 9 C4 18 8 28 12 34 C20 46 30 56 44 62 C58 67 74 68 90 69 L108 71"/>
<path d="M93 0 C93 20 92 45 90 68 C84 80 72 95 58 108"/>
</g>
<path d="M12 34 C16 42 20 48 24 54" stroke="#d6d6d6" stroke-width="2.4"/>
<path d="M20 108 C30 96 40 86 50 80 L60 78" stroke="#d4d4d4" stroke-width="1.8"/>
<path d="M0 88 L22 84 L34 76" stroke="#cfcfcf" stroke-width="1.4"/>
</g>
<g><circle cx="57.5" cy="59.5" r="0.8" fill="#8c8c8c"/><circle cx="51.7" cy="52.2" r="0.9" fill="#8c8c8c"/><circle cx="70.1" cy="58.4" r="0.7" fill="#8c8c8c"/><circle cx="68.4" cy="49.8" r="0.7" fill="#8c8c8c"/><circle cx="49.5" cy="54.7" r="0.9" fill="#8c8c8c"/><circle cx="31.1" cy="48.2" r="0.9" fill="#8c8c8c"/><circle cx="59.5" cy="48.7" r="0.9" fill="#8c8c8c"/><circle cx="84.9" cy="49.1" r="0.7" fill="#8c8c8c"/><circle cx="37.8" cy="52.9" r="0.8" fill="#8c8c8c"/><circle cx="33.0" cy="50.3" r="0.9" fill="#8c8c8c"/><circle cx="53.2" cy="55.0" r="0.7" fill="#8c8c8c"/><circle cx="57.7" cy="54.3" r="0.5" fill="#8c8c8c"/><circle cx="86.6" cy="59.6" r="0.6" fill="#8c8c8c"/><circle cx="51.1" cy="60.1" r="0.8" fill="#8c8c8c"/><circle cx="36.6" cy="51.5" r="0.6" fill="#8c8c8c"/><circle cx="59.7" cy="62.4" r="0.7" fill="#8c8c8c"/><circle cx="54.9" cy="56.9" r="0.6" fill="#8c8c8c"/><circle cx="54.8" cy="54.4" r="0.8" fill="#8c8c8c"/><circle cx="36.0" cy="57.4" r="0.5" fill="#8c8c8c"/><circle cx="46.0" cy="53.5" r="0.8" fill="#8c8c8c"/><circle cx="42.1" cy="52.4" r="0.7" fill="#8c8c8c"/><circle cx="85.6" cy="56.1" r="0.9" fill="#8c8c8c"/><circle cx="51.1" cy="50.6" r="0.8" fill="#8c8c8c"/><circle cx="49.8" cy="51.6" r="0.5" fill="#8c8c8c"/><circle cx="78.3" cy="59.1" r="0.6" fill="#8c8c8c"/><circle cx="60.6" cy="56.1" r="0.8" fill="#8c8c8c"/><circle cx="81.9" cy="50.1" r="0.6" fill="#8c8c8c"/><circle cx="80.6" cy="52.3" r="0.9" fill="#8c8c8c"/><circle cx="59.9" cy="60.2" r="0.8" fill="#8c8c8c"/><circle cx="42.4" cy="52.4" r="0.6" fill="#8c8c8c"/><circle cx="69.6" cy="60.2" r="0.5" fill="#8c8c8c"/><circle cx="81.4" cy="55.0" r="0.6" fill="#8c8c8c"/><circle cx="62.5" cy="58.9" r="0.9" fill="#8c8c8c"/><circle cx="85.8" cy="61.4" r="0.7" fill="#8c8c8c"/><circle cx="75.8" cy="58.0" r="0.6" fill="#8c8c8c"/><circle cx="51.4" cy="61.0" r="0.7" fill="#8c8c8c"/><circle cx="82.4" cy="62.2" r="0.9" fill="#8c8c8c"/><circle cx="82.8" cy="57.2" r="0.8" fill="#8c8c8c"/><circle cx="52.0" cy="48.9" r="0.6" fill="#8c8c8c"/><circle cx="70.0" cy="57.3" r="0.8" fill="#8c8c8c"/><circle cx="37.2" cy="57.2" r="0.8" fill="#8c8c8c"/><circle cx="52.9" cy="51.7" r="0.7" fill="#8c8c8c"/><circle cx="48.8" cy="60.0" r="0.5" fill="#8c8c8c"/><circle cx="35.3" cy="52.9" r="0.8" fill="#8c8c8c"/><circle cx="74.1" cy="59.5" r="0.9" fill="#8c8c8c"/><circle cx="58.3" cy="55.4" r="0.5" fill="#8c8c8c"/><circle cx="68.7" cy="53.5" r="0.6" fill="#8c8c8c"/><circle cx="46.2" cy="50.8" r="0.7" fill="#8c8c8c"/><circle cx="59.1" cy="60.3" r="0.5" fill="#8c8c8c"/><circle cx="56.9" cy="58.5" r="0.9" fill="#8c8c8c"/><circle cx="44.5" cy="55.7" r="0.9" fill="#8c8c8c"/><circle cx="78.2" cy="51.3" r="0.7" fill="#8c8c8c"/><circle cx="74.2" cy="54.5" r="0.8" fill="#8c8c8c"/><circle cx="62.1" cy="59.9" r="0.6" fill="#8c8c8c"/><circle cx="72.5" cy="53.1" r="0.7" fill="#8c8c8c"/><circle cx="50.9" cy="52.8" r="0.5" fill="#8c8c8c"/><circle cx="43.1" cy="57.3" r="0.6" fill="#8c8c8c"/><circle cx="64.7" cy="54.4" r="0.9" fill="#8c8c8c"/><circle cx="82.0" cy="53.1" r="0.5" fill="#8c8c8c"/><circle cx="67.2" cy="63.0" r="0.8" fill="#8c8c8c"/><circle cx="75.5" cy="54.8" r="0.8" fill="#8c8c8c"/><circle cx="45.3" cy="54.7" r="0.6" fill="#8c8c8c"/><circle cx="52.3" cy="54.6" r="0.9" fill="#8c8c8c"/><circle cx="39.8" cy="50.9" r="0.6" fill="#8c8c8c"/><circle cx="86.3" cy="56.9" r="0.5" fill="#8c8c8c"/><circle cx="78.5" cy="63.6" r="0.9" fill="#8c8c8c"/><circle cx="50.8" cy="61.0" r="0.6" fill="#8c8c8c"/><circle cx="78.3" cy="51.0" r="0.9" fill="#8c8c8c"/><circle cx="47.2" cy="50.6" r="0.5" fill="#8c8c8c"/><circle cx="65.2" cy="48.9" r="0.8" fill="#8c8c8c"/><circle cx="61.1" cy="55.5" r="0.7" fill="#8c8c8c"/><circle cx="67.8" cy="62.2" r="0.7" fill="#8c8c8c"/><circle cx="66.9" cy="55.9" r="0.8" fill="#8c8c8c"/><circle cx="52.5" cy="54.9" r="0.7" fill="#8c8c8c"/><circle cx="71.5" cy="52.3" r="0.9" fill="#8c8c8c"/><circle cx="69.6" cy="55.1" r="0.7" fill="#8c8c8c"/><circle cx="65.2" cy="61.3" r="0.9" fill="#8c8c8c"/><circle cx="37.5" cy="48.2" r="0.5" fill="#8c8c8c"/><circle cx="34.9" cy="48.1" r="0.5" fill="#8c8c8c"/><circle cx="44.5" cy="49.2" r="0.8" fill="#8c8c8c"/><circle cx="85.7" cy="61.2" r="0.9" fill="#8c8c8c"/><circle cx="83.7" cy="56.0" r="0.6" fill="#8c8c8c"/><circle cx="73.9" cy="55.0" r="0.7" fill="#8c8c8c"/><circle cx="48.3" cy="51.6" r="0.5" fill="#8c8c8c"/><circle cx="87.2" cy="61.5" r="0.9" fill="#8c8c8c"/><circle cx="51.0" cy="52.7" r="0.9" fill="#8c8c8c"/><circle cx="64.8" cy="59.7" r="0.5" fill="#8c8c8c"/><circle cx="43.3" cy="56.2" r="0.8" fill="#8c8c8c"/><circle cx="77.9" cy="61.4" r="0.6" fill="#8c8c8c"/><circle cx="87.4" cy="56.2" r="0.5" fill="#8c8c8c"/><circle cx="35.7" cy="16.7" r="0.6" fill="#8a8a8a"/><circle cx="20.8" cy="13.7" r="0.8" fill="#8a8a8a"/><circle cx="16.8" cy="16.8" r="0.9" fill="#8a8a8a"/><circle cx="40.3" cy="11.0" r="0.7" fill="#8a8a8a"/><circle cx="15.9" cy="20.7" r="0.8" fill="#8a8a8a"/><circle cx="18.6" cy="17.0" r="0.7" fill="#8a8a8a"/><circle cx="33.9" cy="13.6" r="0.6" fill="#8a8a8a"/><circle cx="24.6" cy="16.0" r="0.7" fill="#8a8a8a"/><circle cx="18.6" cy="14.0" r="0.6" fill="#8a8a8a"/><circle cx="24.2" cy="13.3" r="0.6" fill="#8a8a8a"/><circle cx="47.6" cy="11.9" r="0.6" fill="#8a8a8a"/><circle cx="37.0" cy="13.9" r="0.7" fill="#8a8a8a"/><circle cx="36.6" cy="7.5" r="0.8" fill="#8a8a8a"/><circle cx="15.8" cy="11.0" r="0.9" fill="#8a8a8a"/><circle cx="18.5" cy="14.8" r="0.6" fill="#8a8a8a"/><circle cx="44.0" cy="10.7" r="0.5" fill="#8a8a8a"/><circle cx="34.4" cy="15.6" r="0.9" fill="#8a8a8a"/><circle cx="26.9" cy="15.3" r="0.6" fill="#8a8a8a"/><circle cx="21.1" cy="16.5" r="0.8" fill="#8a8a8a"/><circle cx="31.1" cy="19.2" r="0.8" fill="#8a8a8a"/><circle cx="39.1" cy="13.1" r="0.6" fill="#8a8a8a"/><circle cx="12.9" cy="23.8" r="0.8" fill="#8a8a8a"/><circle cx="43.8" cy="14.4" r="0.6" fill="#8a8a8a"/><circle cx="21.8" cy="14.3" r="0.5" fill="#8a8a8a"/><circle cx="23.7" cy="9.2" r="0.5" fill="#8a8a8a"/><circle cx="43.6" cy="13.6" r="0.7" fill="#8a8a8a"/><circle cx="17.6" cy="10.6" r="0.9" fill="#8a8a8a"/><circle cx="32.1" cy="13.3" r="0.5" fill="#8a8a8a"/><circle cx="21.9" cy="16.7" r="0.9" fill="#8a8a8a"/><circle cx="16.1" cy="18.3" r="0.5" fill="#8a8a8a"/><circle cx="105.9" cy="21.8" r="0.8" fill="#555"/><circle cx="100.7" cy="0.6" r="0.7" fill="#555"/><circle cx="99.7" cy="10.4" r="0.5" fill="#555"/><circle cx="107.0" cy="13.6" r="0.7" fill="#555"/><circle cx="106.0" cy="23.3" r="0.7" fill="#555"/><circle cx="102.1" cy="22.0" r="0.6" fill="#555"/><circle cx="106.7" cy="0.6" r="0.8" fill="#555"/><circle cx="101.9" cy="16.2" r="0.9" fill="#555"/><circle cx="97.9" cy="10.6" r="0.8" fill="#555"/><circle cx="104.7" cy="13.6" r="0.8" fill="#555"/><circle cx="103.8" cy="22.6" r="0.8" fill="#555"/><circle cx="99.7" cy="7.5" r="0.5" fill="#555"/><circle cx="96.6" cy="1.1" r="0.9" fill="#555"/><circle cx="96.8" cy="15.7" r="0.5" fill="#555"/><circle cx="107.6" cy="13.9" r="0.5" fill="#555"/><circle cx="105.7" cy="22.4" r="0.9" fill="#555"/><circle cx="97.9" cy="10.5" r="0.8" fill="#555"/><circle cx="98.7" cy="14.8" r="0.8" fill="#555"/><circle cx="104.8" cy="21.4" r="0.8" fill="#555"/><circle cx="98.7" cy="19.6" r="0.7" fill="#555"/><circle cx="97.2" cy="0.5" r="0.8" fill="#555"/><circle cx="99.7" cy="2.4" r="0.7" fill="#555"/><circle cx="100.4" cy="8.5" r="0.7" fill="#555"/><circle cx="102.0" cy="13.8" r="0.9" fill="#555"/><circle cx="106.8" cy="7.8" r="0.9" fill="#555"/><circle cx="32.0" cy="106.2" r="0.5" fill="#7a7a7a"/><circle cx="32.1" cy="106.1" r="0.8" fill="#7a7a7a"/><circle cx="46.8" cy="85.7" r="0.5" fill="#7a7a7a"/><circle cx="26.7" cy="92.1" r="0.9" fill="#7a7a7a"/><circle cx="45.8" cy="108.0" r="0.8" fill="#7a7a7a"/><circle cx="36.6" cy="105.5" r="0.6" fill="#7a7a7a"/><circle cx="22.0" cy="106.9" r="0.9" fill="#7a7a7a"/><circle cx="45.1" cy="93.4" r="0.6" fill="#7a7a7a"/><circle cx="23.6" cy="93.4" r="0.9" fill="#7a7a7a"/><circle cx="55.4" cy="94.4" r="0.8" fill="#7a7a7a"/><circle cx="37.8" cy="101.7" r="0.8" fill="#7a7a7a"/><circle cx="45.8" cy="96.5" r="0.5" fill="#7a7a7a"/><circle cx="37.9" cy="92.5" r="0.5" fill="#7a7a7a"/><circle cx="27.7" cy="91.5" r="0.5" fill="#7a7a7a"/><circle cx="43.7" cy="89.2" r="0.9" fill="#7a7a7a"/><circle cx="46.0" cy="94.5" r="0.7" fill="#7a7a7a"/><circle cx="34.9" cy="85.6" r="0.9" fill="#7a7a7a"/><circle cx="54.7" cy="98.2" r="0.8" fill="#7a7a7a"/><circle cx="25.5" cy="95.2" r="0.5" fill="#7a7a7a"/><circle cx="32.3" cy="96.4" r="0.5" fill="#7a7a7a"/><circle cx="28.9" cy="100.5" r="0.7" fill="#7a7a7a"/><circle cx="53.8" cy="84.5" r="0.5" fill="#7a7a7a"/><circle cx="55.7" cy="97.0" r="0.8" fill="#7a7a7a"/><circle cx="41.1" cy="84.2" r="0.9" fill="#7a7a7a"/><circle cx="38.8" cy="105.5" r="0.5" fill="#7a7a7a"/><circle cx="30.5" cy="95.4" r="0.6" fill="#7a7a7a"/><circle cx="52.7" cy="87.3" r="0.5" fill="#7a7a7a"/><circle cx="56.0" cy="104.6" r="0.8" fill="#7a7a7a"/><circle cx="51.6" cy="83.5" r="0.6" fill="#7a7a7a"/><circle cx="36.5" cy="104.1" r="0.5" fill="#7a7a7a"/><circle cx="0.7" cy="54.3" r="0.5" fill="#8a8a8a"/><circle cx="3.6" cy="41.7" r="0.7" fill="#8a8a8a"/><circle cx="6.4" cy="39.6" r="0.5" fill="#8a8a8a"/><circle cx="3.5" cy="52.3" r="0.9" fill="#8a8a8a"/><circle cx="0.3" cy="44.0" r="0.9" fill="#8a8a8a"/><circle cx="1.8" cy="39.4" r="0.6" fill="#8a8a8a"/><circle cx="7.1" cy="51.4" r="0.9" fill="#8a8a8a"/><circle cx="1.3" cy="42.9" r="0.8" fill="#8a8a8a"/><circle cx="106.5" cy="56.6" r="0.8" fill="#8c8c8c"/><circle cx="101.2" cy="52.1" r="0.5" fill="#8c8c8c"/><circle cx="107.1" cy="64.2" r="0.9" fill="#8c8c8c"/><circle cx="106.9" cy="59.1" r="0.8" fill="#8c8c8c"/><circle cx="103.5" cy="64.5" r="0.5" fill="#8c8c8c"/><circle cx="106.6" cy="54.8" r="0.7" fill="#8c8c8c"/><circle cx="103.9" cy="65.4" r="0.9" fill="#8c8c8c"/><circle cx="99.1" cy="57.4" r="0.8" fill="#8c8c8c"/><circle cx="95.6" cy="67.7" r="0.6" fill="#8c8c8c"/><circle cx="100.1" cy="57.6" r="0.8" fill="#8c8c8c"/><circle cx="97.3" cy="54.4" r="0.5" fill="#8c8c8c"/><circle cx="96.7" cy="63.2" r="0.9" fill="#8c8c8c"/><circle cx="99.6" cy="57.6" r="0.6" fill="#8c8c8c"/><circle cx="96.4" cy="59.6" r="0.6" fill="#8c8c8c"/><circle cx="68.8" cy="19.8" r="0.9" fill="#8a8a8a"/><circle cx="67.0" cy="20.2" r="0.6" fill="#8a8a8a"/><circle cx="65.0" cy="19.9" r="0.5" fill="#8a8a8a"/><circle cx="66.7" cy="15.8" r="0.5" fill="#8a8a8a"/><circle cx="57.4" cy="25.3" r="0.8" fill="#8a8a8a"/><circle cx="66.0" cy="11.7" r="0.7" fill="#8a8a8a"/><circle cx="56.2" cy="7.9" r="0.7" fill="#8a8a8a"/><circle cx="60.8" cy="8.1" r="0.5" fill="#8a8a8a"/><circle cx="61.1" cy="6.5" r="0.5" fill="#8a8a8a"/><circle cx="65.7" cy="20.9" r="0.8" fill="#8a8a8a"/><circle cx="69.2" cy="7.6" r="0.7" fill="#8a8a8a"/><circle cx="67.8" cy="4.9" r="0.9" fill="#8a8a8a"/><circle cx="64.8" cy="25.7" r="0.5" fill="#8a8a8a"/><circle cx="68.3" cy="25.2" r="0.8" fill="#8a8a8a"/></g>
<!-- buildings in the lens -->
<path d="M24 34 L33 30 L36 38 L27 42Z" fill="#bdbdbd" stroke="#3a3a3a" stroke-width=".7"/>
<path d="M30 28 L36 26 L38 30 L32 32Z" fill="#d0d0d0" stroke="#444" stroke-width=".6"/>
<path d="M36 36 L44 32 L50 38 L42 42Z" fill="#cacaca" stroke="#404040" stroke-width=".6"/>
<ellipse cx="52.5" cy="31.5" rx="7.5" ry="6.3" fill="#d2d2d2" stroke="#4a4a4a" stroke-width=".8"/><ellipse cx="52.5" cy="31.5" rx="4.5" ry="3.8" fill="#bdbdbd" stroke="#777" stroke-width=".4"/>
<path d="M42 42 L50 40 L54 46 L46 48Z" fill="#bcbcbc" stroke="#555" stroke-width=".5"/>
<path d="M61 31.5 L87.7 33 L87.7 48 L61 47Z" fill="#d8d8d8"/>
<path d="M54 29.5 L61 30.5 L72 31 L87.7 32.5" stroke="#2e2e2e" stroke-width="1.1" fill="none"/>
<path d="M61 38 L87 39" stroke="#b0b0b0" stroke-width=".5"/>
<!-- bottom-left building -->
<path d="M16 78.4 L30.7 68.9 L35.9 74 L20.5 84.2Z" fill="#e4e4e4" stroke="#4a4a4a" stroke-width=".5"/>
<path d="M15.6 78 L30.4 68.4" stroke="#151515" stroke-width="1.5"/>
<path d="M22 83 L36 74" stroke="#999" stroke-width=".6"/>
<!-- small buildings -->
<path d="M54 76 L62 73 L68 80 L60 84Z" fill="#d0d0d0" stroke="#3a3a3a" stroke-width=".6"/>
<path d="M56 84 L64 81 L66 86 L58 89Z" fill="#c4c4c4" stroke="#444" stroke-width=".5"/>

<path d="M54 101 L80.7 91.1 L108 81.8" stroke="#262626" stroke-width="1.2" fill="none"/><path d="M81.7 82.9 L93 77.7 L99.3 77.2" stroke="#333" stroke-width=".9" fill="none"/>
<!-- right buildings -->
<rect x="100" y="29.5" width="8" height="6" fill="#d0d0d0" stroke="#262626" stroke-width=".9"/>
<rect x="100" y="41" width="8" height="9" fill="#d6d6d6" stroke="#202020" stroke-width="1"/>
<!-- parking rows -->
<g stroke="#666" stroke-width=".8" stroke-dasharray="1 1.2">
<path d="M2 96 L22 86"/><path d="M4 101 L24 91"/><path d="M8 106 L27 96"/><path d="M2 91 L16 84"/>
<path d="M40 84 L50 79"/><path d="M42 89 L54 83"/>
</g>
<!-- residential -->
<g stroke="#3a3a3a" stroke-width=".6" fill="#d0d0d0"><rect x="72.7" y="95.6" width="2.0" height="2.0"/><rect x="78.1" y="93.4" width="2.9" height="1.7"/><rect x="63.9" y="103.2" width="2.6" height="1.7"/><rect x="68.1" y="102.1" width="2.2" height="1.8"/><rect x="74.5" y="100.2" width="2.3" height="2.4"/><rect x="79.1" y="98.1" width="2.2" height="2.4"/><rect x="84.5" y="96.5" width="2.9" height="1.8"/><rect x="89.3" y="93.8" width="2.1" height="1.7"/><rect x="94.5" y="92.3" width="2.0" height="2.1"/><rect x="99.7" y="90.1" width="2.8" height="2.0"/><rect x="104.9" y="88.4" width="2.7" height="1.6"/><rect x="70.5" y="106.6" width="2.0" height="2.2"/><rect x="75.2" y="104.5" width="2.0" height="1.6"/><rect x="80.2" y="103.0" width="2.2" height="2.2"/><rect x="86.3" y="101.0" width="2.3" height="1.9"/><rect x="91.0" y="99.0" width="2.1" height="2.2"/><rect x="96.6" y="97.2" width="2.0" height="2.4"/><rect x="100.9" y="94.7" width="2.6" height="2.3"/><rect x="86.9" y="104.7" width="3.0" height="2.0"/><rect x="92.4" y="103.0" width="2.6" height="2.3"/><rect x="97.6" y="101.3" width="2.1" height="2.3"/><rect x="102.3" y="99.5" width="2.8" height="1.7"/></g>
<g fill="#4a4a4a"><circle cx="89.6" cy="102.3" r="0.7"/><circle cx="99.7" cy="91.5" r="0.8"/><circle cx="107.0" cy="103.7" r="1.1"/><circle cx="81.3" cy="95.7" r="1.0"/><circle cx="77.7" cy="106.7" r="1.1"/><circle cx="89.5" cy="96.0" r="0.8"/><circle cx="96.8" cy="104.1" r="0.8"/><circle cx="96.9" cy="102.0" r="0.9"/><circle cx="91.2" cy="101.7" r="0.8"/><circle cx="93.1" cy="91.2" r="0.8"/><circle cx="96.2" cy="100.2" r="0.7"/><circle cx="104.4" cy="99.3" r="0.9"/><circle cx="71.8" cy="99.8" r="0.8"/><circle cx="98.4" cy="99.2" r="1.0"/><circle cx="76.4" cy="99.2" r="1.0"/><circle cx="98.9" cy="92.7" r="1.0"/><circle cx="100.9" cy="100.1" r="1.1"/><circle cx="105.0" cy="96.4" r="0.9"/><circle cx="67.8" cy="103.4" r="1.1"/><circle cx="82.4" cy="100.2" r="1.0"/></g>

</g>
<rect x="-1" width="109" height="108.5" filter="url(#tx2)" opacity=".14"/>
<rect x="-1" width="109" height="108.5" filter="url(#tx2w)" opacity=".18"/>
<path d="M56 101 L81 91.5 L108 82 L108 108 L54 108Z" filter="url(#tx2b)" opacity=".3"/>
</g>
<g transform="translate(4 235)" clip-path="url(#cp3)">
<defs>
<clipPath id="cp3"><rect x="-1" y="0" width="109" height="108.3"/></clipPath>
<linearGradient id="gnd3" x1="0" y1="0" x2="0" y2="1"><stop offset="0" stop-color="#979797"/><stop offset=".5" stop-color="#919191"/><stop offset="1" stop-color="#8c8c8c"/></linearGradient>
<filter id="bl3" x="-5%" y="-5%" width="110%" height="110%"><feGaussianBlur stdDeviation=".45"/></filter>
<filter id="cl3" x="-30%" y="-30%" width="160%" height="160%"><feGaussianBlur stdDeviation="1.8"/></filter>
<filter id="tx3" x="0" y="0" width="1" height="1"><feTurbulence type="fractalNoise" baseFrequency="0.25 0.8" numOctaves="2" seed="4"/><feColorMatrix type="matrix" values="0 0 0 0 0  0 0 0 0 0  0 0 0 0 0  1.4 0 0 0 -.6"/></filter>
<filter id="tx3b" x="0" y="0" width="1" height="1"><feTurbulence type="fractalNoise" baseFrequency="0.3 0.9" numOctaves="2" seed="8"/><feColorMatrix type="matrix" values="0 0 0 0 1  0 0 0 0 1  0 0 0 0 1  1.4 0 0 0 -.65"/></filter>
</defs>
<rect x="-1" width="109" height="80" fill="#828282"/>
<g filter="url(#cl3)">
<rect x="-2" y="28" width="32" height="28" fill="#a2a2a2"/>
<rect x="56" y="26" width="52" height="18" fill="#9c9c9c"/>
<ellipse cx="16" cy="16" rx="11" ry="5.5" fill="#cacaca"/>
<ellipse cx="37" cy="8.5" rx="19" ry="6.5" fill="#cdcdcd"/>
<ellipse cx="34" cy="26" rx="16" ry="4.5" fill="#acacac"/>
<ellipse cx="93" cy="17" rx="16" ry="7.5" fill="#c4c4c4"/>
<ellipse cx="64" cy="24" rx="7" ry="5" fill="#b6b6b6"/>
<ellipse cx="14" cy="38" rx="12" ry="4" fill="#b0b0b0"/>
<ellipse cx="22" cy="48" rx="10" ry="3.5" fill="#a8a8a8"/>
<ellipse cx="78" cy="36" rx="9" ry="4" fill="#acacac"/>
<rect x="-1" y="0" width="3.5" height="80" fill="#787878"/>
</g>
<rect x="-1" y="0" width="109" height="1.4" fill="#a4a4a4"/>
<rect x="-1" y="79" width="109" height="29.5" fill="url(#gnd3)"/>
<rect x="-1" y="79" width="109" height="29.5" filter="url(#tx3)" opacity=".2"/>
<rect x="-1" y="79" width="109" height="29.5" filter="url(#tx3b)" opacity=".2"/>
<rect x="-1" y="56" width="2" height="52.5" fill="#a8a8a8"/>
<g filter="url(#bl3)">
<!-- masts -->
<g stroke="#333" stroke-width=".9" fill="none">
<path d="M55 2 L64.8 30"/><path d="M87.4 4 L69.7 33.5"/>
<path d="M83.5 19.6 L88.4 40"/><path d="M108 15.7 L92.3 41.3"/>
<path d="M37.8 12.2 L41 40" stroke-width=".8"/><path d="M38.3 12.8 L47 44" stroke-width=".5"/>
<path d="M49.5 30 L45 46" stroke-width=".6"/>
<path d="M14 44 L15 62" stroke-width=".6"/><path d="M3.5 47 L5 62" stroke-width=".5"/>
<path d="M104 8 L106 44" stroke-width=".7"/>
</g>
<path d="M65.8 0 L67.8 30" stroke="#b8b8b8" stroke-width="1"/>
<path d="M89.4 18.7 L90.4 41.3" stroke="#c0c0c0" stroke-width=".9"/>
<!-- funnel -->
<rect x="32.3" y="29.3" width="4" height="18" fill="#d4d4d4"/>
<rect x="32.3" y="29.3" width="4" height="2" fill="#555"/>
<!-- left small boat -->
<rect x="4" y="53" width="9.8" height="12" fill="#b8b8b8"/>
<rect x="6" y="55" width="3" height="4" fill="#e0e0e0"/>
<path d="M1.5 65 L19 64 L19 74.5 L3 74.5Z" fill="#444"/>
<!-- middle boat -->
<path d="M24 50 C27 45 33 45 38 47 L45 48 L45 61 L22 61Z" fill="#5a5a5a"/>
<path d="M17.7 60.7 L47 58.5 L47 64.6 L18.5 64.6Z" fill="#3a3a3a"/>
<rect x="20" y="61.5" width="14" height="1.6" fill="#b0b0b0"/>
<path d="M18.5 64.6 L47 64 L47 72.5 L21 72.5Z" fill="#cfcfcf"/>
<path d="M21 72.5 L47 72.5 L47 77.4 L24 77.4Z" fill="#404040"/>
<rect x="30" y="64" width="1.2" height="15" fill="#444"/>
<rect x="42" y="62" width="1.4" height="18" fill="#3a3a3a"/>
<!-- big boat cabin -->
<rect x="54" y="32.4" width="13.8" height="13" fill="#d6d6d6"/>
<rect x="54" y="32.4" width="13.8" height="1.8" fill="#8a8a8a"/>
<rect x="56" y="37" width="3" height="4" fill="#707070"/>
<rect x="61" y="37" width="2.4" height="4" fill="#707070"/>
<rect x="67.8" y="34" width="3.5" height="11" fill="#5c5c5c"/>
<rect x="60" y="29" width="5" height="4" fill="#c4c4c4"/>
<!-- big boat hull -->
<path d="M44 62 L70 59.5 L94.5 59.4 L91 69 L81 79.7 L55 79.7 C49 76 45.5 70 44 62Z" fill="#363636"/>
<path d="M44.5 58 C46 54 48 52 50 51.3 L69.2 44.5 L70 44.5 L70 60 L52 63 L45 63Z" fill="#c9c9c9"/>
<path d="M46 56.5 L69.5 50 L69.5 52 L46.5 58.5Z" fill="#3e3e3e"/>
<path d="M46 60 L69.5 55.5 L69.5 57 L46.5 61.5Z" fill="#8a8a8a"/>
<path d="M69.2 42 L94.5 40.5 L94.5 59.4 L69.2 60Z" fill="#333"/>
<path d="M69.2 43.8 L94.5 42.6 L94.5 49.8 L69.2 50.6Z" fill="#d2d2d2"/>
<rect x="73" y="45.4" width="16" height="1.8" fill="#7a7a7a"/>
<path d="M69.2 54.7 L94.5 54 L94.5 58.6 L69.2 59.4Z" fill="#cacaca"/>
<ellipse cx="48.5" cy="69" rx="4.5" ry="4" fill="#8e8e8e"/>
<!-- right side boat/people -->
<path d="M94.5 40 L108 37 L108 80 L93 80 C94 72 95 60 94.5 40Z" fill="#3a3a3a"/>
<rect x="99.7" y="55.3" width="8.3" height="10.9" fill="#bdbdbd"/>
<rect x="100" y="42" width="8" height="6" fill="#a8a8a8"/>
<path d="M86 60 L93 58 L95 80 L86 80Z" fill="#474747"/>
<path d="M87 64 L92 62.5 L93 73 L88 74Z" fill="#8c8c8c"/>
<rect x="80" y="58" width="1.8" height="22" fill="#2e2e2e"/>
<ellipse cx="26" cy="80" rx="1.6" ry="1" fill="#c8c8c8"/>
<ellipse cx="43" cy="81.5" rx="1.5" ry=".9" fill="#bdbdbd"/>
</g>
</g>
<text class="cap" transform="translate(57.7 362.4) scale(1 1.1)" text-anchor="middle">(<tspan font-weight="bold">a</tspan>)</text><text class="cap" transform="translate(195.6 362.4) scale(1 1.1)" text-anchor="middle">(<tspan font-weight="bold">b</tspan>)</text><text class="cap" transform="translate(333.4 362.4) scale(1 1.1)" text-anchor="middle">(<tspan font-weight="bold">c</tspan>)</text><text class="cap" transform="translate(471.2 362.4) scale(1 1.1)" text-anchor="middle">(<tspan font-weight="bold">d</tspan>)</text></svg>
</body></html>
